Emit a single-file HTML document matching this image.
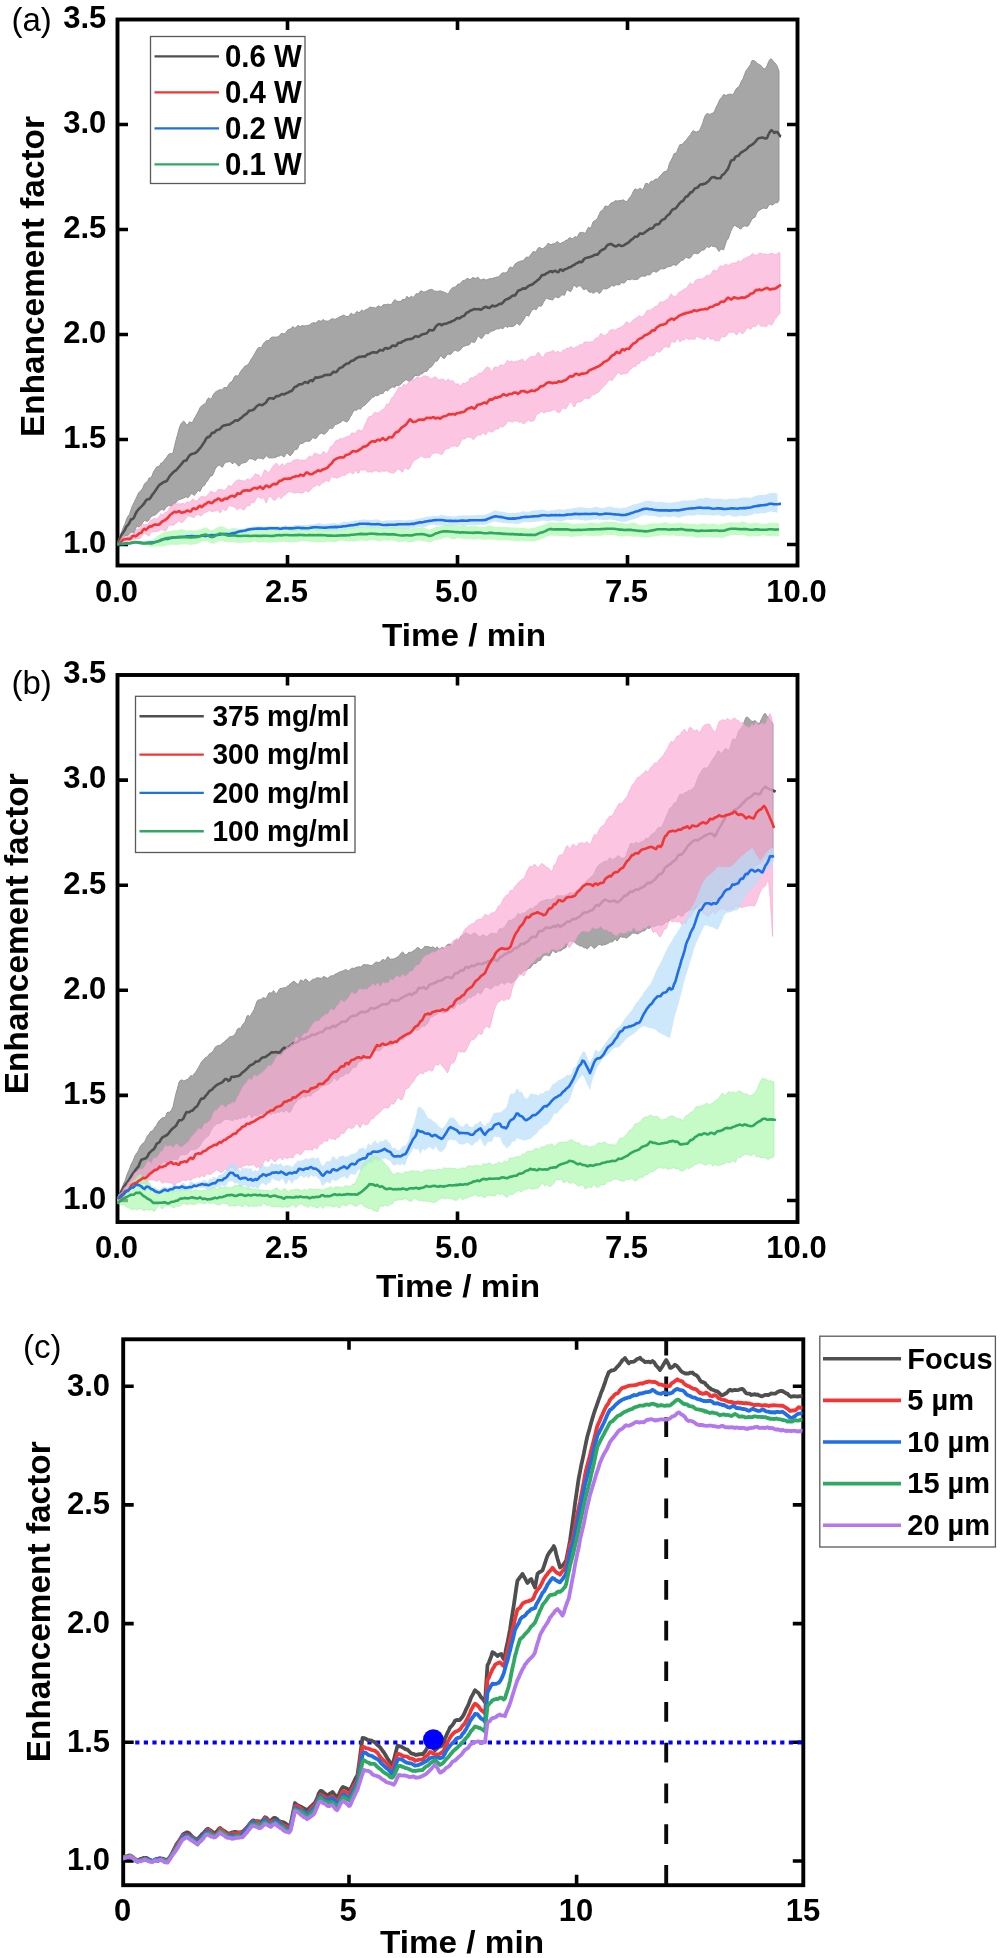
<!DOCTYPE html>
<html lang="en"><head><meta charset="utf-8"><title>Enhancement factor figure</title>
<style>
html,body{margin:0;padding:0;background:#fff}
body{width:1000px;height:1958px;overflow:hidden}
svg{display:block;filter:blur(0.4px)}
svg text{font-family:"Liberation Sans",Arial,Helvetica,sans-serif;fill:#000}
</style></head><body>
<svg width="1000" height="1958" viewBox="0 0 1000 1958">
<rect width="1000" height="1958" fill="#fff"/>
<g id="panelA">
<rect x="117.5" y="19.5" width="680.0" height="546.0" fill="none" stroke="#000" stroke-width="3.9"/>
<path d="M287.5,565.5V555.0M287.5,19.5V30.0M457.5,565.5V555.0M457.5,19.5V30.0M627.5,565.5V555.0M627.5,19.5V30.0M117.5,544.5H128.0M797.5,544.5H787.0M117.5,439.5H128.0M797.5,439.5H787.0M117.5,334.5H128.0M797.5,334.5H787.0M117.5,229.5H128.0M797.5,229.5H787.0M117.5,124.5H128.0M797.5,124.5H787.0" stroke="#000" stroke-width="3.6" fill="none"/>
<path d="M117.5,542.0 L119.0,538.1 L120.5,535.1 L122.0,530.9 L123.5,527.0 L125.0,524.0 L126.5,519.1 L128.0,516.2 L129.5,514.4 L131.0,509.6 L132.5,505.4 L134.0,502.7 L135.5,499.4 L137.0,496.4 L138.5,493.1 L140.0,491.3 L141.5,490.1 L143.0,487.5 L144.5,483.8 L146.0,482.5 L147.5,481.4 L149.0,478.0 L150.5,477.7 L152.0,476.1 L153.5,471.7 L155.0,469.6 L156.5,467.1 L158.0,466.5 L159.5,466.1 L161.0,463.1 L162.5,462.8 L164.0,460.6 L165.5,458.6 L167.0,456.8 L168.5,454.4 L170.0,453.6 L171.5,453.7 L173.0,453.1 L174.5,446.3 L176.0,440.1 L177.5,434.7 L179.0,429.0 L180.5,424.7 L182.0,422.5 L183.5,421.2 L185.0,422.3 L186.5,424.9 L188.0,424.4 L189.5,421.8 L191.0,422.5 L192.5,422.6 L194.0,418.9 L195.5,416.5 L197.0,413.9 L198.5,411.1 L200.0,407.7 L201.5,405.9 L203.0,404.9 L204.5,404.1 L206.0,402.6 L207.5,398.9 L209.0,397.7 L210.5,399.2 L212.0,397.6 L213.5,394.3 L215.0,392.4 L216.5,391.2 L218.0,390.8 L219.5,389.6 L221.0,389.9 L222.5,389.5 L224.0,387.4 L225.5,387.6 L227.0,387.6 L228.5,385.0 L230.0,382.6 L231.5,381.8 L233.0,379.9 L234.5,376.5 L236.0,375.6 L237.5,376.2 L239.0,374.5 L240.5,371.6 L242.0,369.6 L243.5,368.1 L245.0,366.0 L246.5,365.4 L248.0,364.8 L249.5,362.3 L251.0,359.5 L252.5,357.4 L254.0,354.9 L255.5,352.2 L257.0,349.6 L258.5,347.5 L260.0,347.7 L261.5,347.4 L263.0,344.4 L264.5,342.3 L266.0,340.9 L267.5,340.5 L269.0,340.5 L270.5,338.1 L272.0,337.1 L273.5,337.0 L275.0,337.2 L276.5,337.1 L278.0,336.7 L279.5,335.7 L281.0,333.5 L282.5,333.5 L284.0,333.9 L285.5,333.4 L287.0,330.7 L288.5,329.4 L290.0,329.3 L291.5,327.9 L293.0,326.6 L294.5,327.9 L296.0,327.8 L297.5,325.6 L299.0,326.0 L300.5,326.5 L302.0,325.6 L303.5,325.8 L305.0,326.0 L306.5,325.4 L308.0,325.4 L309.5,325.1 L311.0,323.6 L312.5,322.9 L314.0,322.7 L315.5,322.9 L317.0,322.2 L318.5,320.4 L320.0,321.1 L321.5,321.2 L323.0,319.4 L324.5,320.5 L326.0,321.2 L327.5,321.0 L329.0,320.9 L330.5,319.5 L332.0,318.7 L333.5,318.9 L335.0,319.4 L336.5,318.6 L338.0,318.0 L339.5,316.8 L341.0,316.4 L342.5,315.6 L344.0,314.9 L345.5,316.2 L347.0,316.6 L348.5,316.8 L350.0,314.3 L351.5,313.1 L353.0,314.7 L354.5,314.4 L356.0,312.3 L357.5,311.4 L359.0,313.1 L360.5,311.2 L362.0,309.7 L363.5,311.4 L365.0,310.1 L366.5,309.4 L368.0,308.7 L369.5,307.3 L371.0,307.1 L372.5,307.5 L374.0,307.7 L375.5,307.9 L377.0,306.9 L378.5,305.7 L380.0,306.8 L381.5,307.0 L383.0,304.9 L384.5,304.6 L386.0,304.8 L387.5,304.2 L389.0,304.3 L390.5,304.5 L392.0,303.9 L393.5,301.1 L395.0,299.5 L396.5,301.1 L398.0,301.5 L399.5,301.3 L401.0,301.3 L402.5,299.4 L404.0,299.6 L405.5,299.1 L407.0,296.2 L408.5,298.0 L410.0,297.6 L411.5,295.9 L413.0,297.4 L414.5,296.4 L416.0,293.8 L417.5,293.8 L419.0,293.3 L420.5,290.9 L422.0,291.1 L423.5,292.0 L425.0,291.9 L426.5,291.3 L428.0,290.3 L429.5,289.8 L431.0,289.4 L432.5,289.5 L434.0,291.0 L435.5,291.2 L437.0,291.3 L438.5,291.3 L440.0,290.7 L441.5,291.3 L443.0,291.8 L444.5,292.4 L446.0,292.9 L447.5,294.0 L449.0,292.5 L450.5,289.9 L452.0,288.2 L453.5,287.2 L455.0,287.4 L456.5,285.7 L458.0,284.0 L459.5,284.0 L461.0,282.8 L462.5,280.8 L464.0,280.5 L465.5,279.8 L467.0,278.3 L468.5,278.8 L470.0,279.6 L471.5,278.6 L473.0,277.4 L474.5,278.1 L476.0,278.6 L477.5,277.1 L479.0,278.3 L480.5,279.9 L482.0,279.7 L483.5,278.9 L485.0,279.5 L486.5,280.1 L488.0,279.2 L489.5,278.8 L491.0,278.3 L492.5,278.5 L494.0,277.8 L495.5,277.6 L497.0,277.0 L498.5,276.7 L500.0,275.6 L501.5,273.4 L503.0,272.8 L504.5,272.9 L506.0,272.7 L507.5,271.7 L509.0,268.3 L510.5,266.8 L512.0,268.1 L513.5,266.7 L515.0,264.1 L516.5,263.1 L518.0,262.1 L519.5,261.5 L521.0,261.0 L522.5,260.7 L524.0,260.2 L525.5,257.8 L527.0,257.0 L528.5,257.4 L530.0,255.6 L531.5,253.7 L533.0,251.6 L534.5,251.7 L536.0,252.2 L537.5,249.0 L539.0,247.3 L540.5,247.9 L542.0,248.9 L543.5,248.2 L545.0,247.1 L546.5,245.5 L548.0,243.3 L549.5,243.9 L551.0,244.8 L552.5,243.8 L554.0,244.0 L555.5,243.0 L557.0,241.4 L558.5,242.5 L560.0,243.9 L561.5,242.8 L563.0,242.3 L564.5,241.5 L566.0,240.1 L567.5,240.1 L569.0,238.0 L570.5,237.7 L572.0,239.0 L573.5,238.0 L575.0,236.6 L576.5,237.2 L578.0,235.6 L579.5,232.8 L581.0,232.6 L582.5,232.2 L584.0,233.0 L585.5,233.2 L587.0,229.7 L588.5,227.2 L590.0,228.2 L591.5,226.4 L593.0,221.9 L594.5,220.7 L596.0,220.0 L597.5,218.2 L599.0,214.8 L600.5,211.5 L602.0,210.5 L603.5,209.1 L605.0,206.1 L606.5,206.0 L608.0,206.9 L609.5,204.8 L611.0,203.1 L612.5,202.5 L614.0,201.9 L615.5,200.5 L617.0,201.1 L618.5,200.8 L620.0,200.6 L621.5,200.4 L623.0,199.8 L624.5,200.6 L626.0,201.8 L627.5,200.9 L629.0,198.2 L630.5,197.3 L632.0,194.2 L633.5,191.0 L635.0,188.9 L636.5,189.4 L638.0,189.9 L639.5,188.2 L641.0,188.5 L642.5,190.0 L644.0,187.4 L645.5,183.6 L647.0,183.2 L648.5,184.5 L650.0,182.3 L651.5,181.1 L653.0,181.5 L654.5,179.6 L656.0,179.1 L657.5,179.2 L659.0,177.2 L660.5,175.4 L662.0,174.1 L663.5,172.1 L665.0,171.5 L666.5,171.3 L668.0,168.8 L669.5,163.2 L671.0,160.6 L672.5,157.6 L674.0,153.7 L675.5,153.4 L677.0,151.4 L678.5,147.4 L680.0,144.5 L681.5,144.5 L683.0,143.8 L684.5,141.5 L686.0,140.4 L687.5,138.2 L689.0,136.3 L690.5,134.7 L692.0,131.7 L693.5,130.4 L695.0,131.8 L696.5,131.9 L698.0,131.4 L699.5,130.5 L701.0,127.2 L702.5,123.7 L704.0,118.7 L705.5,114.9 L707.0,113.6 L708.5,113.9 L710.0,114.4 L711.5,113.4 L713.0,113.2 L714.5,111.2 L716.0,107.5 L717.5,104.8 L719.0,101.3 L720.5,98.5 L722.0,97.3 L723.5,94.6 L725.0,95.1 L726.5,95.4 L728.0,94.4 L729.5,94.2 L731.0,94.1 L732.5,95.0 L734.0,93.1 L735.5,89.9 L737.0,87.9 L738.5,87.2 L740.0,84.5 L741.5,80.9 L743.0,79.0 L744.5,74.5 L746.0,70.7 L747.5,68.9 L749.0,66.8 L750.5,64.5 L752.0,60.5 L753.5,60.5 L755.0,61.2 L756.5,62.4 L758.0,64.0 L759.5,64.7 L761.0,65.6 L762.5,67.5 L764.0,69.0 L765.5,68.4 L767.0,65.9 L768.5,62.0 L770.0,59.2 L771.5,58.9 L773.0,60.9 L774.5,62.5 L776.0,64.1 L777.5,67.1 L779.0,71.3 L779.0,200.3 L777.5,202.8 L776.0,202.6 L774.5,203.3 L773.0,204.9 L771.5,204.9 L770.0,204.0 L768.5,205.7 L767.0,208.4 L765.5,208.6 L764.0,208.0 L762.5,208.5 L761.0,209.2 L759.5,210.2 L758.0,211.0 L756.5,213.6 L755.0,217.2 L753.5,217.9 L752.0,218.9 L750.5,221.9 L749.0,224.8 L747.5,226.4 L746.0,226.1 L744.5,225.9 L743.0,226.3 L741.5,228.6 L740.0,229.0 L738.5,227.3 L737.0,227.0 L735.5,225.7 L734.0,225.6 L732.5,227.8 L731.0,230.8 L729.5,235.1 L728.0,239.1 L726.5,240.8 L725.0,245.6 L723.5,250.0 L722.0,248.9 L720.5,249.4 L719.0,251.5 L717.5,249.3 L716.0,246.8 L714.5,246.7 L713.0,246.4 L711.5,245.7 L710.0,246.9 L708.5,247.5 L707.0,246.3 L705.5,248.3 L704.0,250.2 L702.5,249.9 L701.0,251.0 L699.5,252.6 L698.0,253.6 L696.5,253.7 L695.0,253.1 L693.5,253.6 L692.0,255.6 L690.5,257.8 L689.0,258.3 L687.5,257.9 L686.0,257.1 L684.5,258.8 L683.0,260.4 L681.5,260.3 L680.0,261.8 L678.5,263.3 L677.0,264.8 L675.5,265.4 L674.0,264.7 L672.5,264.9 L671.0,266.5 L669.5,266.5 L668.0,266.8 L666.5,267.6 L665.0,268.5 L663.5,269.0 L662.0,268.6 L660.5,269.0 L659.0,270.3 L657.5,271.5 L656.0,272.3 L654.5,271.4 L653.0,271.2 L651.5,273.1 L650.0,274.8 L648.5,274.9 L647.0,274.7 L645.5,276.1 L644.0,276.2 L642.5,275.9 L641.0,276.5 L639.5,277.5 L638.0,279.2 L636.5,279.5 L635.0,279.6 L633.5,279.6 L632.0,278.8 L630.5,279.7 L629.0,279.7 L627.5,279.5 L626.0,280.9 L624.5,282.9 L623.0,283.0 L621.5,282.5 L620.0,284.4 L618.5,285.0 L617.0,284.6 L615.5,285.0 L614.0,286.3 L612.5,285.6 L611.0,285.7 L609.5,287.6 L608.0,288.0 L606.5,289.0 L605.0,288.9 L603.5,288.6 L602.0,290.2 L600.5,292.6 L599.0,293.5 L597.5,291.6 L596.0,291.4 L594.5,292.6 L593.0,293.2 L591.5,292.1 L590.0,292.3 L588.5,291.7 L587.0,289.2 L585.5,288.8 L584.0,289.9 L582.5,288.6 L581.0,285.8 L579.5,285.8 L578.0,286.2 L576.5,287.6 L575.0,285.7 L573.5,285.0 L572.0,289.5 L570.5,291.7 L569.0,290.8 L567.5,290.0 L566.0,291.3 L564.5,295.2 L563.0,294.9 L561.5,294.8 L560.0,296.8 L558.5,297.7 L557.0,297.5 L555.5,296.7 L554.0,298.3 L552.5,300.2 L551.0,299.3 L549.5,299.5 L548.0,298.8 L546.5,298.0 L545.0,299.8 L543.5,302.1 L542.0,305.5 L540.5,306.4 L539.0,305.4 L537.5,307.7 L536.0,310.0 L534.5,308.9 L533.0,309.5 L531.5,310.8 L530.0,313.7 L528.5,316.3 L527.0,315.1 L525.5,316.1 L524.0,319.2 L522.5,321.3 L521.0,323.6 L519.5,325.3 L518.0,323.9 L516.5,323.0 L515.0,325.2 L513.5,326.2 L512.0,326.6 L510.5,326.6 L509.0,326.2 L507.5,327.7 L506.0,326.1 L504.5,326.6 L503.0,328.8 L501.5,328.2 L500.0,328.0 L498.5,329.1 L497.0,328.8 L495.5,329.4 L494.0,330.6 L492.5,330.9 L491.0,331.3 L489.5,332.8 L488.0,334.1 L486.5,333.4 L485.0,333.9 L483.5,336.3 L482.0,338.3 L480.5,338.2 L479.0,336.0 L477.5,336.4 L476.0,340.2 L474.5,342.5 L473.0,342.2 L471.5,341.6 L470.0,343.8 L468.5,345.3 L467.0,345.0 L465.5,345.9 L464.0,346.1 L462.5,346.9 L461.0,349.3 L459.5,350.5 L458.0,351.3 L456.5,350.8 L455.0,350.0 L453.5,351.0 L452.0,353.0 L450.5,354.6 L449.0,354.1 L447.5,354.2 L446.0,356.2 L444.5,358.5 L443.0,358.0 L441.5,356.3 L440.0,355.9 L438.5,359.2 L437.0,361.3 L435.5,360.9 L434.0,362.9 L432.5,365.5 L431.0,367.3 L429.5,367.3 L428.0,370.0 L426.5,371.7 L425.0,371.3 L423.5,372.7 L422.0,373.7 L420.5,374.3 L419.0,375.7 L417.5,375.8 L416.0,375.4 L414.5,375.8 L413.0,378.2 L411.5,380.1 L410.0,381.1 L408.5,381.3 L407.0,379.8 L405.5,380.1 L404.0,381.0 L402.5,382.6 L401.0,384.0 L399.5,385.1 L398.0,385.8 L396.5,385.2 L395.0,387.3 L393.5,387.1 L392.0,386.9 L390.5,388.2 L389.0,389.2 L387.5,391.1 L386.0,390.0 L384.5,391.0 L383.0,393.6 L381.5,393.6 L380.0,393.8 L378.5,395.2 L377.0,395.7 L375.5,395.5 L374.0,396.9 L372.5,397.2 L371.0,398.7 L369.5,400.5 L368.0,401.9 L366.5,403.5 L365.0,405.1 L363.5,405.9 L362.0,406.9 L360.5,409.3 L359.0,408.5 L357.5,409.4 L356.0,410.4 L354.5,409.9 L353.0,411.9 L351.5,415.0 L350.0,417.3 L348.5,420.4 L347.0,422.1 L345.5,421.4 L344.0,420.8 L342.5,420.2 L341.0,422.1 L339.5,422.9 L338.0,423.6 L336.5,424.4 L335.0,424.5 L333.5,427.1 L332.0,428.8 L330.5,428.1 L329.0,428.6 L327.5,431.3 L326.0,432.7 L324.5,434.2 L323.0,433.9 L321.5,433.1 L320.0,433.8 L318.5,434.9 L317.0,437.5 L315.5,438.7 L314.0,438.0 L312.5,437.6 L311.0,439.9 L309.5,441.3 L308.0,441.2 L306.5,441.2 L305.0,441.5 L303.5,442.9 L302.0,443.4 L300.5,443.7 L299.0,445.2 L297.5,448.9 L296.0,449.6 L294.5,449.6 L293.0,452.5 L291.5,454.6 L290.0,455.8 L288.5,454.4 L287.0,452.8 L285.5,454.7 L284.0,457.1 L282.5,455.9 L281.0,454.8 L279.5,456.0 L278.0,456.1 L276.5,456.9 L275.0,457.7 L273.5,457.6 L272.0,458.1 L270.5,457.7 L269.0,458.1 L267.5,456.8 L266.0,455.4 L264.5,458.0 L263.0,459.3 L261.5,458.3 L260.0,458.3 L258.5,458.0 L257.0,458.5 L255.5,460.6 L254.0,459.8 L252.5,458.9 L251.0,459.0 L249.5,458.3 L248.0,460.2 L246.5,462.1 L245.0,462.6 L243.5,462.9 L242.0,463.0 L240.5,464.5 L239.0,466.2 L237.5,465.1 L236.0,463.0 L234.5,461.9 L233.0,463.7 L231.5,463.1 L230.0,461.1 L228.5,462.0 L227.0,461.9 L225.5,462.6 L224.0,464.2 L222.5,467.2 L221.0,466.6 L219.5,464.9 L218.0,465.8 L216.5,466.9 L215.0,469.4 L213.5,473.5 L212.0,475.9 L210.5,475.9 L209.0,478.3 L207.5,480.9 L206.0,482.5 L204.5,485.6 L203.0,485.8 L201.5,488.2 L200.0,491.5 L198.5,490.6 L197.0,491.5 L195.5,494.1 L194.0,495.5 L192.5,493.9 L191.0,493.5 L189.5,496.1 L188.0,497.8 L186.5,497.0 L185.0,497.1 L183.5,498.1 L182.0,498.7 L180.5,499.2 L179.0,499.6 L177.5,500.5 L176.0,502.7 L174.5,503.6 L173.0,504.3 L171.5,506.2 L170.0,505.5 L168.5,505.8 L167.0,506.4 L165.5,507.9 L164.0,510.5 L162.5,509.3 L161.0,509.6 L159.5,511.0 L158.0,512.0 L156.5,514.1 L155.0,514.9 L153.5,515.6 L152.0,516.1 L150.5,517.2 L149.0,519.9 L147.5,521.5 L146.0,521.0 L144.5,520.4 L143.0,522.1 L141.5,524.5 L140.0,526.3 L138.5,527.2 L137.0,525.7 L135.5,528.8 L134.0,533.1 L132.5,532.2 L131.0,532.3 L129.5,534.0 L128.0,535.1 L126.5,535.9 L125.0,535.7 L123.5,538.4 L122.0,542.4 L120.5,543.5 L119.0,544.1 L117.5,545.0Z" fill="#a5a6a5" stroke="#8e8e8e" stroke-width="0.9" stroke-linejoin="round"/>
<path d="M117.5,543.0 L119.0,540.3 L120.5,536.9 L122.0,534.0 L123.5,532.0 L125.0,529.6 L126.5,526.4 L128.0,525.1 L129.5,522.8 L131.0,519.3 L132.5,519.2 L134.0,517.6 L135.5,513.7 L137.0,511.3 L138.5,509.3 L140.0,507.9 L141.5,506.4 L143.0,504.9 L144.5,502.9 L146.0,500.4 L147.5,499.3 L149.0,499.2 L150.5,497.8 L152.0,495.1 L153.5,493.2 L155.0,491.2 L156.5,489.0 L158.0,486.7 L159.5,484.7 L161.0,484.0 L162.5,482.8 L164.0,481.8 L165.5,481.6 L167.0,480.6 L168.5,478.1 L170.0,475.6 L171.5,474.1 L173.0,472.5 L174.5,471.2 L176.0,470.3 L177.5,468.7 L179.0,466.9 L180.5,465.2 L182.0,463.4 L183.5,461.2 L185.0,460.6 L186.5,460.4 L188.0,457.7 L189.5,455.4 L191.0,454.4 L192.5,453.7 L194.0,453.5 L195.5,452.9 L197.0,451.6 L198.5,450.0 L200.0,448.2 L201.5,446.2 L203.0,444.1 L204.5,441.8 L206.0,438.8 L207.5,437.0 L209.0,437.1 L210.5,435.3 L212.0,432.9 L213.5,432.7 L215.0,432.0 L216.5,430.1 L218.0,429.8 L219.5,429.4 L221.0,427.9 L222.5,426.1 L224.0,425.4 L225.5,425.3 L227.0,424.8 L228.5,424.7 L230.0,424.3 L231.5,423.1 L233.0,422.3 L234.5,420.9 L236.0,420.3 L237.5,420.8 L239.0,419.7 L240.5,418.3 L242.0,417.4 L243.5,415.7 L245.0,414.6 L246.5,414.1 L248.0,412.0 L249.5,410.5 L251.0,410.5 L252.5,410.2 L254.0,409.3 L255.5,407.7 L257.0,406.0 L258.5,405.0 L260.0,404.6 L261.5,405.2 L263.0,404.8 L264.5,403.5 L266.0,402.6 L267.5,400.0 L269.0,398.4 L270.5,398.2 L272.0,398.2 L273.5,398.9 L275.0,397.4 L276.5,396.0 L278.0,396.3 L279.5,395.6 L281.0,394.5 L282.5,394.0 L284.0,394.4 L285.5,393.7 L287.0,392.8 L288.5,392.4 L290.0,391.3 L291.5,391.1 L293.0,389.4 L294.5,387.1 L296.0,386.7 L297.5,385.7 L299.0,384.4 L300.5,384.3 L302.0,384.2 L303.5,383.0 L305.0,382.1 L306.5,382.5 L308.0,382.9 L309.5,380.9 L311.0,380.2 L312.5,381.2 L314.0,379.3 L315.5,377.4 L317.0,377.6 L318.5,377.6 L320.0,376.8 L321.5,377.0 L323.0,376.1 L324.5,375.1 L326.0,375.0 L327.5,374.8 L329.0,374.9 L330.5,374.7 L332.0,373.3 L333.5,371.6 L335.0,372.2 L336.5,371.9 L338.0,370.0 L339.5,368.2 L341.0,367.6 L342.5,367.0 L344.0,365.5 L345.5,364.3 L347.0,363.5 L348.5,363.5 L350.0,362.1 L351.5,360.8 L353.0,360.7 L354.5,359.7 L356.0,358.3 L357.5,357.7 L359.0,356.8 L360.5,356.9 L362.0,356.6 L363.5,356.2 L365.0,356.7 L366.5,355.1 L368.0,354.1 L369.5,354.0 L371.0,352.9 L372.5,352.4 L374.0,352.4 L375.5,352.5 L377.0,352.7 L378.5,351.2 L380.0,349.9 L381.5,350.3 L383.0,350.6 L384.5,348.5 L386.0,348.0 L387.5,348.7 L389.0,348.3 L390.5,347.6 L392.0,345.8 L393.5,345.5 L395.0,346.1 L396.5,345.5 L398.0,343.0 L399.5,342.8 L401.0,342.7 L402.5,341.3 L404.0,341.0 L405.5,339.9 L407.0,339.4 L408.5,339.3 L410.0,339.1 L411.5,338.9 L413.0,338.3 L414.5,336.7 L416.0,336.1 L417.5,336.7 L419.0,336.6 L420.5,335.4 L422.0,334.4 L423.5,334.1 L425.0,333.8 L426.5,333.5 L428.0,331.8 L429.5,329.9 L431.0,330.2 L432.5,330.4 L434.0,329.7 L435.5,326.9 L437.0,325.3 L438.5,324.2 L440.0,324.1 L441.5,325.3 L443.0,324.4 L444.5,323.7 L446.0,323.8 L447.5,323.1 L449.0,322.3 L450.5,322.2 L452.0,321.2 L453.5,320.6 L455.0,319.8 L456.5,318.3 L458.0,318.1 L459.5,318.5 L461.0,317.2 L462.5,316.3 L464.0,316.0 L465.5,314.0 L467.0,312.5 L468.5,312.1 L470.0,310.7 L471.5,310.3 L473.0,309.6 L474.5,308.9 L476.0,309.2 L477.5,309.3 L479.0,309.1 L480.5,309.8 L482.0,309.1 L483.5,307.7 L485.0,307.0 L486.5,306.8 L488.0,307.8 L489.5,307.9 L491.0,306.6 L492.5,305.5 L494.0,306.3 L495.5,306.1 L497.0,305.6 L498.5,304.4 L500.0,303.7 L501.5,303.9 L503.0,302.5 L504.5,300.6 L506.0,299.4 L507.5,299.0 L509.0,298.3 L510.5,297.3 L512.0,296.1 L513.5,295.4 L515.0,295.4 L516.5,293.3 L518.0,290.8 L519.5,290.2 L521.0,289.7 L522.5,288.6 L524.0,288.4 L525.5,288.6 L527.0,287.2 L528.5,285.9 L530.0,285.2 L531.5,284.8 L533.0,284.0 L534.5,282.6 L536.0,281.7 L537.5,280.1 L539.0,279.3 L540.5,277.3 L542.0,275.1 L543.5,275.0 L545.0,274.6 L546.5,273.3 L548.0,272.7 L549.5,271.5 L551.0,271.2 L552.5,272.2 L554.0,271.0 L555.5,270.9 L557.0,272.0 L558.5,272.2 L560.0,269.6 L561.5,269.7 L563.0,270.9 L564.5,269.3 L566.0,269.0 L567.5,268.4 L569.0,267.2 L570.5,267.2 L572.0,265.9 L573.5,265.3 L575.0,264.3 L576.5,263.2 L578.0,262.7 L579.5,261.6 L581.0,262.2 L582.5,261.5 L584.0,259.0 L585.5,258.1 L587.0,257.7 L588.5,257.2 L590.0,257.1 L591.5,256.5 L593.0,255.9 L594.5,254.9 L596.0,254.5 L597.5,254.8 L599.0,252.9 L600.5,250.9 L602.0,250.0 L603.5,249.3 L605.0,248.6 L606.5,246.1 L608.0,244.7 L609.5,244.3 L611.0,243.9 L612.5,244.8 L614.0,245.8 L615.5,246.4 L617.0,246.0 L618.5,244.8 L620.0,245.3 L621.5,246.1 L623.0,245.8 L624.5,244.9 L626.0,243.9 L627.5,243.1 L629.0,242.1 L630.5,240.3 L632.0,239.3 L633.5,238.2 L635.0,236.6 L636.5,236.8 L638.0,236.0 L639.5,233.6 L641.0,233.5 L642.5,234.0 L644.0,233.1 L645.5,231.9 L647.0,230.7 L648.5,229.8 L650.0,228.4 L651.5,228.7 L653.0,227.9 L654.5,225.6 L656.0,224.4 L657.5,224.5 L659.0,224.1 L660.5,221.7 L662.0,220.0 L663.5,219.4 L665.0,218.7 L666.5,216.4 L668.0,215.0 L669.5,214.1 L671.0,211.5 L672.5,209.7 L674.0,208.9 L675.5,208.5 L677.0,206.8 L678.5,204.7 L680.0,202.9 L681.5,201.5 L683.0,201.0 L684.5,198.6 L686.0,196.5 L687.5,196.4 L689.0,194.4 L690.5,192.4 L692.0,192.3 L693.5,190.2 L695.0,188.3 L696.5,188.0 L698.0,187.3 L699.5,185.2 L701.0,184.4 L702.5,184.5 L704.0,183.8 L705.5,183.6 L707.0,182.3 L708.5,181.2 L710.0,179.3 L711.5,177.5 L713.0,177.2 L714.5,177.0 L716.0,178.3 L717.5,178.3 L719.0,178.3 L720.5,178.3 L722.0,175.2 L723.5,174.4 L725.0,172.9 L726.5,170.6 L728.0,168.8 L729.5,164.9 L731.0,160.8 L732.5,160.1 L734.0,159.7 L735.5,156.7 L737.0,156.1 L738.5,155.7 L740.0,153.7 L741.5,152.2 L743.0,151.5 L744.5,150.5 L746.0,149.6 L747.5,148.1 L749.0,146.3 L750.5,145.6 L752.0,144.7 L753.5,143.7 L755.0,142.1 L756.5,140.2 L758.0,138.5 L759.5,138.1 L761.0,137.8 L762.5,137.5 L764.0,138.1 L765.5,138.6 L767.0,138.0 L768.5,134.5 L770.0,131.6 L771.5,130.1 L773.0,131.6 L774.5,132.9 L776.0,131.9 L777.5,132.3 L779.0,134.5 L780.5,136.4 L781.0,136.5" fill="none" stroke="#4f4f4f" stroke-width="2.6" stroke-linejoin="round" stroke-linecap="butt"/>
<path d="M117.5,544.0 L119.0,543.0 L120.5,539.5 L122.0,537.5 L123.5,535.7 L125.0,536.7 L126.5,537.5 L128.0,536.1 L129.5,535.2 L131.0,534.9 L132.5,535.0 L134.0,533.3 L135.5,530.9 L137.0,529.0 L138.5,529.2 L140.0,528.6 L141.5,525.4 L143.0,524.6 L144.5,524.8 L146.0,524.7 L147.5,524.6 L149.0,522.5 L150.5,520.3 L152.0,519.9 L153.5,518.8 L155.0,518.3 L156.5,519.0 L158.0,518.4 L159.5,515.9 L161.0,513.7 L162.5,514.9 L164.0,513.8 L165.5,512.0 L167.0,512.1 L168.5,509.9 L170.0,507.2 L171.5,506.4 L173.0,505.2 L174.5,503.5 L176.0,504.0 L177.5,503.7 L179.0,503.6 L180.5,504.1 L182.0,503.4 L183.5,503.6 L185.0,504.3 L186.5,502.2 L188.0,501.7 L189.5,502.3 L191.0,501.4 L192.5,499.1 L194.0,499.6 L195.5,501.2 L197.0,500.4 L198.5,499.4 L200.0,497.2 L201.5,496.4 L203.0,496.0 L204.5,497.1 L206.0,496.8 L207.5,494.9 L209.0,493.4 L210.5,491.2 L212.0,491.5 L213.5,492.6 L215.0,492.9 L216.5,492.0 L218.0,489.4 L219.5,489.5 L221.0,489.7 L222.5,489.6 L224.0,491.1 L225.5,489.6 L227.0,488.0 L228.5,485.4 L230.0,485.9 L231.5,486.3 L233.0,484.2 L234.5,482.4 L236.0,480.9 L237.5,480.3 L239.0,479.7 L240.5,480.3 L242.0,480.4 L243.5,481.1 L245.0,480.9 L246.5,479.5 L248.0,478.8 L249.5,479.9 L251.0,478.8 L252.5,477.5 L254.0,475.7 L255.5,473.4 L257.0,474.8 L258.5,474.8 L260.0,476.4 L261.5,478.1 L263.0,473.7 L264.5,470.0 L266.0,470.5 L267.5,472.1 L269.0,472.4 L270.5,470.5 L272.0,467.6 L273.5,465.8 L275.0,464.2 L276.5,463.1 L278.0,465.2 L279.5,466.7 L281.0,464.7 L282.5,463.7 L284.0,465.6 L285.5,465.2 L287.0,463.1 L288.5,462.9 L290.0,463.1 L291.5,462.2 L293.0,460.8 L294.5,459.9 L296.0,459.9 L297.5,459.3 L299.0,459.8 L300.5,460.6 L302.0,459.9 L303.5,460.3 L305.0,460.2 L306.5,459.2 L308.0,457.7 L309.5,455.8 L311.0,457.1 L312.5,456.5 L314.0,453.7 L315.5,453.3 L317.0,453.8 L318.5,454.6 L320.0,455.1 L321.5,454.3 L323.0,451.7 L324.5,451.9 L326.0,453.9 L327.5,453.4 L329.0,449.9 L330.5,446.6 L332.0,446.2 L333.5,444.8 L335.0,441.6 L336.5,440.3 L338.0,440.6 L339.5,438.7 L341.0,438.7 L342.5,438.7 L344.0,437.7 L345.5,437.7 L347.0,436.2 L348.5,436.6 L350.0,435.7 L351.5,433.0 L353.0,432.9 L354.5,433.5 L356.0,432.5 L357.5,430.2 L359.0,430.0 L360.5,430.6 L362.0,431.0 L363.5,428.5 L365.0,424.5 L366.5,421.8 L368.0,418.0 L369.5,416.1 L371.0,416.8 L372.5,415.1 L374.0,413.1 L375.5,412.2 L377.0,413.1 L378.5,412.9 L380.0,411.5 L381.5,410.5 L383.0,409.3 L384.5,408.8 L386.0,405.2 L387.5,403.8 L389.0,404.3 L390.5,400.4 L392.0,397.6 L393.5,396.7 L395.0,393.7 L396.5,391.6 L398.0,388.6 L399.5,386.8 L401.0,388.1 L402.5,386.0 L404.0,384.1 L405.5,385.5 L407.0,384.8 L408.5,382.3 L410.0,380.6 L411.5,380.3 L413.0,380.1 L414.5,379.6 L416.0,377.6 L417.5,377.1 L419.0,378.1 L420.5,377.7 L422.0,377.4 L423.5,375.8 L425.0,375.9 L426.5,376.2 L428.0,376.4 L429.5,377.7 L431.0,379.0 L432.5,378.6 L434.0,377.2 L435.5,376.8 L437.0,378.2 L438.5,380.0 L440.0,379.7 L441.5,379.1 L443.0,379.2 L444.5,379.9 L446.0,381.8 L447.5,379.6 L449.0,379.4 L450.5,381.9 L452.0,380.2 L453.5,381.3 L455.0,383.7 L456.5,384.2 L458.0,383.6 L459.5,385.5 L461.0,386.3 L462.5,383.3 L464.0,383.6 L465.5,383.5 L467.0,382.1 L468.5,381.6 L470.0,378.2 L471.5,377.8 L473.0,378.3 L474.5,376.2 L476.0,376.4 L477.5,374.7 L479.0,373.3 L480.5,373.6 L482.0,372.4 L483.5,371.3 L485.0,369.1 L486.5,367.2 L488.0,367.1 L489.5,368.0 L491.0,371.7 L492.5,371.2 L494.0,367.4 L495.5,366.7 L497.0,367.2 L498.5,367.4 L500.0,365.1 L501.5,364.9 L503.0,365.4 L504.5,364.8 L506.0,362.7 L507.5,360.2 L509.0,362.0 L510.5,361.3 L512.0,360.8 L513.5,362.2 L515.0,361.6 L516.5,361.2 L518.0,360.9 L519.5,360.6 L521.0,359.7 L522.5,358.9 L524.0,361.3 L525.5,361.9 L527.0,359.6 L528.5,358.5 L530.0,357.0 L531.5,356.5 L533.0,356.5 L534.5,356.7 L536.0,355.8 L537.5,352.7 L539.0,352.7 L540.5,355.0 L542.0,357.3 L543.5,357.3 L545.0,354.0 L546.5,352.7 L548.0,352.4 L549.5,352.1 L551.0,351.9 L552.5,350.3 L554.0,351.2 L555.5,352.4 L557.0,351.6 L558.5,351.4 L560.0,353.0 L561.5,352.4 L563.0,349.9 L564.5,350.2 L566.0,348.7 L567.5,348.1 L569.0,348.5 L570.5,346.7 L572.0,347.0 L573.5,348.7 L575.0,347.6 L576.5,346.6 L578.0,347.1 L579.5,344.7 L581.0,344.7 L582.5,344.8 L584.0,342.3 L585.5,341.9 L587.0,341.8 L588.5,342.4 L590.0,341.7 L591.5,341.8 L593.0,342.0 L594.5,339.5 L596.0,337.9 L597.5,338.1 L599.0,336.4 L600.5,333.7 L602.0,333.9 L603.5,335.5 L605.0,335.7 L606.5,334.4 L608.0,333.3 L609.5,330.7 L611.0,329.9 L612.5,329.5 L614.0,329.7 L615.5,330.4 L617.0,328.8 L618.5,328.3 L620.0,327.8 L621.5,326.8 L623.0,325.9 L624.5,324.4 L626.0,322.1 L627.5,322.0 L629.0,323.5 L630.5,323.2 L632.0,321.0 L633.5,319.8 L635.0,318.7 L636.5,317.7 L638.0,316.7 L639.5,315.6 L641.0,317.0 L642.5,316.6 L644.0,315.4 L645.5,313.2 L647.0,310.5 L648.5,310.2 L650.0,310.4 L651.5,309.2 L653.0,308.4 L654.5,307.0 L656.0,306.2 L657.5,306.4 L659.0,303.1 L660.5,301.8 L662.0,301.9 L663.5,301.7 L665.0,300.7 L666.5,299.5 L668.0,299.8 L669.5,296.5 L671.0,293.8 L672.5,295.6 L674.0,296.4 L675.5,296.4 L677.0,295.7 L678.5,292.7 L680.0,291.8 L681.5,291.3 L683.0,289.8 L684.5,289.0 L686.0,288.4 L687.5,286.7 L689.0,284.4 L690.5,282.7 L692.0,284.5 L693.5,284.5 L695.0,280.9 L696.5,279.9 L698.0,279.3 L699.5,279.0 L701.0,279.2 L702.5,278.9 L704.0,277.8 L705.5,276.3 L707.0,275.1 L708.5,275.8 L710.0,274.9 L711.5,273.3 L713.0,270.7 L714.5,270.0 L716.0,271.1 L717.5,270.8 L719.0,267.4 L720.5,265.4 L722.0,266.7 L723.5,265.9 L725.0,264.5 L726.5,264.4 L728.0,265.3 L729.5,264.9 L731.0,263.8 L732.5,263.3 L734.0,263.0 L735.5,262.9 L737.0,262.4 L738.5,260.4 L740.0,261.9 L741.5,261.3 L743.0,259.2 L744.5,258.7 L746.0,257.7 L747.5,257.1 L749.0,256.5 L750.5,255.8 L752.0,253.8 L753.5,254.0 L755.0,255.3 L756.5,255.4 L758.0,254.3 L759.5,253.1 L761.0,253.0 L762.5,254.2 L764.0,253.8 L765.5,254.1 L767.0,254.7 L768.5,254.2 L770.0,253.8 L771.5,253.1 L773.0,253.7 L774.5,254.4 L776.0,254.6 L777.5,253.4 L779.0,252.4 L780.0,253.3 L780.0,313.4 L779.0,314.4 L777.5,316.1 L776.0,318.3 L774.5,319.8 L773.0,323.1 L771.5,325.2 L770.0,324.3 L768.5,323.7 L767.0,326.0 L765.5,326.7 L764.0,326.1 L762.5,326.2 L761.0,326.4 L759.5,324.8 L758.0,323.3 L756.5,325.5 L755.0,326.9 L753.5,325.9 L752.0,327.7 L750.5,329.5 L749.0,328.3 L747.5,327.7 L746.0,329.5 L744.5,331.7 L743.0,333.6 L741.5,333.3 L740.0,331.3 L738.5,331.9 L737.0,334.7 L735.5,334.2 L734.0,331.9 L732.5,332.2 L731.0,332.4 L729.5,332.1 L728.0,333.2 L726.5,335.7 L725.0,337.1 L723.5,336.8 L722.0,336.6 L720.5,338.5 L719.0,341.1 L717.5,340.6 L716.0,340.8 L714.5,340.3 L713.0,338.4 L711.5,339.2 L710.0,339.0 L708.5,336.4 L707.0,336.2 L705.5,339.3 L704.0,339.5 L702.5,338.8 L701.0,338.1 L699.5,337.8 L698.0,336.6 L696.5,336.2 L695.0,339.2 L693.5,339.3 L692.0,339.2 L690.5,338.9 L689.0,339.5 L687.5,339.1 L686.0,337.6 L684.5,339.6 L683.0,340.2 L681.5,340.0 L680.0,342.1 L678.5,339.7 L677.0,337.9 L675.5,341.8 L674.0,342.7 L672.5,341.2 L671.0,342.2 L669.5,346.9 L668.0,347.7 L666.5,346.3 L665.0,346.9 L663.5,347.8 L662.0,350.1 L660.5,351.3 L659.0,352.5 L657.5,351.2 L656.0,351.6 L654.5,355.1 L653.0,355.8 L651.5,356.0 L650.0,355.5 L648.5,356.0 L647.0,358.6 L645.5,359.6 L644.0,361.1 L642.5,360.3 L641.0,360.8 L639.5,363.7 L638.0,363.2 L636.5,365.6 L635.0,366.8 L633.5,366.2 L632.0,368.1 L630.5,369.2 L629.0,371.0 L627.5,372.9 L626.0,373.6 L624.5,373.6 L623.0,374.0 L621.5,374.6 L620.0,374.0 L618.5,372.5 L617.0,373.2 L615.5,376.3 L614.0,377.6 L612.5,380.2 L611.0,380.5 L609.5,379.3 L608.0,381.6 L606.5,383.4 L605.0,384.8 L603.5,386.6 L602.0,388.2 L600.5,389.5 L599.0,391.7 L597.5,393.0 L596.0,392.9 L594.5,394.7 L593.0,394.6 L591.5,395.8 L590.0,398.1 L588.5,398.6 L587.0,398.8 L585.5,397.9 L584.0,398.7 L582.5,400.7 L581.0,401.5 L579.5,402.2 L578.0,402.0 L576.5,402.4 L575.0,406.4 L573.5,406.4 L572.0,402.8 L570.5,402.0 L569.0,403.3 L567.5,406.2 L566.0,408.4 L564.5,408.8 L563.0,407.8 L561.5,409.7 L560.0,412.2 L558.5,412.4 L557.0,412.0 L555.5,410.0 L554.0,409.4 L552.5,410.3 L551.0,411.2 L549.5,411.2 L548.0,411.5 L546.5,411.4 L545.0,412.6 L543.5,412.9 L542.0,411.2 L540.5,411.8 L539.0,413.7 L537.5,413.8 L536.0,415.7 L534.5,419.9 L533.0,420.9 L531.5,421.4 L530.0,421.2 L528.5,419.9 L527.0,421.2 L525.5,422.5 L524.0,423.7 L522.5,423.3 L521.0,421.4 L519.5,422.5 L518.0,421.5 L516.5,421.2 L515.0,420.7 L513.5,421.6 L512.0,422.6 L510.5,421.2 L509.0,421.2 L507.5,421.2 L506.0,423.9 L504.5,425.7 L503.0,427.1 L501.5,426.8 L500.0,426.2 L498.5,429.1 L497.0,428.8 L495.5,428.9 L494.0,430.8 L492.5,431.7 L491.0,432.2 L489.5,431.5 L488.0,430.7 L486.5,434.1 L485.0,434.7 L483.5,432.4 L482.0,433.8 L480.5,435.3 L479.0,434.8 L477.5,435.2 L476.0,436.8 L474.5,438.6 L473.0,439.8 L471.5,437.5 L470.0,437.2 L468.5,437.2 L467.0,436.8 L465.5,438.8 L464.0,439.2 L462.5,438.8 L461.0,440.9 L459.5,444.5 L458.0,446.5 L456.5,446.5 L455.0,445.7 L453.5,446.0 L452.0,446.2 L450.5,447.0 L449.0,448.4 L447.5,448.5 L446.0,449.1 L444.5,450.3 L443.0,453.2 L441.5,455.0 L440.0,453.6 L438.5,453.2 L437.0,453.1 L435.5,452.5 L434.0,453.6 L432.5,453.7 L431.0,455.2 L429.5,458.0 L428.0,457.2 L426.5,457.2 L425.0,458.0 L423.5,457.4 L422.0,456.1 L420.5,456.3 L419.0,457.7 L417.5,458.5 L416.0,459.6 L414.5,460.2 L413.0,461.8 L411.5,464.4 L410.0,467.7 L408.5,469.4 L407.0,468.9 L405.5,467.6 L404.0,469.2 L402.5,472.2 L401.0,471.1 L399.5,469.7 L398.0,469.0 L396.5,469.9 L395.0,472.2 L393.5,473.6 L392.0,472.5 L390.5,472.4 L389.0,472.2 L387.5,470.9 L386.0,470.7 L384.5,471.5 L383.0,471.1 L381.5,471.1 L380.0,472.3 L378.5,471.6 L377.0,471.0 L375.5,471.0 L374.0,470.8 L372.5,472.2 L371.0,472.0 L369.5,471.6 L368.0,472.5 L366.5,471.1 L365.0,469.4 L363.5,470.2 L362.0,470.1 L360.5,469.4 L359.0,473.1 L357.5,473.0 L356.0,469.9 L354.5,472.0 L353.0,474.1 L351.5,473.1 L350.0,471.8 L348.5,472.9 L347.0,473.6 L345.5,474.9 L344.0,475.6 L342.5,474.8 L341.0,476.4 L339.5,476.8 L338.0,477.7 L336.5,478.2 L335.0,477.2 L333.5,478.0 L332.0,476.1 L330.5,477.7 L329.0,481.8 L327.5,480.8 L326.0,480.3 L324.5,482.0 L323.0,483.0 L321.5,483.0 L320.0,485.6 L318.5,486.0 L317.0,484.1 L315.5,486.0 L314.0,486.6 L312.5,487.6 L311.0,489.6 L309.5,491.1 L308.0,492.3 L306.5,491.0 L305.0,490.6 L303.5,492.6 L302.0,493.2 L300.5,493.0 L299.0,492.5 L297.5,492.6 L296.0,492.5 L294.5,493.3 L293.0,492.8 L291.5,491.8 L290.0,492.1 L288.5,491.5 L287.0,493.2 L285.5,494.7 L284.0,495.3 L282.5,496.9 L281.0,498.7 L279.5,496.7 L278.0,496.1 L276.5,498.7 L275.0,500.2 L273.5,500.0 L272.0,498.6 L270.5,496.5 L269.0,496.0 L267.5,500.0 L266.0,503.1 L264.5,499.3 L263.0,497.5 L261.5,498.8 L260.0,497.8 L258.5,496.7 L257.0,497.1 L255.5,500.2 L254.0,502.9 L252.5,502.2 L251.0,503.3 L249.5,506.0 L248.0,505.4 L246.5,506.0 L245.0,509.1 L243.5,510.0 L242.0,509.2 L240.5,507.8 L239.0,508.3 L237.5,509.9 L236.0,508.7 L234.5,507.0 L233.0,506.4 L231.5,506.0 L230.0,505.6 L228.5,506.3 L227.0,509.3 L225.5,511.1 L224.0,509.7 L222.5,508.3 L221.0,512.3 L219.5,512.4 L218.0,509.8 L216.5,510.7 L215.0,510.9 L213.5,511.4 L212.0,511.6 L210.5,510.9 L209.0,510.6 L207.5,511.8 L206.0,512.1 L204.5,512.8 L203.0,513.8 L201.5,516.0 L200.0,515.2 L198.5,514.5 L197.0,514.5 L195.5,515.2 L194.0,517.7 L192.5,517.1 L191.0,516.5 L189.5,516.3 L188.0,515.7 L186.5,517.7 L185.0,519.6 L183.5,521.3 L182.0,522.8 L180.5,521.7 L179.0,520.9 L177.5,522.0 L176.0,523.1 L174.5,524.7 L173.0,525.4 L171.5,524.8 L170.0,525.2 L168.5,525.6 L167.0,528.9 L165.5,531.0 L164.0,530.5 L162.5,529.6 L161.0,529.6 L159.5,530.5 L158.0,531.3 L156.5,531.5 L155.0,531.5 L153.5,532.3 L152.0,531.6 L150.5,533.6 L149.0,536.1 L147.5,535.1 L146.0,534.2 L144.5,533.3 L143.0,534.1 L141.5,536.5 L140.0,538.7 L138.5,539.2 L137.0,539.1 L135.5,539.3 L134.0,539.4 L132.5,539.5 L131.0,541.1 L129.5,540.5 L128.0,540.5 L126.5,544.1 L125.0,543.9 L123.5,543.2 L122.0,543.2 L120.5,543.1 L119.0,544.6 L117.5,545.0Z" fill="rgba(251,172,214,0.70)" stroke="rgba(247,150,205,0.55)" stroke-width="0.9" stroke-linejoin="round"/>
<path d="M117.5,544.5 L119.0,544.1 L120.5,542.8 L122.0,540.6 L123.5,539.6 L125.0,539.3 L126.5,538.9 L128.0,538.8 L129.5,539.2 L131.0,538.2 L132.5,536.1 L134.0,535.7 L135.5,536.4 L137.0,535.5 L138.5,533.9 L140.0,533.1 L141.5,532.7 L143.0,529.8 L144.5,528.9 L146.0,529.8 L147.5,528.3 L149.0,527.0 L150.5,526.3 L152.0,526.4 L153.5,524.9 L155.0,524.5 L156.5,524.8 L158.0,524.6 L159.5,524.4 L161.0,522.6 L162.5,521.2 L164.0,520.7 L165.5,519.7 L167.0,518.6 L168.5,517.0 L170.0,515.0 L171.5,514.0 L173.0,512.8 L174.5,511.7 L176.0,512.3 L177.5,511.9 L179.0,511.0 L180.5,512.3 L182.0,512.7 L183.5,512.3 L185.0,511.9 L186.5,510.7 L188.0,510.6 L189.5,511.5 L191.0,511.3 L192.5,508.9 L194.0,508.3 L195.5,509.1 L197.0,508.7 L198.5,506.9 L200.0,505.8 L201.5,507.1 L203.0,506.0 L204.5,504.4 L206.0,503.9 L207.5,502.4 L209.0,502.0 L210.5,502.8 L212.0,503.2 L213.5,501.7 L215.0,500.3 L216.5,499.9 L218.0,498.5 L219.5,498.9 L221.0,500.5 L222.5,500.5 L224.0,499.0 L225.5,498.5 L227.0,498.9 L228.5,497.6 L230.0,496.5 L231.5,496.1 L233.0,495.8 L234.5,496.6 L236.0,495.5 L237.5,493.2 L239.0,493.7 L240.5,493.8 L242.0,491.7 L243.5,490.6 L245.0,490.6 L246.5,490.3 L248.0,490.4 L249.5,490.8 L251.0,489.9 L252.5,488.9 L254.0,488.0 L255.5,488.0 L257.0,488.6 L258.5,487.7 L260.0,486.5 L261.5,487.8 L263.0,488.8 L264.5,487.1 L266.0,485.6 L267.5,486.0 L269.0,487.1 L270.5,486.3 L272.0,484.8 L273.5,484.1 L275.0,483.9 L276.5,484.3 L278.0,482.6 L279.5,480.9 L281.0,480.8 L282.5,479.9 L284.0,478.7 L285.5,478.8 L287.0,478.9 L288.5,478.4 L290.0,478.8 L291.5,477.9 L293.0,477.1 L294.5,476.8 L296.0,476.1 L297.5,476.2 L299.0,475.9 L300.5,474.6 L302.0,475.2 L303.5,475.8 L305.0,474.0 L306.5,472.4 L308.0,472.7 L309.5,474.1 L311.0,474.2 L312.5,474.0 L314.0,472.8 L315.5,472.1 L317.0,471.0 L318.5,470.3 L320.0,471.2 L321.5,470.3 L323.0,469.3 L324.5,469.2 L326.0,468.4 L327.5,467.8 L329.0,465.8 L330.5,464.4 L332.0,463.0 L333.5,460.6 L335.0,459.5 L336.5,458.6 L338.0,457.9 L339.5,457.6 L341.0,457.3 L342.5,457.6 L344.0,457.3 L345.5,455.3 L347.0,454.7 L348.5,454.5 L350.0,453.6 L351.5,452.1 L353.0,451.1 L354.5,451.2 L356.0,451.6 L357.5,451.1 L359.0,450.0 L360.5,449.2 L362.0,447.9 L363.5,446.6 L365.0,446.6 L366.5,446.0 L368.0,444.9 L369.5,443.0 L371.0,441.9 L372.5,441.3 L374.0,441.4 L375.5,441.6 L377.0,440.1 L378.5,439.8 L380.0,440.5 L381.5,439.3 L383.0,438.1 L384.5,439.7 L386.0,440.0 L387.5,438.8 L389.0,437.1 L390.5,437.2 L392.0,437.4 L393.5,435.7 L395.0,433.2 L396.5,431.9 L398.0,432.0 L399.5,430.2 L401.0,428.2 L402.5,426.9 L404.0,426.1 L405.5,425.0 L407.0,423.3 L408.5,421.3 L410.0,419.3 L411.5,420.5 L413.0,422.1 L414.5,421.8 L416.0,421.5 L417.5,420.5 L419.0,419.5 L420.5,419.8 L422.0,419.5 L423.5,420.0 L425.0,419.2 L426.5,417.7 L428.0,418.1 L429.5,417.8 L431.0,418.2 L432.5,417.3 L434.0,417.2 L435.5,418.6 L437.0,417.9 L438.5,417.8 L440.0,418.7 L441.5,417.7 L443.0,416.5 L444.5,416.3 L446.0,415.9 L447.5,415.1 L449.0,414.1 L450.5,414.4 L452.0,414.2 L453.5,414.1 L455.0,414.6 L456.5,413.5 L458.0,413.0 L459.5,413.0 L461.0,412.2 L462.5,412.2 L464.0,411.7 L465.5,410.6 L467.0,408.9 L468.5,408.5 L470.0,408.1 L471.5,407.0 L473.0,408.1 L474.5,408.7 L476.0,407.0 L477.5,404.7 L479.0,404.5 L480.5,404.4 L482.0,403.8 L483.5,402.7 L485.0,402.5 L486.5,403.5 L488.0,401.5 L489.5,399.6 L491.0,399.4 L492.5,399.6 L494.0,398.3 L495.5,397.4 L497.0,397.8 L498.5,396.8 L500.0,396.9 L501.5,395.9 L503.0,394.3 L504.5,394.6 L506.0,395.4 L507.5,395.2 L509.0,394.0 L510.5,394.0 L512.0,393.9 L513.5,392.8 L515.0,392.5 L516.5,392.7 L518.0,394.0 L519.5,392.8 L521.0,391.1 L522.5,391.2 L524.0,390.9 L525.5,391.8 L527.0,392.4 L528.5,391.9 L530.0,391.3 L531.5,390.4 L533.0,390.8 L534.5,391.1 L536.0,390.0 L537.5,389.5 L539.0,388.1 L540.5,386.3 L542.0,386.4 L543.5,385.8 L545.0,384.7 L546.5,383.2 L548.0,382.5 L549.5,382.4 L551.0,382.6 L552.5,383.3 L554.0,382.6 L555.5,382.8 L557.0,382.6 L558.5,381.2 L560.0,381.7 L561.5,381.7 L563.0,381.0 L564.5,380.4 L566.0,379.9 L567.5,378.8 L569.0,376.9 L570.5,376.1 L572.0,376.7 L573.5,375.9 L575.0,374.0 L576.5,373.8 L578.0,374.4 L579.5,374.9 L581.0,373.8 L582.5,373.5 L584.0,373.6 L585.5,373.3 L587.0,372.9 L588.5,371.1 L590.0,369.9 L591.5,369.4 L593.0,368.8 L594.5,368.3 L596.0,367.3 L597.5,366.8 L599.0,366.1 L600.5,365.2 L602.0,364.0 L603.5,362.3 L605.0,361.6 L606.5,361.0 L608.0,360.0 L609.5,358.6 L611.0,356.6 L612.5,355.2 L614.0,354.8 L615.5,353.1 L617.0,351.8 L618.5,353.0 L620.0,353.0 L621.5,350.0 L623.0,349.3 L624.5,350.4 L626.0,348.8 L627.5,348.8 L629.0,348.9 L630.5,346.9 L632.0,344.9 L633.5,343.5 L635.0,342.9 L636.5,341.7 L638.0,339.8 L639.5,338.7 L641.0,338.3 L642.5,337.4 L644.0,335.9 L645.5,334.9 L647.0,334.6 L648.5,333.7 L650.0,332.9 L651.5,331.0 L653.0,330.3 L654.5,330.6 L656.0,328.3 L657.5,326.9 L659.0,326.1 L660.5,324.9 L662.0,325.0 L663.5,324.5 L665.0,324.1 L666.5,323.1 L668.0,320.7 L669.5,320.1 L671.0,318.7 L672.5,318.9 L674.0,319.8 L675.5,318.4 L677.0,317.6 L678.5,316.2 L680.0,315.4 L681.5,314.8 L683.0,313.9 L684.5,313.9 L686.0,312.8 L687.5,312.9 L689.0,312.6 L690.5,311.9 L692.0,311.8 L693.5,310.3 L695.0,310.6 L696.5,311.1 L698.0,310.4 L699.5,310.0 L701.0,309.5 L702.5,309.5 L704.0,309.2 L705.5,308.7 L707.0,309.3 L708.5,308.2 L710.0,307.0 L711.5,307.0 L713.0,306.4 L714.5,305.2 L716.0,304.6 L717.5,304.6 L719.0,303.8 L720.5,302.0 L722.0,301.6 L723.5,302.0 L725.0,300.8 L726.5,299.0 L728.0,297.6 L729.5,298.4 L731.0,299.6 L732.5,298.7 L734.0,297.3 L735.5,297.7 L737.0,298.3 L738.5,298.5 L740.0,298.1 L741.5,297.4 L743.0,297.6 L744.5,297.8 L746.0,297.0 L747.5,296.2 L749.0,295.5 L750.5,293.7 L752.0,293.4 L753.5,293.1 L755.0,290.8 L756.5,289.8 L758.0,290.2 L759.5,289.4 L761.0,290.3 L762.5,290.0 L764.0,289.0 L765.5,288.6 L767.0,287.9 L768.5,288.7 L770.0,289.6 L771.5,289.1 L773.0,288.9 L774.5,288.7 L776.0,288.2 L777.5,287.1 L779.0,286.1 L780.5,285.1 L781.0,284.8" fill="none" stroke="#f23636" stroke-width="2.6" stroke-linejoin="round" stroke-linecap="butt"/>
<path d="M117.5,543.7 L119.5,543.6 L121.5,544.0 L123.5,544.0 L125.5,543.4 L127.5,543.0 L129.5,542.7 L131.5,542.1 L133.5,541.4 L135.5,541.3 L137.5,541.4 L139.5,542.0 L141.5,542.4 L143.5,543.1 L145.5,543.0 L147.5,542.4 L149.5,541.8 L151.5,541.3 L153.5,541.3 L155.5,540.9 L157.5,540.6 L159.5,539.8 L161.5,538.7 L163.5,538.2 L165.5,537.2 L167.5,537.6 L169.5,537.0 L171.5,536.8 L173.5,536.4 L175.5,536.4 L177.5,536.4 L179.5,536.0 L181.5,536.0 L183.5,535.7 L185.5,535.3 L187.5,534.7 L189.5,534.5 L191.5,534.3 L193.5,533.7 L195.5,534.2 L197.5,534.2 L199.5,534.9 L201.5,534.3 L203.5,534.5 L205.5,534.3 L207.5,534.0 L209.5,533.7 L211.5,533.2 L213.5,533.5 L215.5,533.4 L217.5,533.6 L219.5,533.1 L221.5,532.6 L223.5,531.9 L225.5,532.2 L227.5,532.1 L229.5,532.5 L231.5,531.2 L233.5,531.1 L235.5,530.6 L237.5,530.2 L239.5,529.2 L241.5,528.7 L243.5,528.5 L245.5,528.3 L247.5,527.4 L249.5,527.3 L251.5,527.0 L253.5,526.9 L255.5,526.6 L257.5,526.6 L259.5,526.5 L261.5,526.3 L263.5,526.4 L265.5,526.7 L267.5,526.2 L269.5,526.0 L271.5,526.2 L273.5,526.2 L275.5,526.4 L277.5,526.1 L279.5,526.6 L281.5,526.3 L283.5,526.0 L285.5,525.6 L287.5,526.0 L289.5,525.9 L291.5,526.0 L293.5,525.2 L295.5,525.1 L297.5,525.1 L299.5,525.1 L301.5,525.6 L303.5,525.0 L305.5,525.2 L307.5,524.8 L309.5,524.5 L311.5,524.5 L313.5,524.2 L315.5,523.9 L317.5,523.3 L319.5,523.1 L321.5,523.8 L323.5,524.1 L325.5,524.0 L327.5,523.8 L329.5,523.6 L331.5,523.6 L333.5,523.1 L335.5,523.3 L337.5,523.8 L339.5,523.4 L341.5,522.5 L343.5,521.4 L345.5,521.8 L347.5,521.8 L349.5,521.9 L351.5,521.2 L353.5,520.9 L355.5,520.2 L357.5,520.4 L359.5,519.9 L361.5,519.7 L363.5,519.5 L365.5,519.6 L367.5,520.0 L369.5,519.9 L371.5,520.1 L373.5,519.9 L375.5,519.3 L377.5,519.4 L379.5,519.9 L381.5,520.9 L383.5,521.0 L385.5,520.3 L387.5,520.4 L389.5,520.3 L391.5,520.6 L393.5,520.3 L395.5,520.2 L397.5,520.0 L399.5,520.1 L401.5,520.1 L403.5,520.6 L405.5,520.3 L407.5,520.3 L409.5,520.1 L411.5,519.8 L413.5,520.1 L415.5,519.3 L417.5,518.7 L419.5,518.2 L421.5,518.1 L423.5,517.6 L425.5,516.9 L427.5,516.8 L429.5,516.7 L431.5,516.3 L433.5,515.7 L435.5,516.1 L437.5,515.9 L439.5,515.4 L441.5,514.9 L443.5,515.3 L445.5,515.8 L447.5,515.9 L449.5,516.1 L451.5,516.2 L453.5,516.5 L455.5,516.3 L457.5,516.0 L459.5,515.6 L461.5,515.4 L463.5,515.2 L465.5,515.5 L467.5,515.4 L469.5,515.4 L471.5,515.2 L473.5,515.2 L475.5,515.1 L477.5,514.9 L479.5,514.7 L481.5,515.2 L483.5,514.8 L485.5,514.8 L487.5,513.7 L489.5,513.1 L491.5,512.1 L493.5,510.9 L495.5,510.2 L497.5,510.9 L499.5,511.4 L501.5,511.8 L503.5,511.9 L505.5,512.3 L507.5,512.9 L509.5,513.0 L511.5,513.1 L513.5,512.7 L515.5,513.0 L517.5,512.4 L519.5,512.4 L521.5,511.6 L523.5,511.3 L525.5,511.7 L527.5,511.7 L529.5,511.8 L531.5,510.8 L533.5,510.6 L535.5,510.3 L537.5,510.2 L539.5,510.1 L541.5,509.5 L543.5,509.7 L545.5,510.2 L547.5,510.9 L549.5,510.7 L551.5,510.3 L553.5,510.3 L555.5,510.0 L557.5,509.6 L559.5,509.1 L561.5,509.8 L563.5,509.9 L565.5,509.4 L567.5,509.0 L569.5,508.8 L571.5,508.8 L573.5,508.2 L575.5,508.1 L577.5,507.6 L579.5,507.3 L581.5,507.3 L583.5,507.5 L585.5,508.0 L587.5,507.9 L589.5,508.3 L591.5,507.9 L593.5,507.3 L595.5,507.1 L597.5,506.9 L599.5,507.9 L601.5,508.1 L603.5,508.0 L605.5,507.4 L607.5,506.9 L609.5,506.7 L611.5,506.8 L613.5,507.4 L615.5,507.7 L617.5,508.1 L619.5,508.2 L621.5,508.5 L623.5,507.6 L625.5,507.7 L627.5,506.7 L629.5,506.3 L631.5,505.2 L633.5,504.4 L635.5,504.2 L637.5,503.7 L639.5,503.1 L641.5,502.6 L643.5,501.6 L645.5,501.1 L647.5,500.7 L649.5,501.0 L651.5,500.9 L653.5,501.5 L655.5,501.8 L657.5,502.1 L659.5,501.7 L661.5,501.7 L663.5,502.2 L665.5,502.5 L667.5,502.6 L669.5,502.9 L671.5,502.5 L673.5,502.4 L675.5,502.0 L677.5,501.8 L679.5,501.3 L681.5,500.7 L683.5,500.6 L685.5,500.6 L687.5,500.5 L689.5,500.3 L691.5,500.2 L693.5,500.3 L695.5,499.9 L697.5,498.9 L699.5,498.6 L701.5,498.5 L703.5,498.5 L705.5,497.6 L707.5,497.9 L709.5,498.1 L711.5,498.9 L713.5,498.8 L715.5,499.2 L717.5,498.5 L719.5,498.7 L721.5,498.7 L723.5,499.6 L725.5,499.6 L727.5,499.3 L729.5,498.7 L731.5,498.6 L733.5,498.9 L735.5,498.9 L737.5,498.9 L739.5,497.9 L741.5,497.9 L743.5,497.3 L745.5,497.6 L747.5,497.5 L749.5,498.0 L751.5,497.7 L753.5,496.7 L755.5,495.7 L757.5,495.4 L759.5,495.1 L761.5,495.1 L763.5,495.1 L765.5,495.0 L767.5,494.1 L769.5,493.2 L771.5,492.9 L773.5,492.9 L775.5,493.1 L777.5,493.6 L777.5,512.7 L775.5,512.3 L773.5,512.3 L771.5,511.5 L769.5,511.4 L767.5,512.3 L765.5,513.0 L763.5,512.9 L761.5,513.0 L759.5,513.5 L757.5,513.9 L755.5,513.6 L753.5,513.9 L751.5,514.9 L749.5,515.5 L747.5,515.5 L745.5,515.9 L743.5,515.9 L741.5,516.0 L739.5,515.6 L737.5,516.4 L735.5,516.6 L733.5,516.7 L731.5,515.8 L729.5,515.0 L727.5,515.0 L725.5,515.8 L723.5,516.5 L721.5,516.0 L719.5,515.3 L717.5,514.9 L715.5,515.3 L713.5,515.7 L711.5,515.5 L709.5,515.1 L707.5,515.0 L705.5,515.1 L703.5,515.1 L701.5,514.9 L699.5,514.7 L697.5,514.8 L695.5,515.1 L693.5,515.7 L691.5,515.5 L689.5,515.4 L687.5,515.2 L685.5,515.9 L683.5,516.1 L681.5,517.0 L679.5,517.4 L677.5,517.8 L675.5,516.8 L673.5,516.6 L671.5,516.8 L669.5,517.3 L667.5,516.7 L665.5,516.4 L663.5,516.5 L661.5,517.3 L659.5,517.2 L657.5,516.9 L655.5,516.2 L653.5,515.8 L651.5,515.8 L649.5,515.9 L647.5,515.6 L645.5,515.1 L643.5,515.2 L641.5,516.1 L639.5,517.0 L637.5,517.9 L635.5,518.5 L633.5,519.2 L631.5,519.8 L629.5,520.5 L627.5,521.1 L625.5,521.9 L623.5,521.8 L621.5,521.9 L619.5,521.2 L617.5,520.9 L615.5,520.3 L613.5,520.1 L611.5,519.8 L609.5,519.6 L607.5,520.1 L605.5,519.7 L603.5,520.2 L601.5,519.6 L599.5,520.0 L597.5,519.3 L595.5,519.7 L593.5,519.6 L591.5,519.9 L589.5,520.3 L587.5,520.4 L585.5,520.8 L583.5,520.3 L581.5,520.2 L579.5,519.8 L577.5,519.6 L575.5,519.4 L573.5,519.6 L571.5,519.9 L569.5,520.0 L567.5,519.6 L565.5,519.9 L563.5,520.8 L561.5,521.4 L559.5,521.4 L557.5,521.1 L555.5,520.7 L553.5,520.4 L551.5,520.5 L549.5,521.1 L547.5,521.6 L545.5,520.8 L543.5,520.8 L541.5,520.5 L539.5,521.4 L537.5,521.6 L535.5,521.7 L533.5,521.9 L531.5,522.0 L529.5,522.3 L527.5,522.3 L525.5,522.1 L523.5,522.3 L521.5,522.8 L519.5,523.7 L517.5,523.9 L515.5,524.0 L513.5,523.4 L511.5,523.6 L509.5,523.4 L507.5,523.5 L505.5,523.0 L503.5,523.2 L501.5,522.5 L499.5,522.7 L497.5,522.1 L495.5,521.8 L493.5,521.5 L491.5,522.5 L489.5,522.8 L487.5,523.9 L485.5,524.7 L483.5,525.0 L481.5,524.8 L479.5,524.8 L477.5,524.9 L475.5,525.0 L473.5,525.0 L471.5,525.1 L469.5,525.4 L467.5,525.3 L465.5,525.9 L463.5,525.9 L461.5,526.0 L459.5,525.3 L457.5,525.1 L455.5,525.3 L453.5,526.0 L451.5,526.2 L449.5,526.0 L447.5,526.0 L445.5,525.9 L443.5,525.6 L441.5,525.6 L439.5,525.6 L437.5,525.6 L435.5,525.1 L433.5,524.4 L431.5,524.7 L429.5,525.1 L427.5,526.0 L425.5,526.9 L423.5,527.5 L421.5,527.8 L419.5,527.2 L417.5,527.5 L415.5,527.6 L413.5,528.2 L411.5,528.2 L409.5,529.0 L407.5,529.1 L405.5,529.6 L403.5,529.3 L401.5,529.2 L399.5,528.9 L397.5,529.0 L395.5,528.8 L393.5,528.7 L391.5,528.7 L389.5,528.6 L387.5,528.8 L385.5,528.8 L383.5,529.3 L381.5,529.1 L379.5,528.6 L377.5,528.1 L375.5,528.3 L373.5,528.1 L371.5,528.4 L369.5,528.1 L367.5,528.4 L365.5,528.0 L363.5,527.9 L361.5,527.8 L359.5,527.8 L357.5,528.1 L355.5,528.5 L353.5,528.9 L351.5,529.3 L349.5,529.4 L347.5,529.2 L345.5,529.9 L343.5,530.0 L341.5,530.4 L339.5,530.4 L337.5,530.8 L335.5,530.4 L333.5,530.5 L331.5,530.8 L329.5,531.3 L327.5,531.6 L325.5,531.1 L323.5,531.1 L321.5,530.7 L319.5,530.9 L317.5,531.2 L315.5,530.4 L313.5,530.1 L311.5,530.2 L309.5,531.1 L307.5,531.6 L305.5,531.2 L303.5,530.6 L301.5,530.6 L299.5,530.8 L297.5,530.9 L295.5,531.0 L293.5,531.2 L291.5,531.1 L289.5,530.5 L287.5,529.8 L285.5,529.5 L283.5,530.0 L281.5,530.3 L279.5,530.9 L277.5,531.0 L275.5,531.0 L273.5,530.6 L271.5,530.5 L269.5,530.6 L267.5,530.6 L265.5,530.6 L263.5,530.4 L261.5,530.6 L259.5,530.8 L257.5,530.8 L255.5,530.6 L253.5,530.8 L251.5,531.1 L249.5,532.0 L247.5,532.2 L245.5,533.3 L243.5,533.2 L241.5,533.4 L239.5,533.5 L237.5,534.0 L235.5,534.8 L233.5,535.3 L231.5,535.8 L229.5,535.8 L227.5,535.7 L225.5,535.6 L223.5,535.7 L221.5,536.2 L219.5,536.0 L217.5,536.3 L215.5,536.1 L213.5,536.9 L211.5,537.0 L209.5,537.4 L207.5,537.8 L205.5,538.1 L203.5,538.1 L201.5,537.1 L199.5,537.5 L197.5,536.9 L195.5,537.1 L193.5,536.8 L191.5,537.1 L189.5,537.2 L187.5,537.0 L185.5,536.5 L183.5,537.3 L181.5,538.0 L179.5,538.9 L177.5,538.6 L175.5,538.5 L173.5,538.0 L171.5,538.8 L169.5,539.0 L167.5,540.2 L165.5,539.8 L163.5,539.9 L161.5,540.2 L159.5,541.0 L157.5,542.4 L155.5,543.0 L153.5,543.5 L151.5,543.8 L149.5,543.5 L147.5,543.4 L145.5,543.2 L143.5,543.4 L141.5,543.2 L139.5,543.1 L137.5,542.6 L135.5,542.7 L133.5,543.0 L131.5,543.9 L129.5,543.9 L127.5,544.3 L125.5,544.1 L123.5,545.0 L121.5,544.7 L119.5,543.8 L117.5,543.9Z" fill="rgba(184,222,249,0.70)"/>
<path d="M117.5,544.4 L119.5,543.1 L121.5,542.7 L123.5,542.5 L125.5,542.8 L127.5,542.7 L129.5,542.2 L131.5,540.7 L133.5,540.4 L135.5,539.8 L137.5,540.5 L139.5,541.1 L141.5,541.5 L143.5,541.6 L145.5,541.0 L147.5,540.5 L149.5,540.2 L151.5,540.1 L153.5,539.0 L155.5,537.7 L157.5,536.1 L159.5,534.7 L161.5,533.6 L163.5,532.3 L165.5,531.5 L167.5,531.3 L169.5,531.3 L171.5,530.7 L173.5,530.4 L175.5,530.2 L177.5,530.3 L179.5,529.5 L181.5,529.3 L183.5,529.5 L185.5,530.4 L187.5,530.4 L189.5,530.2 L191.5,530.4 L193.5,530.4 L195.5,530.4 L197.5,530.1 L199.5,529.6 L201.5,529.0 L203.5,528.1 L205.5,527.3 L207.5,528.3 L209.5,529.5 L211.5,530.6 L213.5,529.6 L215.5,528.4 L217.5,527.2 L219.5,526.5 L221.5,526.2 L223.5,526.8 L225.5,527.8 L227.5,529.0 L229.5,529.2 L231.5,528.5 L233.5,528.0 L235.5,528.2 L237.5,528.7 L239.5,529.1 L241.5,529.2 L243.5,529.4 L245.5,529.6 L247.5,529.0 L249.5,528.8 L251.5,529.0 L253.5,529.0 L255.5,529.4 L257.5,529.2 L259.5,529.8 L261.5,529.4 L263.5,529.0 L265.5,528.6 L267.5,529.0 L269.5,529.4 L271.5,529.4 L273.5,529.1 L275.5,528.3 L277.5,528.4 L279.5,528.2 L281.5,528.9 L283.5,528.7 L285.5,528.5 L287.5,527.9 L289.5,528.1 L291.5,528.2 L293.5,528.6 L295.5,528.6 L297.5,528.9 L299.5,528.8 L301.5,529.0 L303.5,529.5 L305.5,529.6 L307.5,529.3 L309.5,528.1 L311.5,528.4 L313.5,528.0 L315.5,528.8 L317.5,528.7 L319.5,529.1 L321.5,528.8 L323.5,528.5 L325.5,528.5 L327.5,528.8 L329.5,528.7 L331.5,529.1 L333.5,528.9 L335.5,529.7 L337.5,529.5 L339.5,529.8 L341.5,529.4 L343.5,529.3 L345.5,528.6 L347.5,527.8 L349.5,527.8 L351.5,527.1 L353.5,527.4 L355.5,526.5 L357.5,526.9 L359.5,527.0 L361.5,527.1 L363.5,527.4 L365.5,527.2 L367.5,527.4 L369.5,526.8 L371.5,526.8 L373.5,526.8 L375.5,527.1 L377.5,527.1 L379.5,527.6 L381.5,528.0 L383.5,528.1 L385.5,527.7 L387.5,527.7 L389.5,527.3 L391.5,527.0 L393.5,526.9 L395.5,527.4 L397.5,527.9 L399.5,528.0 L401.5,528.5 L403.5,528.5 L405.5,528.3 L407.5,528.7 L409.5,528.6 L411.5,529.0 L413.5,527.8 L415.5,528.0 L417.5,527.7 L419.5,528.1 L421.5,527.8 L423.5,527.7 L425.5,528.3 L427.5,528.9 L429.5,529.7 L431.5,528.8 L433.5,527.9 L435.5,526.9 L437.5,526.8 L439.5,526.5 L441.5,526.0 L443.5,525.3 L445.5,525.2 L447.5,524.9 L449.5,525.3 L451.5,525.5 L453.5,525.2 L455.5,525.4 L457.5,525.0 L459.5,526.1 L461.5,525.8 L463.5,526.0 L465.5,526.1 L467.5,526.3 L469.5,526.3 L471.5,525.7 L473.5,525.5 L475.5,525.5 L477.5,526.5 L479.5,526.7 L481.5,527.1 L483.5,526.9 L485.5,526.4 L487.5,525.8 L489.5,525.5 L491.5,525.9 L493.5,526.5 L495.5,526.7 L497.5,527.0 L499.5,526.9 L501.5,526.9 L503.5,526.8 L505.5,527.3 L507.5,527.0 L509.5,527.4 L511.5,527.4 L513.5,527.4 L515.5,527.4 L517.5,527.5 L519.5,528.0 L521.5,527.8 L523.5,527.8 L525.5,528.3 L527.5,528.7 L529.5,528.6 L531.5,528.0 L533.5,527.6 L535.5,527.8 L537.5,526.6 L539.5,526.0 L541.5,525.4 L543.5,525.1 L545.5,524.3 L547.5,522.9 L549.5,522.6 L551.5,522.2 L553.5,522.8 L555.5,522.5 L557.5,522.8 L559.5,522.3 L561.5,522.6 L563.5,522.2 L565.5,522.7 L567.5,522.4 L569.5,523.3 L571.5,523.7 L573.5,524.4 L575.5,523.8 L577.5,523.6 L579.5,523.4 L581.5,523.6 L583.5,523.6 L585.5,523.5 L587.5,523.2 L589.5,522.8 L591.5,522.5 L593.5,522.9 L595.5,523.0 L597.5,523.4 L599.5,523.0 L601.5,522.7 L603.5,522.0 L605.5,521.8 L607.5,521.8 L609.5,522.0 L611.5,521.9 L613.5,521.8 L615.5,522.0 L617.5,522.7 L619.5,523.1 L621.5,523.0 L623.5,523.3 L625.5,523.8 L627.5,523.8 L629.5,523.5 L631.5,522.8 L633.5,522.9 L635.5,523.0 L637.5,524.1 L639.5,525.1 L641.5,525.3 L643.5,525.0 L645.5,525.1 L647.5,524.3 L649.5,524.1 L651.5,523.2 L653.5,523.4 L655.5,523.2 L657.5,523.6 L659.5,523.6 L661.5,523.3 L663.5,522.4 L665.5,522.3 L667.5,522.7 L669.5,523.6 L671.5,523.7 L673.5,523.4 L675.5,523.6 L677.5,523.3 L679.5,523.0 L681.5,523.1 L683.5,523.4 L685.5,523.8 L687.5,523.3 L689.5,523.9 L691.5,523.7 L693.5,523.9 L695.5,524.0 L697.5,524.4 L699.5,524.3 L701.5,523.6 L703.5,523.6 L705.5,523.6 L707.5,524.3 L709.5,524.0 L711.5,523.9 L713.5,523.8 L715.5,524.0 L717.5,524.4 L719.5,524.7 L721.5,524.1 L723.5,523.8 L725.5,523.2 L727.5,522.9 L729.5,522.5 L731.5,522.2 L733.5,522.6 L735.5,522.4 L737.5,522.9 L739.5,522.6 L741.5,522.1 L743.5,521.5 L745.5,522.5 L747.5,523.1 L749.5,523.7 L751.5,523.2 L753.5,523.0 L755.5,522.9 L757.5,522.9 L759.5,523.6 L761.5,524.0 L763.5,524.1 L765.5,523.7 L767.5,523.4 L769.5,522.7 L771.5,522.9 L773.5,522.8 L775.5,523.3 L777.5,523.0 L779.0,523.2 L779.0,535.9 L777.5,536.4 L775.5,536.1 L773.5,535.8 L771.5,535.9 L769.5,535.9 L767.5,536.1 L765.5,535.5 L763.5,534.9 L761.5,535.5 L759.5,535.9 L757.5,536.5 L755.5,535.9 L753.5,536.2 L751.5,536.4 L749.5,536.5 L747.5,536.0 L745.5,535.5 L743.5,535.0 L741.5,535.1 L739.5,535.0 L737.5,535.0 L735.5,534.9 L733.5,534.9 L731.5,535.1 L729.5,535.6 L727.5,535.9 L725.5,536.7 L723.5,537.7 L721.5,538.1 L719.5,537.8 L717.5,537.2 L715.5,537.4 L713.5,537.7 L711.5,537.3 L709.5,537.2 L707.5,537.0 L705.5,537.2 L703.5,537.3 L701.5,537.3 L699.5,537.8 L697.5,537.7 L695.5,537.4 L693.5,536.8 L691.5,536.3 L689.5,536.5 L687.5,536.6 L685.5,536.8 L683.5,536.2 L681.5,535.8 L679.5,535.9 L677.5,536.0 L675.5,535.7 L673.5,535.2 L671.5,535.4 L669.5,535.8 L667.5,535.5 L665.5,535.6 L663.5,535.1 L661.5,535.5 L659.5,535.5 L657.5,536.2 L655.5,536.1 L653.5,536.7 L651.5,536.7 L649.5,537.4 L647.5,537.4 L645.5,537.4 L643.5,537.4 L641.5,537.0 L639.5,536.7 L637.5,536.8 L635.5,536.4 L633.5,537.0 L631.5,536.2 L629.5,536.2 L627.5,535.7 L625.5,536.0 L623.5,536.4 L621.5,536.3 L619.5,536.4 L617.5,535.9 L615.5,535.1 L613.5,534.7 L611.5,535.0 L609.5,535.1 L607.5,534.8 L605.5,534.6 L603.5,535.1 L601.5,535.8 L599.5,535.7 L597.5,535.7 L595.5,535.7 L593.5,536.1 L591.5,535.9 L589.5,535.8 L587.5,535.7 L585.5,535.4 L583.5,535.4 L581.5,535.7 L579.5,536.5 L577.5,536.2 L575.5,536.4 L573.5,536.5 L571.5,536.9 L569.5,536.7 L567.5,536.0 L565.5,535.9 L563.5,535.7 L561.5,535.9 L559.5,536.0 L557.5,535.8 L555.5,535.7 L553.5,535.7 L551.5,535.6 L549.5,535.7 L547.5,536.3 L545.5,537.0 L543.5,538.3 L541.5,538.6 L539.5,539.9 L537.5,540.2 L535.5,541.5 L533.5,541.2 L531.5,541.4 L529.5,541.3 L527.5,541.3 L525.5,541.3 L523.5,541.1 L521.5,540.8 L519.5,541.0 L517.5,541.1 L515.5,541.2 L513.5,540.7 L511.5,540.8 L509.5,540.8 L507.5,540.3 L505.5,540.2 L503.5,540.0 L501.5,540.4 L499.5,540.3 L497.5,540.3 L495.5,539.7 L493.5,539.5 L491.5,539.5 L489.5,539.6 L487.5,539.5 L485.5,539.7 L483.5,539.8 L481.5,539.4 L479.5,538.8 L477.5,539.1 L475.5,539.5 L473.5,539.6 L471.5,538.9 L469.5,539.1 L467.5,539.3 L465.5,539.2 L463.5,539.2 L461.5,538.3 L459.5,538.8 L457.5,537.7 L455.5,538.9 L453.5,538.9 L451.5,538.9 L449.5,537.9 L447.5,537.2 L445.5,537.7 L443.5,538.0 L441.5,539.1 L439.5,539.3 L437.5,540.0 L435.5,540.0 L433.5,540.8 L431.5,541.7 L429.5,542.7 L427.5,542.1 L425.5,541.6 L423.5,541.1 L421.5,541.0 L419.5,540.4 L417.5,540.4 L415.5,541.0 L413.5,542.0 L411.5,542.3 L409.5,542.2 L407.5,541.9 L405.5,541.1 L403.5,541.6 L401.5,541.8 L399.5,542.1 L397.5,541.8 L395.5,541.1 L393.5,540.6 L391.5,540.3 L389.5,540.7 L387.5,540.5 L385.5,540.3 L383.5,540.4 L381.5,541.1 L379.5,541.2 L377.5,540.9 L375.5,540.4 L373.5,540.0 L371.5,540.0 L369.5,540.1 L367.5,540.9 L365.5,540.9 L363.5,540.7 L361.5,540.3 L359.5,540.4 L357.5,541.3 L355.5,541.3 L353.5,541.7 L351.5,541.1 L349.5,541.7 L347.5,541.5 L345.5,541.6 L343.5,540.9 L341.5,540.5 L339.5,540.7 L337.5,541.6 L335.5,542.3 L333.5,542.3 L331.5,541.7 L329.5,541.8 L327.5,541.7 L325.5,542.0 L323.5,542.5 L321.5,542.3 L319.5,542.6 L317.5,541.9 L315.5,542.4 L313.5,541.7 L311.5,542.1 L309.5,541.6 L307.5,541.8 L305.5,541.0 L303.5,540.9 L301.5,541.0 L299.5,541.5 L297.5,541.9 L295.5,542.0 L293.5,542.3 L291.5,542.6 L289.5,542.6 L287.5,542.1 L285.5,542.0 L283.5,541.4 L281.5,541.9 L279.5,541.4 L277.5,542.4 L275.5,542.3 L273.5,542.5 L271.5,542.4 L269.5,542.7 L267.5,542.6 L265.5,542.5 L263.5,541.9 L261.5,542.3 L259.5,542.6 L257.5,542.4 L255.5,541.6 L253.5,541.5 L251.5,542.2 L249.5,542.8 L247.5,542.4 L245.5,542.4 L243.5,542.4 L241.5,542.8 L239.5,542.9 L237.5,542.7 L235.5,542.6 L233.5,542.5 L231.5,542.1 L229.5,542.3 L227.5,542.2 L225.5,542.1 L223.5,541.4 L221.5,541.1 L219.5,541.1 L217.5,542.1 L215.5,543.0 L213.5,543.7 L211.5,543.6 L209.5,542.5 L207.5,541.6 L205.5,540.7 L203.5,541.1 L201.5,541.8 L199.5,543.1 L197.5,543.7 L195.5,544.2 L193.5,544.5 L191.5,544.8 L189.5,544.8 L187.5,544.4 L185.5,544.3 L183.5,544.3 L181.5,544.4 L179.5,544.4 L177.5,545.0 L175.5,544.8 L173.5,545.0 L171.5,544.5 L169.5,545.2 L167.5,545.1 L165.5,545.9 L163.5,545.9 L161.5,546.7 L159.5,546.4 L157.5,546.2 L155.5,546.4 L153.5,546.4 L151.5,547.1 L149.5,546.5 L147.5,545.8 L145.5,545.5 L143.5,545.3 L141.5,544.9 L139.5,544.3 L137.5,543.6 L135.5,543.6 L133.5,543.9 L131.5,544.1 L129.5,544.4 L127.5,544.6 L125.5,544.7 L123.5,545.0 L121.5,544.6 L119.5,544.7 L117.5,545.4Z" fill="rgba(174,248,174,0.70)"/>
<path d="M117.5,544.5 L119.5,544.1 L121.5,544.3 L123.5,544.1 L125.5,543.5 L127.5,543.4 L129.5,543.3 L131.5,543.1 L133.5,542.5 L135.5,542.3 L137.5,542.2 L139.5,542.5 L141.5,542.8 L143.5,543.2 L145.5,543.1 L147.5,542.8 L149.5,542.6 L151.5,542.6 L153.5,542.2 L155.5,542.0 L157.5,541.4 L159.5,540.6 L161.5,539.6 L163.5,539.2 L165.5,538.7 L167.5,539.0 L169.5,538.3 L171.5,538.0 L173.5,537.3 L175.5,537.4 L177.5,537.3 L179.5,537.1 L181.5,537.0 L183.5,536.7 L185.5,536.6 L187.5,536.2 L189.5,536.2 L191.5,536.1 L193.5,536.2 L195.5,536.6 L197.5,536.4 L199.5,536.3 L201.5,535.8 L203.5,535.8 L205.5,535.9 L207.5,535.6 L209.5,535.5 L211.5,535.1 L213.5,535.2 L215.5,535.0 L217.5,535.0 L219.5,534.7 L221.5,534.3 L223.5,534.0 L225.5,534.0 L227.5,534.1 L229.5,534.2 L231.5,533.5 L233.5,533.1 L235.5,532.7 L237.5,532.0 L239.5,531.5 L241.5,531.1 L243.5,530.8 L245.5,530.4 L247.5,529.7 L249.5,529.4 L251.5,529.0 L253.5,528.9 L255.5,528.7 L257.5,528.6 L259.5,528.6 L261.5,528.5 L263.5,528.7 L265.5,528.6 L267.5,528.6 L269.5,528.2 L271.5,528.3 L273.5,528.2 L275.5,528.3 L277.5,528.3 L279.5,528.7 L281.5,528.6 L283.5,528.3 L285.5,528.1 L287.5,528.2 L289.5,528.4 L291.5,528.4 L293.5,528.3 L295.5,527.9 L297.5,527.8 L299.5,527.8 L301.5,528.1 L303.5,528.1 L305.5,528.2 L307.5,528.2 L309.5,528.0 L311.5,527.6 L313.5,527.3 L315.5,527.3 L317.5,527.3 L319.5,527.5 L321.5,527.5 L323.5,527.8 L325.5,527.6 L327.5,527.5 L329.5,527.3 L331.5,527.1 L333.5,527.1 L335.5,526.9 L337.5,527.1 L339.5,526.7 L341.5,526.6 L343.5,526.3 L345.5,526.3 L347.5,525.8 L349.5,525.4 L351.5,525.2 L353.5,525.1 L355.5,524.7 L357.5,524.4 L359.5,523.7 L361.5,523.8 L363.5,523.7 L365.5,523.8 L367.5,523.9 L369.5,523.9 L371.5,524.3 L373.5,524.2 L375.5,524.2 L377.5,524.0 L379.5,524.3 L381.5,524.7 L383.5,525.0 L385.5,525.0 L387.5,524.9 L389.5,524.8 L391.5,524.7 L393.5,524.7 L395.5,524.7 L397.5,524.4 L399.5,524.2 L401.5,524.2 L403.5,524.3 L405.5,524.3 L407.5,524.1 L409.5,524.2 L411.5,523.8 L413.5,523.9 L415.5,523.2 L417.5,522.9 L419.5,522.3 L421.5,522.4 L423.5,522.0 L425.5,521.5 L427.5,521.2 L429.5,520.9 L431.5,520.7 L433.5,520.2 L435.5,520.1 L437.5,520.0 L439.5,520.0 L441.5,520.0 L443.5,520.3 L445.5,520.6 L447.5,520.7 L449.5,520.9 L451.5,520.8 L453.5,521.0 L455.5,520.9 L457.5,521.0 L459.5,520.7 L461.5,520.6 L463.5,520.6 L465.5,520.7 L467.5,520.6 L469.5,520.4 L471.5,520.3 L473.5,520.3 L475.5,520.2 L477.5,520.2 L479.5,520.2 L481.5,520.2 L483.5,520.1 L485.5,520.0 L487.5,519.0 L489.5,518.3 L491.5,517.5 L493.5,516.8 L495.5,516.3 L497.5,516.5 L499.5,516.9 L501.5,517.1 L503.5,517.6 L505.5,518.0 L507.5,518.4 L509.5,518.6 L511.5,518.6 L513.5,518.4 L515.5,518.6 L517.5,518.1 L519.5,518.0 L521.5,517.2 L523.5,517.1 L525.5,516.7 L527.5,516.9 L529.5,516.7 L531.5,516.5 L533.5,516.4 L535.5,516.3 L537.5,516.2 L539.5,515.9 L541.5,515.3 L543.5,515.2 L545.5,515.3 L547.5,515.5 L549.5,515.5 L551.5,515.1 L553.5,515.2 L555.5,515.1 L557.5,515.2 L559.5,515.1 L561.5,515.3 L563.5,515.3 L565.5,514.9 L567.5,514.6 L569.5,514.5 L571.5,514.5 L573.5,514.1 L575.5,513.9 L577.5,514.0 L579.5,514.1 L581.5,514.0 L583.5,514.0 L585.5,513.9 L587.5,514.0 L589.5,514.0 L591.5,513.9 L593.5,513.7 L595.5,513.7 L597.5,513.9 L599.5,514.5 L601.5,514.2 L603.5,514.0 L605.5,513.5 L607.5,513.8 L609.5,513.8 L611.5,514.0 L613.5,514.2 L615.5,514.4 L617.5,514.5 L619.5,514.7 L621.5,515.1 L623.5,515.0 L625.5,515.0 L627.5,514.2 L629.5,513.9 L631.5,512.9 L633.5,512.4 L635.5,511.6 L637.5,511.2 L639.5,510.5 L641.5,509.8 L643.5,509.1 L645.5,508.8 L647.5,508.8 L649.5,509.2 L651.5,509.2 L653.5,509.8 L655.5,510.0 L657.5,510.3 L659.5,510.4 L661.5,510.4 L663.5,510.4 L665.5,510.2 L667.5,510.4 L669.5,510.6 L671.5,510.4 L673.5,510.2 L675.5,510.3 L677.5,510.4 L679.5,510.3 L681.5,509.8 L683.5,509.4 L685.5,509.0 L687.5,508.8 L689.5,508.5 L691.5,508.4 L693.5,508.2 L695.5,508.1 L697.5,507.7 L699.5,507.5 L701.5,507.7 L703.5,508.0 L705.5,508.0 L707.5,507.9 L709.5,508.0 L711.5,508.5 L713.5,508.7 L715.5,508.5 L717.5,508.2 L719.5,508.4 L721.5,508.6 L723.5,508.9 L725.5,509.0 L727.5,508.8 L729.5,508.6 L731.5,508.2 L733.5,508.4 L735.5,508.5 L737.5,508.7 L739.5,508.3 L741.5,508.2 L743.5,508.0 L745.5,508.1 L747.5,507.8 L749.5,507.6 L751.5,507.2 L753.5,506.6 L755.5,506.2 L757.5,505.9 L759.5,505.6 L761.5,505.3 L763.5,505.2 L765.5,504.9 L767.5,504.4 L769.5,503.8 L771.5,503.8 L773.5,504.1 L775.5,504.3 L777.5,504.3 L779.5,503.9 L781.0,503.9" fill="none" stroke="#1f6fe6" stroke-width="2.6" stroke-linejoin="round"/>
<path d="M117.5,544.5 L119.5,543.7 L121.5,543.5 L123.5,543.9 L125.5,543.7 L127.5,543.5 L129.5,543.0 L131.5,542.7 L133.5,542.3 L135.5,542.2 L137.5,542.4 L139.5,542.9 L141.5,543.1 L143.5,543.1 L145.5,543.1 L147.5,543.1 L149.5,543.4 L151.5,543.5 L153.5,542.8 L155.5,542.0 L157.5,541.5 L159.5,540.9 L161.5,540.3 L163.5,539.3 L165.5,538.4 L167.5,538.1 L169.5,537.8 L171.5,537.5 L173.5,537.3 L175.5,537.2 L177.5,537.1 L179.5,537.0 L181.5,537.0 L183.5,537.2 L185.5,537.3 L187.5,537.3 L189.5,537.4 L191.5,537.4 L193.5,537.3 L195.5,537.1 L197.5,537.0 L199.5,536.3 L201.5,535.6 L203.5,534.9 L205.5,534.5 L207.5,535.3 L209.5,536.3 L211.5,537.1 L213.5,536.8 L215.5,535.6 L217.5,534.6 L219.5,533.6 L221.5,533.7 L223.5,534.2 L225.5,534.8 L227.5,535.4 L229.5,535.6 L231.5,535.5 L233.5,535.4 L235.5,535.4 L237.5,535.9 L239.5,536.0 L241.5,536.0 L243.5,535.8 L245.5,535.7 L247.5,535.7 L249.5,535.9 L251.5,536.0 L253.5,535.8 L255.5,535.8 L257.5,535.9 L259.5,536.0 L261.5,535.9 L263.5,535.8 L265.5,535.8 L267.5,535.8 L269.5,536.0 L271.5,536.0 L273.5,535.9 L275.5,535.4 L277.5,535.2 L279.5,535.1 L281.5,535.4 L283.5,535.0 L285.5,535.0 L287.5,535.0 L289.5,535.2 L291.5,535.3 L293.5,535.2 L295.5,535.1 L297.5,535.1 L299.5,534.9 L301.5,535.0 L303.5,535.1 L305.5,535.2 L307.5,535.3 L309.5,534.9 L311.5,535.2 L313.5,535.1 L315.5,535.2 L317.5,535.0 L319.5,535.1 L321.5,535.1 L323.5,535.2 L325.5,535.3 L327.5,535.6 L329.5,535.6 L331.5,535.6 L333.5,535.7 L335.5,535.8 L337.5,535.6 L339.5,535.5 L341.5,535.3 L343.5,535.4 L345.5,535.4 L347.5,535.3 L349.5,535.1 L351.5,534.8 L353.5,534.7 L355.5,534.5 L357.5,534.3 L359.5,534.1 L361.5,533.9 L363.5,534.1 L365.5,534.1 L367.5,534.1 L369.5,533.7 L371.5,533.6 L373.5,533.7 L375.5,533.9 L377.5,534.1 L379.5,534.3 L381.5,534.3 L383.5,534.1 L385.5,534.1 L387.5,534.4 L389.5,534.4 L391.5,534.4 L393.5,534.3 L395.5,534.6 L397.5,535.0 L399.5,535.3 L401.5,535.5 L403.5,535.4 L405.5,535.2 L407.5,535.3 L409.5,535.5 L411.5,535.4 L413.5,534.9 L415.5,534.5 L417.5,534.3 L419.5,534.3 L421.5,534.1 L423.5,534.2 L425.5,534.7 L427.5,535.3 L429.5,536.0 L431.5,535.4 L433.5,534.7 L435.5,533.5 L437.5,533.0 L439.5,532.3 L441.5,531.8 L443.5,531.3 L445.5,531.4 L447.5,531.3 L449.5,531.5 L451.5,531.8 L453.5,531.8 L455.5,532.2 L457.5,532.0 L459.5,532.6 L461.5,532.3 L463.5,532.4 L465.5,532.5 L467.5,532.6 L469.5,532.8 L471.5,532.7 L473.5,532.9 L475.5,532.6 L477.5,532.6 L479.5,532.6 L481.5,532.8 L483.5,533.2 L485.5,533.3 L487.5,533.2 L489.5,532.9 L491.5,532.8 L493.5,533.1 L495.5,533.3 L497.5,533.4 L499.5,533.4 L501.5,533.6 L503.5,533.9 L505.5,533.9 L507.5,534.0 L509.5,534.1 L511.5,534.1 L513.5,534.1 L515.5,534.4 L517.5,534.4 L519.5,534.6 L521.5,534.4 L523.5,534.7 L525.5,534.7 L527.5,534.9 L529.5,534.8 L531.5,534.9 L533.5,535.0 L535.5,534.9 L537.5,534.0 L539.5,533.1 L541.5,532.4 L543.5,531.9 L545.5,531.1 L547.5,529.9 L549.5,529.1 L551.5,529.0 L553.5,529.5 L555.5,529.4 L557.5,529.4 L559.5,529.2 L561.5,529.4 L563.5,529.3 L565.5,529.4 L567.5,529.4 L569.5,529.7 L571.5,530.1 L573.5,530.0 L575.5,530.0 L577.5,529.9 L579.5,529.8 L581.5,530.0 L583.5,529.8 L585.5,529.8 L587.5,529.5 L589.5,529.4 L591.5,529.4 L593.5,529.4 L595.5,529.3 L597.5,529.3 L599.5,529.2 L601.5,529.1 L603.5,529.0 L605.5,528.9 L607.5,528.8 L609.5,528.8 L611.5,528.8 L613.5,528.7 L615.5,529.0 L617.5,529.3 L619.5,529.6 L621.5,529.5 L623.5,529.9 L625.5,530.0 L627.5,529.9 L629.5,529.9 L631.5,529.9 L633.5,530.3 L635.5,530.4 L637.5,530.8 L639.5,530.9 L641.5,531.0 L643.5,531.1 L645.5,531.4 L647.5,531.2 L649.5,530.9 L651.5,530.4 L653.5,530.3 L655.5,529.7 L657.5,529.3 L659.5,529.2 L661.5,529.2 L663.5,529.2 L665.5,529.3 L667.5,529.5 L669.5,529.7 L671.5,529.4 L673.5,529.3 L675.5,529.5 L677.5,529.4 L679.5,529.3 L681.5,529.1 L683.5,529.5 L685.5,529.9 L687.5,530.1 L689.5,530.1 L691.5,530.1 L693.5,530.3 L695.5,530.8 L697.5,530.9 L699.5,531.0 L701.5,530.5 L703.5,530.8 L705.5,530.7 L707.5,530.8 L709.5,530.6 L711.5,530.6 L713.5,530.5 L715.5,530.5 L717.5,530.5 L719.5,530.9 L721.5,530.8 L723.5,530.7 L725.5,530.2 L727.5,529.5 L729.5,529.0 L731.5,528.7 L733.5,528.8 L735.5,528.8 L737.5,529.0 L739.5,529.1 L741.5,529.2 L743.5,529.1 L745.5,529.1 L747.5,529.3 L749.5,529.7 L751.5,529.8 L753.5,529.7 L755.5,529.4 L757.5,529.4 L759.5,529.6 L761.5,529.7 L763.5,529.8 L765.5,529.7 L767.5,529.6 L769.5,529.2 L771.5,529.3 L773.5,529.5 L775.5,529.6 L777.5,529.5 L779.0,529.3" fill="none" stroke="#2fa862" stroke-width="2.6" stroke-linejoin="round"/>
<text transform="translate(106.3,552.8) scale(1.000,1)" font-size="31.0" font-weight="bold" text-anchor="end">1.0</text>
<text transform="translate(106.3,447.8) scale(1.000,1)" font-size="31.0" font-weight="bold" text-anchor="end">1.5</text>
<text transform="translate(106.3,342.8) scale(1.000,1)" font-size="31.0" font-weight="bold" text-anchor="end">2.0</text>
<text transform="translate(106.3,237.8) scale(1.000,1)" font-size="31.0" font-weight="bold" text-anchor="end">2.5</text>
<text transform="translate(106.3,132.8) scale(1.000,1)" font-size="31.0" font-weight="bold" text-anchor="end">3.0</text>
<text transform="translate(106.3,27.8) scale(1.000,1)" font-size="31.0" font-weight="bold" text-anchor="end">3.5</text>
<text transform="translate(116.5,601.6) scale(1.000,1)" font-size="31.0" font-weight="bold" text-anchor="middle">0.0</text>
<text transform="translate(286.5,601.6) scale(1.000,1)" font-size="31.0" font-weight="bold" text-anchor="middle">2.5</text>
<text transform="translate(456.5,601.6) scale(1.000,1)" font-size="31.0" font-weight="bold" text-anchor="middle">5.0</text>
<text transform="translate(626.5,601.6) scale(1.000,1)" font-size="31.0" font-weight="bold" text-anchor="middle">7.5</text>
<text transform="translate(796.5,601.6) scale(1.000,1)" font-size="31.0" font-weight="bold" text-anchor="middle">10.0</text>
<text transform="translate(464.0,646.3) scale(1.055,1)" font-size="31.6" font-weight="bold" text-anchor="middle">Time / min</text>
<text transform="translate(44.0,276.5) rotate(-90) scale(1,1.02)" font-size="33.4" font-weight="bold" text-anchor="middle">Enhancement factor</text>
<text transform="translate(11.5,30.5) scale(1.000,1)" font-size="33.0" font-weight="normal" text-anchor="start">(a)</text>
<rect x="150.5" y="36.5" width="154.5" height="147" fill="#fff" stroke="#5a5a5a" stroke-width="1.3"/>
<path d="M154.5,56.4H219" stroke="#4f4f4f" stroke-width="2.4"/>
<text transform="translate(225.0,66.6) scale(0.950,1)" font-size="31.0" font-weight="bold" text-anchor="start">0.6 W</text>
<path d="M154.5,92.4H219" stroke="#f23636" stroke-width="2.4"/>
<text transform="translate(225.0,102.6) scale(0.950,1)" font-size="31.0" font-weight="bold" text-anchor="start">0.4 W</text>
<path d="M154.5,128.4H219" stroke="#1f6fe6" stroke-width="2.4"/>
<text transform="translate(225.0,138.6) scale(0.950,1)" font-size="31.0" font-weight="bold" text-anchor="start">0.2 W</text>
<path d="M154.5,164.4H219" stroke="#2fa862" stroke-width="2.4"/>
<text transform="translate(225.0,174.6) scale(0.950,1)" font-size="31.0" font-weight="bold" text-anchor="start">0.1 W</text>
</g>
<g id="panelB">
<rect x="117.5" y="675.0" width="680.0" height="547.0" fill="none" stroke="#000" stroke-width="3.9"/>
<path d="M287.5,1222.0V1211.5M287.5,675.0V685.5M457.5,1222.0V1211.5M457.5,675.0V685.5M627.5,1222.0V1211.5M627.5,675.0V685.5M117.5,1200.5H128.0M797.5,1200.5H787.0M117.5,1095.4H128.0M797.5,1095.4H787.0M117.5,990.3H128.0M797.5,990.3H787.0M117.5,885.2H128.0M797.5,885.2H787.0M117.5,780.1H128.0M797.5,780.1H787.0" stroke="#000" stroke-width="3.6" fill="none"/>
<path d="M117.5,1198.0 L119.0,1194.5 L120.5,1191.0 L122.0,1187.4 L123.5,1184.1 L125.0,1180.7 L126.5,1176.0 L128.0,1172.2 L129.5,1168.9 L131.0,1164.5 L132.5,1162.0 L134.0,1158.3 L135.5,1154.8 L137.0,1153.0 L138.5,1150.4 L140.0,1146.8 L141.5,1144.7 L143.0,1143.3 L144.5,1142.2 L146.0,1138.9 L147.5,1135.7 L149.0,1134.3 L150.5,1131.5 L152.0,1131.3 L153.5,1129.6 L155.0,1127.1 L156.5,1125.5 L158.0,1122.3 L159.5,1120.3 L161.0,1119.1 L162.5,1117.6 L164.0,1117.8 L165.5,1116.8 L167.0,1112.6 L168.5,1112.1 L170.0,1112.2 L171.5,1110.0 L173.0,1106.7 L174.5,1099.8 L176.0,1093.3 L177.5,1088.3 L179.0,1082.2 L180.5,1080.2 L182.0,1080.0 L183.5,1080.7 L185.0,1080.7 L186.5,1079.5 L188.0,1079.4 L189.5,1076.9 L191.0,1075.5 L192.5,1076.2 L194.0,1074.0 L195.5,1072.4 L197.0,1069.9 L198.5,1067.4 L200.0,1064.7 L201.5,1061.8 L203.0,1060.5 L204.5,1058.5 L206.0,1057.4 L207.5,1056.7 L209.0,1054.3 L210.5,1053.3 L212.0,1052.4 L213.5,1050.4 L215.0,1047.4 L216.5,1046.2 L218.0,1045.7 L219.5,1045.3 L221.0,1045.1 L222.5,1043.0 L224.0,1042.4 L225.5,1040.6 L227.0,1039.5 L228.5,1038.1 L230.0,1036.4 L231.5,1036.5 L233.0,1036.1 L234.5,1035.0 L236.0,1032.4 L237.5,1029.0 L239.0,1028.1 L240.5,1028.5 L242.0,1025.7 L243.5,1023.5 L245.0,1022.1 L246.5,1017.0 L248.0,1015.1 L249.5,1016.5 L251.0,1014.9 L252.5,1012.2 L254.0,1009.8 L255.5,1005.6 L257.0,1001.3 L258.5,999.7 L260.0,1000.0 L261.5,999.0 L263.0,997.7 L264.5,998.0 L266.0,998.7 L267.5,995.8 L269.0,992.8 L270.5,993.0 L272.0,992.9 L273.5,990.6 L275.0,992.4 L276.5,994.1 L278.0,991.5 L279.5,988.9 L281.0,988.3 L282.5,988.2 L284.0,987.7 L285.5,987.8 L287.0,986.4 L288.5,985.5 L290.0,984.0 L291.5,983.1 L293.0,981.4 L294.5,981.5 L296.0,982.9 L297.5,984.0 L299.0,983.9 L300.5,979.9 L302.0,980.6 L303.5,981.6 L305.0,979.2 L306.5,979.5 L308.0,981.0 L309.5,982.3 L311.0,980.8 L312.5,979.2 L314.0,979.4 L315.5,978.5 L317.0,977.7 L318.5,977.9 L320.0,978.0 L321.5,978.6 L323.0,977.0 L324.5,976.3 L326.0,977.8 L327.5,978.2 L329.0,977.4 L330.5,975.8 L332.0,976.0 L333.5,975.5 L335.0,974.3 L336.5,973.6 L338.0,973.0 L339.5,972.1 L341.0,971.5 L342.5,971.1 L344.0,970.4 L345.5,969.4 L347.0,970.2 L348.5,971.0 L350.0,969.7 L351.5,968.2 L353.0,968.2 L354.5,968.4 L356.0,967.3 L357.5,967.1 L359.0,966.7 L360.5,967.0 L362.0,966.1 L363.5,964.5 L365.0,964.8 L366.5,964.8 L368.0,964.8 L369.5,965.3 L371.0,965.6 L372.5,965.2 L374.0,963.6 L375.5,962.4 L377.0,961.9 L378.5,962.6 L380.0,962.3 L381.5,960.4 L383.0,959.4 L384.5,960.2 L386.0,959.9 L387.5,956.8 L389.0,957.6 L390.5,959.4 L392.0,959.0 L393.5,959.0 L395.0,958.4 L396.5,957.5 L398.0,956.7 L399.5,955.3 L401.0,953.2 L402.5,951.9 L404.0,953.3 L405.5,955.0 L407.0,954.3 L408.5,952.5 L410.0,952.3 L411.5,952.2 L413.0,951.1 L414.5,950.2 L416.0,948.6 L417.5,947.5 L419.0,948.0 L420.5,949.4 L422.0,949.8 L423.5,947.7 L425.0,946.3 L426.5,946.5 L428.0,946.5 L429.5,947.1 L431.0,947.8 L432.5,946.8 L434.0,947.7 L435.5,948.6 L437.0,946.7 L438.5,948.8 L440.0,949.0 L441.5,947.4 L443.0,947.7 L444.5,948.9 L446.0,946.3 L447.5,944.5 L449.0,944.2 L450.5,944.0 L452.0,945.7 L453.5,944.0 L455.0,940.7 L456.5,939.8 L458.0,940.9 L459.5,939.1 L461.0,936.0 L462.5,935.8 L464.0,933.9 L465.5,932.4 L467.0,933.6 L468.5,934.0 L470.0,935.1 L471.5,935.1 L473.0,933.5 L474.5,932.7 L476.0,933.6 L477.5,935.2 L479.0,936.3 L480.5,936.5 L482.0,934.9 L483.5,935.0 L485.0,935.8 L486.5,936.5 L488.0,936.1 L489.5,934.2 L491.0,933.3 L492.5,933.5 L494.0,933.1 L495.5,933.8 L497.0,934.0 L498.5,930.3 L500.0,928.4 L501.5,928.9 L503.0,928.4 L504.5,926.9 L506.0,925.3 L507.5,922.5 L509.0,920.0 L510.5,920.6 L512.0,920.1 L513.5,918.4 L515.0,918.4 L516.5,916.1 L518.0,913.3 L519.5,914.3 L521.0,914.4 L522.5,912.9 L524.0,913.3 L525.5,912.5 L527.0,910.7 L528.5,910.3 L530.0,908.1 L531.5,908.4 L533.0,909.2 L534.5,906.6 L536.0,906.3 L537.5,905.1 L539.0,902.8 L540.5,901.8 L542.0,901.2 L543.5,900.8 L545.0,900.3 L546.5,899.6 L548.0,899.3 L549.5,899.8 L551.0,899.5 L552.5,899.1 L554.0,898.5 L555.5,897.3 L557.0,895.3 L558.5,895.9 L560.0,896.0 L561.5,895.6 L563.0,896.3 L564.5,895.5 L566.0,894.9 L567.5,894.7 L569.0,893.3 L570.5,892.5 L572.0,893.4 L573.5,893.1 L575.0,892.5 L576.5,891.0 L578.0,889.4 L579.5,890.4 L581.0,890.1 L582.5,887.0 L584.0,885.6 L585.5,882.9 L587.0,880.2 L588.5,879.4 L590.0,877.6 L591.5,876.6 L593.0,875.2 L594.5,872.6 L596.0,869.4 L597.5,866.5 L599.0,864.9 L600.5,863.8 L602.0,863.2 L603.5,861.8 L605.0,860.9 L606.5,861.6 L608.0,860.2 L609.5,857.8 L611.0,858.5 L612.5,859.9 L614.0,858.9 L615.5,858.3 L617.0,856.4 L618.5,855.8 L620.0,857.0 L621.5,858.1 L623.0,858.2 L624.5,857.7 L626.0,855.9 L627.5,851.0 L629.0,847.4 L630.5,843.7 L632.0,843.1 L633.5,844.4 L635.0,843.1 L636.5,841.9 L638.0,843.4 L639.5,843.0 L641.0,842.0 L642.5,841.6 L644.0,841.1 L645.5,838.7 L647.0,838.3 L648.5,838.8 L650.0,836.0 L651.5,834.3 L653.0,833.4 L654.5,832.9 L656.0,830.9 L657.5,828.3 L659.0,827.0 L660.5,827.4 L662.0,826.5 L663.5,823.2 L665.0,819.5 L666.5,815.8 L668.0,812.8 L669.5,808.7 L671.0,807.6 L672.5,806.4 L674.0,803.0 L675.5,803.0 L677.0,801.2 L678.5,796.6 L680.0,794.3 L681.5,794.6 L683.0,794.6 L684.5,792.7 L686.0,792.5 L687.5,791.4 L689.0,790.2 L690.5,790.5 L692.0,789.2 L693.5,787.6 L695.0,786.2 L696.5,781.4 L698.0,778.1 L699.5,774.2 L701.0,772.1 L702.5,769.5 L704.0,767.9 L705.5,768.1 L707.0,768.1 L708.5,766.6 L710.0,764.2 L711.5,761.3 L713.0,759.0 L714.5,756.9 L716.0,754.8 L717.5,751.3 L719.0,751.0 L720.5,753.4 L722.0,753.0 L723.5,750.8 L725.0,748.8 L726.5,748.7 L728.0,750.0 L729.5,749.7 L731.0,744.6 L732.5,739.4 L734.0,738.6 L735.5,740.3 L737.0,736.4 L738.5,731.2 L740.0,729.6 L741.5,727.4 L743.0,725.2 L744.5,720.9 L746.0,717.4 L747.5,717.1 L749.0,718.6 L750.5,720.3 L752.0,721.5 L753.5,721.3 L755.0,720.5 L756.5,721.9 L758.0,723.3 L759.5,723.5 L761.0,720.0 L762.5,717.2 L764.0,714.0 L765.5,713.6 L767.0,716.6 L768.5,717.0 L770.0,719.7 L771.5,721.6 L773.0,724.0 L773.0,725.0 L773.0,857.8 L773.0,856.3 L771.5,855.8 L770.0,858.5 L768.5,860.8 L767.0,860.0 L765.5,857.4 L764.0,858.1 L762.5,861.3 L761.0,863.4 L759.5,863.6 L758.0,864.2 L756.5,865.6 L755.0,865.7 L753.5,867.3 L752.0,869.3 L750.5,869.4 L749.0,871.5 L747.5,876.2 L746.0,879.0 L744.5,880.1 L743.0,880.1 L741.5,880.8 L740.0,882.4 L738.5,883.0 L737.0,882.4 L735.5,883.1 L734.0,883.3 L732.5,882.2 L731.0,883.0 L729.5,883.0 L728.0,883.4 L726.5,885.8 L725.0,888.3 L723.5,892.0 L722.0,896.7 L720.5,900.7 L719.0,902.6 L717.5,904.1 L716.0,904.6 L714.5,905.7 L713.0,905.6 L711.5,905.5 L710.0,903.8 L708.5,901.8 L707.0,901.4 L705.5,901.5 L704.0,902.6 L702.5,902.3 L701.0,903.5 L699.5,905.1 L698.0,905.5 L696.5,907.3 L695.0,909.1 L693.5,910.3 L692.0,910.2 L690.5,909.7 L689.0,910.2 L687.5,911.0 L686.0,912.0 L684.5,913.6 L683.0,915.9 L681.5,916.2 L680.0,915.9 L678.5,914.4 L677.0,914.9 L675.5,917.4 L674.0,918.1 L672.5,918.7 L671.0,918.7 L669.5,920.5 L668.0,922.0 L666.5,921.5 L665.0,923.1 L663.5,924.4 L662.0,924.8 L660.5,925.8 L659.0,924.5 L657.5,925.0 L656.0,925.9 L654.5,926.3 L653.0,926.7 L651.5,926.4 L650.0,928.1 L648.5,928.5 L647.0,927.7 L645.5,930.1 L644.0,931.0 L642.5,931.0 L641.0,932.0 L639.5,932.7 L638.0,934.2 L636.5,933.4 L635.0,933.2 L633.5,933.0 L632.0,933.2 L630.5,935.2 L629.0,936.0 L627.5,937.5 L626.0,938.2 L624.5,937.2 L623.0,937.2 L621.5,937.0 L620.0,936.7 L618.5,939.5 L617.0,941.1 L615.5,939.3 L614.0,939.9 L612.5,942.1 L611.0,941.8 L609.5,942.3 L608.0,943.6 L606.5,944.0 L605.0,944.8 L603.5,944.7 L602.0,945.4 L600.5,944.7 L599.0,944.3 L597.5,945.8 L596.0,947.0 L594.5,948.4 L593.0,947.6 L591.5,945.7 L590.0,945.5 L588.5,948.0 L587.0,949.1 L585.5,947.7 L584.0,947.7 L582.5,946.6 L581.0,945.8 L579.5,945.9 L578.0,944.5 L576.5,944.0 L575.0,942.6 L573.5,941.3 L572.0,941.7 L570.5,941.1 L569.0,941.0 L567.5,943.9 L566.0,947.5 L564.5,948.4 L563.0,948.8 L561.5,950.5 L560.0,951.0 L558.5,950.8 L557.0,952.3 L555.5,952.6 L554.0,951.6 L552.5,950.2 L551.0,953.4 L549.5,956.1 L548.0,955.4 L546.5,955.1 L545.0,954.9 L543.5,955.8 L542.0,957.6 L540.5,960.3 L539.0,960.5 L537.5,961.5 L536.0,963.5 L534.5,963.4 L533.0,964.0 L531.5,966.5 L530.0,968.2 L528.5,968.4 L527.0,969.6 L525.5,970.7 L524.0,970.5 L522.5,972.1 L521.0,974.2 L519.5,973.3 L518.0,973.8 L516.5,978.0 L515.0,980.2 L513.5,981.6 L512.0,983.2 L510.5,983.0 L509.0,982.4 L507.5,981.6 L506.0,983.0 L504.5,984.5 L503.0,983.2 L501.5,982.6 L500.0,984.0 L498.5,985.1 L497.0,985.7 L495.5,985.2 L494.0,986.1 L492.5,987.9 L491.0,988.9 L489.5,988.7 L488.0,987.4 L486.5,987.1 L485.0,987.4 L483.5,989.1 L482.0,992.3 L480.5,994.1 L479.0,992.9 L477.5,991.6 L476.0,994.5 L474.5,995.8 L473.0,995.3 L471.5,997.5 L470.0,998.2 L468.5,997.3 L467.0,999.4 L465.5,1001.2 L464.0,1001.9 L462.5,1002.7 L461.0,1003.8 L459.5,1004.4 L458.0,1003.4 L456.5,1004.3 L455.0,1007.8 L453.5,1009.0 L452.0,1007.8 L450.5,1007.7 L449.0,1009.0 L447.5,1011.2 L446.0,1012.4 L444.5,1012.9 L443.0,1013.1 L441.5,1012.2 L440.0,1011.3 L438.5,1012.7 L437.0,1014.5 L435.5,1014.8 L434.0,1015.6 L432.5,1017.2 L431.0,1016.9 L429.5,1019.2 L428.0,1022.9 L426.5,1024.5 L425.0,1026.1 L423.5,1026.3 L422.0,1026.3 L420.5,1027.5 L419.0,1029.6 L417.5,1030.4 L416.0,1030.1 L414.5,1028.5 L413.0,1029.3 L411.5,1032.2 L410.0,1033.9 L408.5,1036.1 L407.0,1035.4 L405.5,1035.4 L404.0,1038.7 L402.5,1039.8 L401.0,1039.0 L399.5,1039.0 L398.0,1040.3 L396.5,1041.5 L395.0,1041.7 L393.5,1042.6 L392.0,1044.9 L390.5,1045.8 L389.0,1044.1 L387.5,1043.6 L386.0,1044.9 L384.5,1045.9 L383.0,1047.3 L381.5,1049.0 L380.0,1050.5 L378.5,1050.9 L377.0,1050.3 L375.5,1050.6 L374.0,1050.9 L372.5,1051.9 L371.0,1051.7 L369.5,1052.7 L368.0,1055.4 L366.5,1056.0 L365.0,1056.4 L363.5,1059.3 L362.0,1061.1 L360.5,1061.2 L359.0,1062.0 L357.5,1063.8 L356.0,1067.0 L354.5,1067.6 L353.0,1067.6 L351.5,1069.4 L350.0,1071.8 L348.5,1073.8 L347.0,1073.1 L345.5,1073.5 L344.0,1075.7 L342.5,1076.1 L341.0,1076.4 L339.5,1077.9 L338.0,1079.7 L336.5,1080.5 L335.0,1077.8 L333.5,1078.1 L332.0,1081.6 L330.5,1082.6 L329.0,1083.8 L327.5,1084.6 L326.0,1084.9 L324.5,1085.8 L323.0,1085.6 L321.5,1085.8 L320.0,1088.0 L318.5,1089.9 L317.0,1090.7 L315.5,1091.4 L314.0,1092.4 L312.5,1093.5 L311.0,1095.7 L309.5,1096.0 L308.0,1095.3 L306.5,1096.6 L305.0,1097.4 L303.5,1096.1 L302.0,1097.1 L300.5,1099.1 L299.0,1098.5 L297.5,1100.0 L296.0,1102.4 L294.5,1103.9 L293.0,1106.4 L291.5,1109.9 L290.0,1112.2 L288.5,1112.2 L287.0,1110.3 L285.5,1110.6 L284.0,1112.3 L282.5,1111.4 L281.0,1110.6 L279.5,1112.4 L278.0,1111.9 L276.5,1112.4 L275.0,1113.7 L273.5,1112.4 L272.0,1114.1 L270.5,1114.4 L269.0,1113.4 L267.5,1112.3 L266.0,1111.3 L264.5,1112.4 L263.0,1113.5 L261.5,1113.5 L260.0,1113.6 L258.5,1115.5 L257.0,1116.1 L255.5,1115.4 L254.0,1115.1 L252.5,1117.6 L251.0,1117.0 L249.5,1114.0 L248.0,1115.0 L246.5,1117.2 L245.0,1118.0 L243.5,1117.0 L242.0,1118.0 L240.5,1118.7 L239.0,1118.3 L237.5,1119.4 L236.0,1119.2 L234.5,1118.8 L233.0,1120.6 L231.5,1120.4 L230.0,1119.8 L228.5,1119.3 L227.0,1119.5 L225.5,1119.3 L224.0,1119.8 L222.5,1121.6 L221.0,1122.3 L219.5,1123.7 L218.0,1123.3 L216.5,1124.0 L215.0,1125.4 L213.5,1126.6 L212.0,1129.0 L210.5,1131.6 L209.0,1135.3 L207.5,1136.5 L206.0,1137.4 L204.5,1139.1 L203.0,1140.7 L201.5,1143.0 L200.0,1145.7 L198.5,1147.6 L197.0,1148.5 L195.5,1149.3 L194.0,1150.0 L192.5,1149.6 L191.0,1149.8 L189.5,1150.9 L188.0,1153.4 L186.5,1154.4 L185.0,1154.7 L183.5,1154.7 L182.0,1154.7 L180.5,1155.1 L179.0,1157.0 L177.5,1160.2 L176.0,1159.0 L174.5,1159.5 L173.0,1160.1 L171.5,1159.7 L170.0,1160.6 L168.5,1161.6 L167.0,1162.8 L165.5,1162.0 L164.0,1161.2 L162.5,1163.1 L161.0,1164.2 L159.5,1166.6 L158.0,1169.0 L156.5,1170.1 L155.0,1170.8 L153.5,1171.9 L152.0,1173.9 L150.5,1173.5 L149.0,1173.2 L147.5,1174.4 L146.0,1177.1 L144.5,1178.5 L143.0,1179.4 L141.5,1180.4 L140.0,1181.5 L138.5,1183.3 L137.0,1184.2 L135.5,1183.8 L134.0,1185.4 L132.5,1188.1 L131.0,1188.7 L129.5,1190.8 L128.0,1192.6 L126.5,1192.4 L125.0,1191.5 L123.5,1193.7 L122.0,1197.7 L120.5,1199.2 L119.0,1199.8 L117.5,1201.0Z" fill="#a5a6a5" stroke="#8e8e8e" stroke-width="0.9" stroke-linejoin="round"/>
<path d="M117.5,1199.0 L119.0,1196.5 L120.5,1193.1 L122.0,1190.4 L123.5,1187.5 L125.0,1185.2 L126.5,1183.2 L128.0,1181.3 L129.5,1179.2 L131.0,1176.4 L132.5,1174.1 L134.0,1172.2 L135.5,1170.0 L137.0,1168.0 L138.5,1166.5 L140.0,1162.5 L141.5,1159.6 L143.0,1159.3 L144.5,1158.6 L146.0,1158.2 L147.5,1156.3 L149.0,1153.3 L150.5,1151.9 L152.0,1150.4 L153.5,1149.5 L155.0,1147.5 L156.5,1143.9 L158.0,1143.0 L159.5,1142.2 L161.0,1139.2 L162.5,1137.3 L164.0,1136.6 L165.5,1135.7 L167.0,1135.0 L168.5,1133.4 L170.0,1131.4 L171.5,1129.6 L173.0,1128.3 L174.5,1127.1 L176.0,1125.8 L177.5,1122.9 L179.0,1120.4 L180.5,1120.2 L182.0,1119.9 L183.5,1118.4 L185.0,1114.8 L186.5,1112.0 L188.0,1112.3 L189.5,1112.2 L191.0,1110.7 L192.5,1110.6 L194.0,1108.8 L195.5,1107.1 L197.0,1106.5 L198.5,1103.7 L200.0,1100.6 L201.5,1098.5 L203.0,1098.7 L204.5,1097.5 L206.0,1095.3 L207.5,1093.8 L209.0,1091.4 L210.5,1090.4 L212.0,1089.6 L213.5,1087.9 L215.0,1086.5 L216.5,1085.1 L218.0,1084.3 L219.5,1083.6 L221.0,1082.9 L222.5,1082.1 L224.0,1080.3 L225.5,1078.9 L227.0,1079.2 L228.5,1081.0 L230.0,1079.9 L231.5,1076.8 L233.0,1076.7 L234.5,1076.9 L236.0,1076.2 L237.5,1076.2 L239.0,1075.7 L240.5,1074.6 L242.0,1072.7 L243.5,1071.9 L245.0,1070.5 L246.5,1069.1 L248.0,1067.6 L249.5,1065.8 L251.0,1064.9 L252.5,1064.4 L254.0,1063.5 L255.5,1061.6 L257.0,1061.6 L258.5,1061.3 L260.0,1059.9 L261.5,1058.2 L263.0,1057.3 L264.5,1057.2 L266.0,1056.8 L267.5,1055.4 L269.0,1054.5 L270.5,1053.1 L272.0,1052.2 L273.5,1052.4 L275.0,1052.3 L276.5,1052.1 L278.0,1052.6 L279.5,1052.5 L281.0,1051.0 L282.5,1049.2 L284.0,1047.7 L285.5,1048.5 L287.0,1047.9 L288.5,1047.0 L290.0,1046.0 L291.5,1044.8 L293.0,1043.7 L294.5,1042.7 L296.0,1042.5 L297.5,1042.2 L299.0,1040.8 L300.5,1039.0 L302.0,1039.1 L303.5,1039.3 L305.0,1038.8 L306.5,1037.4 L308.0,1036.8 L309.5,1036.8 L311.0,1035.2 L312.5,1034.4 L314.0,1034.9 L315.5,1034.7 L317.0,1033.6 L318.5,1033.0 L320.0,1032.1 L321.5,1032.1 L323.0,1031.7 L324.5,1029.7 L326.0,1028.3 L327.5,1028.1 L329.0,1028.1 L330.5,1028.2 L332.0,1026.4 L333.5,1025.7 L335.0,1027.0 L336.5,1025.5 L338.0,1024.7 L339.5,1023.8 L341.0,1022.2 L342.5,1021.5 L344.0,1021.6 L345.5,1021.7 L347.0,1020.6 L348.5,1018.6 L350.0,1017.2 L351.5,1016.4 L353.0,1015.6 L354.5,1015.7 L356.0,1015.6 L357.5,1014.4 L359.0,1013.1 L360.5,1012.6 L362.0,1011.4 L363.5,1011.9 L365.0,1012.2 L366.5,1011.5 L368.0,1011.3 L369.5,1009.3 L371.0,1007.9 L372.5,1008.5 L374.0,1008.8 L375.5,1008.3 L377.0,1007.3 L378.5,1006.9 L380.0,1005.8 L381.5,1004.7 L383.0,1004.1 L384.5,1004.2 L386.0,1004.5 L387.5,1003.8 L389.0,1002.9 L390.5,1000.6 L392.0,999.7 L393.5,1000.7 L395.0,1000.6 L396.5,1000.5 L398.0,1000.5 L399.5,999.2 L401.0,998.4 L402.5,997.2 L404.0,996.6 L405.5,995.9 L407.0,995.2 L408.5,994.4 L410.0,993.7 L411.5,995.1 L413.0,994.0 L414.5,992.7 L416.0,992.7 L417.5,990.0 L419.0,987.5 L420.5,988.3 L422.0,988.0 L423.5,987.0 L425.0,988.4 L426.5,988.9 L428.0,987.0 L429.5,984.8 L431.0,984.0 L432.5,983.9 L434.0,982.9 L435.5,983.0 L437.0,981.4 L438.5,980.8 L440.0,981.0 L441.5,980.2 L443.0,979.8 L444.5,978.1 L446.0,977.2 L447.5,977.1 L449.0,977.1 L450.5,978.0 L452.0,978.1 L453.5,975.8 L455.0,973.6 L456.5,973.1 L458.0,973.3 L459.5,971.3 L461.0,970.1 L462.5,970.9 L464.0,969.7 L465.5,967.2 L467.0,967.0 L468.5,967.9 L470.0,966.7 L471.5,965.6 L473.0,966.1 L474.5,966.0 L476.0,964.6 L477.5,963.8 L479.0,963.9 L480.5,963.7 L482.0,964.2 L483.5,963.3 L485.0,962.5 L486.5,962.7 L488.0,961.0 L489.5,961.2 L491.0,962.2 L492.5,960.7 L494.0,959.3 L495.5,959.7 L497.0,960.8 L498.5,959.4 L500.0,957.4 L501.5,956.8 L503.0,955.7 L504.5,954.1 L506.0,954.1 L507.5,952.8 L509.0,952.0 L510.5,951.9 L512.0,951.1 L513.5,949.0 L515.0,948.1 L516.5,948.2 L518.0,946.9 L519.5,945.6 L521.0,943.7 L522.5,943.9 L524.0,943.9 L525.5,942.6 L527.0,941.8 L528.5,941.0 L530.0,938.8 L531.5,937.3 L533.0,936.8 L534.5,937.0 L536.0,936.8 L537.5,934.0 L539.0,931.2 L540.5,931.0 L542.0,931.0 L543.5,930.2 L545.0,928.0 L546.5,927.3 L548.0,928.0 L549.5,927.7 L551.0,927.6 L552.5,926.6 L554.0,925.8 L555.5,926.8 L557.0,925.3 L558.5,925.0 L560.0,927.2 L561.5,925.8 L563.0,925.0 L564.5,924.5 L566.0,922.5 L567.5,921.5 L569.0,921.8 L570.5,921.1 L572.0,919.5 L573.5,919.1 L575.0,919.1 L576.5,918.6 L578.0,917.4 L579.5,916.8 L581.0,915.4 L582.5,913.7 L584.0,912.7 L585.5,912.3 L587.0,912.5 L588.5,911.9 L590.0,910.6 L591.5,910.5 L593.0,909.7 L594.5,907.3 L596.0,905.2 L597.5,905.0 L599.0,905.8 L600.5,903.7 L602.0,902.1 L603.5,900.5 L605.0,899.8 L606.5,900.0 L608.0,901.0 L609.5,901.4 L611.0,901.4 L612.5,901.1 L614.0,900.3 L615.5,901.3 L617.0,902.3 L618.5,902.0 L620.0,900.4 L621.5,899.2 L623.0,897.5 L624.5,895.6 L626.0,895.6 L627.5,894.6 L629.0,892.6 L630.5,891.5 L632.0,892.0 L633.5,891.4 L635.0,889.9 L636.5,889.3 L638.0,889.8 L639.5,889.1 L641.0,887.6 L642.5,887.5 L644.0,886.4 L645.5,885.1 L647.0,883.3 L648.5,882.5 L650.0,883.4 L651.5,882.3 L653.0,881.0 L654.5,879.9 L656.0,878.1 L657.5,876.3 L659.0,874.5 L660.5,873.9 L662.0,873.4 L663.5,871.0 L665.0,867.8 L666.5,866.7 L668.0,865.7 L669.5,864.3 L671.0,863.9 L672.5,861.9 L674.0,860.7 L675.5,860.0 L677.0,857.5 L678.5,854.9 L680.0,854.4 L681.5,855.0 L683.0,853.0 L684.5,850.9 L686.0,849.1 L687.5,846.3 L689.0,844.7 L690.5,843.6 L692.0,841.9 L693.5,840.9 L695.0,840.1 L696.5,840.1 L698.0,840.4 L699.5,839.3 L701.0,838.2 L702.5,837.4 L704.0,836.0 L705.5,835.6 L707.0,834.7 L708.5,833.9 L710.0,833.6 L711.5,833.7 L713.0,834.3 L714.5,836.5 L716.0,834.7 L717.5,831.2 L719.0,828.7 L720.5,826.1 L722.0,823.3 L723.5,821.1 L725.0,818.0 L726.5,815.7 L728.0,815.3 L729.5,814.3 L731.0,812.8 L732.5,812.0 L734.0,810.4 L735.5,809.3 L737.0,809.1 L738.5,807.4 L740.0,806.4 L741.5,804.6 L743.0,802.6 L744.5,801.7 L746.0,799.9 L747.5,798.5 L749.0,797.9 L750.5,797.1 L752.0,795.9 L753.5,794.1 L755.0,793.3 L756.5,793.9 L758.0,794.0 L759.5,794.4 L761.0,792.4 L762.5,789.3 L764.0,787.8 L765.5,786.6 L767.0,787.9 L768.5,788.4 L770.0,789.6 L771.5,789.7 L773.0,790.4 L774.5,791.3 L775.0,789.8" fill="none" stroke="#4f4f4f" stroke-width="2.6" stroke-linejoin="round" stroke-linecap="butt"/>
<path d="M117.5,1197.5 L119.0,1194.5 L120.5,1193.2 L122.0,1192.3 L123.5,1188.6 L125.0,1186.9 L126.5,1186.1 L128.0,1182.7 L129.5,1181.2 L131.0,1178.9 L132.5,1177.4 L134.0,1174.1 L135.5,1172.1 L137.0,1171.8 L138.5,1170.2 L140.0,1169.2 L141.5,1169.1 L143.0,1168.8 L144.5,1166.8 L146.0,1164.3 L147.5,1160.9 L149.0,1161.2 L150.5,1163.2 L152.0,1162.0 L153.5,1157.8 L155.0,1158.1 L156.5,1157.9 L158.0,1155.6 L159.5,1154.1 L161.0,1151.3 L162.5,1151.2 L164.0,1148.0 L165.5,1145.4 L167.0,1146.4 L168.5,1146.5 L170.0,1145.0 L171.5,1146.3 L173.0,1147.5 L174.5,1146.0 L176.0,1144.1 L177.5,1143.9 L179.0,1146.3 L180.5,1147.0 L182.0,1146.8 L183.5,1145.6 L185.0,1144.5 L186.5,1143.0 L188.0,1142.1 L189.5,1139.9 L191.0,1137.2 L192.5,1136.0 L194.0,1134.2 L195.5,1132.2 L197.0,1130.8 L198.5,1128.4 L200.0,1128.9 L201.5,1129.6 L203.0,1126.3 L204.5,1123.7 L206.0,1123.3 L207.5,1122.7 L209.0,1121.3 L210.5,1120.3 L212.0,1117.2 L213.5,1112.3 L215.0,1110.4 L216.5,1110.4 L218.0,1108.6 L219.5,1107.1 L221.0,1105.1 L222.5,1104.8 L224.0,1106.3 L225.5,1107.5 L227.0,1105.8 L228.5,1104.2 L230.0,1104.2 L231.5,1103.0 L233.0,1101.9 L234.5,1103.2 L236.0,1100.3 L237.5,1097.0 L239.0,1094.8 L240.5,1091.3 L242.0,1088.3 L243.5,1086.0 L245.0,1084.0 L246.5,1082.9 L248.0,1079.7 L249.5,1078.5 L251.0,1080.6 L252.5,1078.7 L254.0,1075.2 L255.5,1075.2 L257.0,1076.8 L258.5,1075.0 L260.0,1073.8 L261.5,1073.3 L263.0,1071.4 L264.5,1070.6 L266.0,1069.0 L267.5,1066.5 L269.0,1065.3 L270.5,1066.0 L272.0,1064.9 L273.5,1062.6 L275.0,1059.5 L276.5,1056.8 L278.0,1054.9 L279.5,1054.9 L281.0,1055.7 L282.5,1053.7 L284.0,1052.0 L285.5,1049.6 L287.0,1047.0 L288.5,1047.1 L290.0,1045.6 L291.5,1043.9 L293.0,1044.5 L294.5,1040.8 L296.0,1036.8 L297.5,1038.1 L299.0,1038.8 L300.5,1037.5 L302.0,1037.0 L303.5,1033.9 L305.0,1033.1 L306.5,1033.6 L308.0,1031.4 L309.5,1029.1 L311.0,1026.6 L312.5,1024.5 L314.0,1022.4 L315.5,1021.3 L317.0,1021.0 L318.5,1021.0 L320.0,1020.0 L321.5,1017.0 L323.0,1016.8 L324.5,1015.2 L326.0,1013.4 L327.5,1014.8 L329.0,1012.3 L330.5,1009.0 L332.0,1009.2 L333.5,1010.5 L335.0,1009.1 L336.5,1006.1 L338.0,1005.3 L339.5,1002.7 L341.0,999.7 L342.5,1001.0 L344.0,1002.1 L345.5,1000.8 L347.0,999.0 L348.5,997.8 L350.0,994.9 L351.5,992.4 L353.0,992.8 L354.5,993.9 L356.0,993.6 L357.5,991.7 L359.0,989.4 L360.5,988.7 L362.0,989.8 L363.5,989.8 L365.0,988.8 L366.5,989.9 L368.0,988.4 L369.5,986.8 L371.0,986.2 L372.5,983.5 L374.0,985.1 L375.5,985.6 L377.0,983.6 L378.5,983.6 L380.0,986.5 L381.5,985.4 L383.0,982.1 L384.5,983.5 L386.0,982.7 L387.5,983.3 L389.0,982.0 L390.5,978.7 L392.0,980.4 L393.5,979.8 L395.0,977.7 L396.5,975.9 L398.0,975.7 L399.5,977.4 L401.0,976.6 L402.5,974.2 L404.0,975.2 L405.5,976.5 L407.0,975.1 L408.5,973.4 L410.0,971.3 L411.5,971.2 L413.0,970.7 L414.5,967.6 L416.0,965.9 L417.5,965.1 L419.0,964.7 L420.5,962.8 L422.0,960.0 L423.5,957.4 L425.0,956.0 L426.5,955.4 L428.0,954.8 L429.5,954.3 L431.0,952.8 L432.5,952.0 L434.0,952.5 L435.5,951.8 L437.0,950.4 L438.5,949.5 L440.0,948.7 L441.5,948.6 L443.0,948.9 L444.5,947.6 L446.0,946.1 L447.5,946.1 L449.0,945.8 L450.5,945.6 L452.0,942.2 L453.5,940.5 L455.0,940.1 L456.5,938.6 L458.0,938.8 L459.5,938.8 L461.0,936.1 L462.5,934.0 L464.0,930.8 L465.5,928.6 L467.0,927.7 L468.5,925.8 L470.0,925.7 L471.5,923.8 L473.0,923.8 L474.5,923.0 L476.0,920.7 L477.5,919.9 L479.0,919.3 L480.5,919.6 L482.0,918.8 L483.5,916.4 L485.0,914.2 L486.5,914.9 L488.0,916.0 L489.5,915.1 L491.0,913.2 L492.5,912.9 L494.0,912.4 L495.5,911.6 L497.0,908.9 L498.5,905.7 L500.0,905.9 L501.5,903.0 L503.0,899.5 L504.5,897.5 L506.0,895.5 L507.5,895.0 L509.0,893.8 L510.5,890.1 L512.0,890.7 L513.5,889.3 L515.0,886.2 L516.5,885.2 L518.0,883.0 L519.5,881.8 L521.0,880.3 L522.5,879.1 L524.0,878.5 L525.5,875.5 L527.0,870.9 L528.5,868.5 L530.0,866.2 L531.5,866.9 L533.0,866.2 L534.5,864.1 L536.0,866.1 L537.5,867.4 L539.0,867.2 L540.5,864.8 L542.0,863.4 L543.5,864.6 L545.0,865.8 L546.5,867.3 L548.0,867.7 L549.5,869.0 L551.0,872.1 L552.5,870.4 L554.0,865.1 L555.5,864.0 L557.0,860.7 L558.5,856.3 L560.0,854.8 L561.5,855.5 L563.0,854.0 L564.5,851.1 L566.0,847.1 L567.5,845.6 L569.0,847.9 L570.5,848.9 L572.0,845.5 L573.5,844.0 L575.0,846.1 L576.5,847.0 L578.0,844.5 L579.5,842.8 L581.0,843.4 L582.5,842.3 L584.0,843.9 L585.5,843.0 L587.0,841.5 L588.5,844.1 L590.0,843.9 L591.5,841.8 L593.0,837.2 L594.5,834.6 L596.0,835.3 L597.5,833.7 L599.0,830.1 L600.5,827.7 L602.0,826.1 L603.5,825.6 L605.0,823.7 L606.5,820.1 L608.0,818.4 L609.5,816.3 L611.0,816.1 L612.5,815.7 L614.0,812.8 L615.5,809.5 L617.0,807.2 L618.5,804.1 L620.0,803.2 L621.5,803.9 L623.0,802.1 L624.5,799.4 L626.0,797.9 L627.5,796.1 L629.0,791.6 L630.5,788.9 L632.0,785.5 L633.5,783.7 L635.0,782.0 L636.5,779.0 L638.0,777.3 L639.5,776.8 L641.0,775.6 L642.5,773.9 L644.0,773.2 L645.5,770.7 L647.0,771.6 L648.5,772.1 L650.0,768.4 L651.5,766.6 L653.0,765.7 L654.5,762.9 L656.0,762.9 L657.5,762.7 L659.0,760.0 L660.5,758.2 L662.0,756.7 L663.5,755.1 L665.0,752.6 L666.5,749.9 L668.0,747.7 L669.5,743.9 L671.0,741.4 L672.5,742.1 L674.0,741.8 L675.5,739.1 L677.0,735.9 L678.5,736.0 L680.0,735.2 L681.5,732.3 L683.0,730.9 L684.5,729.1 L686.0,731.7 L687.5,733.0 L689.0,728.2 L690.5,727.3 L692.0,728.5 L693.5,730.2 L695.0,731.2 L696.5,729.6 L698.0,730.9 L699.5,733.3 L701.0,730.7 L702.5,727.3 L704.0,725.4 L705.5,724.7 L707.0,724.2 L708.5,724.0 L710.0,724.6 L711.5,727.7 L713.0,729.9 L714.5,731.3 L716.0,731.4 L717.5,726.0 L719.0,721.6 L720.5,721.0 L722.0,720.0 L723.5,719.6 L725.0,720.9 L726.5,719.2 L728.0,718.5 L729.5,720.4 L731.0,720.2 L732.5,719.2 L734.0,718.1 L735.5,718.7 L737.0,720.2 L738.5,720.5 L740.0,722.4 L741.5,723.3 L743.0,722.2 L744.5,724.7 L746.0,726.5 L747.5,726.6 L749.0,727.9 L750.5,726.6 L752.0,724.0 L753.5,725.9 L755.0,724.6 L756.5,722.0 L758.0,725.2 L759.5,724.7 L761.0,723.5 L762.5,723.0 L764.0,724.3 L765.5,724.0 L767.0,719.9 L768.5,716.1 L770.0,713.6 L771.5,717.3 L772.5,722.7 L772.5,936.5 L771.5,919.5 L770.0,896.2 L768.5,880.1 L767.0,881.8 L765.5,885.6 L764.0,887.1 L762.5,887.8 L761.0,890.2 L759.5,893.7 L758.0,897.8 L756.5,901.8 L755.0,905.2 L753.5,906.1 L752.0,905.5 L750.5,905.3 L749.0,905.7 L747.5,906.1 L746.0,906.2 L744.5,906.5 L743.0,907.0 L741.5,907.8 L740.0,906.7 L738.5,907.4 L737.0,906.7 L735.5,905.7 L734.0,908.7 L732.5,909.4 L731.0,909.5 L729.5,910.0 L728.0,910.0 L726.5,910.6 L725.0,909.4 L723.5,909.0 L722.0,909.1 L720.5,909.0 L719.0,910.2 L717.5,911.6 L716.0,913.4 L714.5,913.2 L713.0,911.5 L711.5,912.8 L710.0,914.8 L708.5,916.2 L707.0,915.9 L705.5,914.6 L704.0,914.6 L702.5,912.8 L701.0,911.5 L699.5,910.2 L698.0,908.3 L696.5,905.3 L695.0,906.4 L693.5,910.9 L692.0,914.8 L690.5,917.3 L689.0,917.0 L687.5,919.6 L686.0,923.6 L684.5,923.0 L683.0,923.2 L681.5,924.8 L680.0,921.4 L678.5,921.7 L677.0,922.2 L675.5,920.9 L674.0,921.5 L672.5,921.9 L671.0,921.1 L669.5,919.5 L668.0,923.4 L666.5,928.4 L665.0,928.9 L663.5,930.3 L662.0,934.2 L660.5,936.9 L659.0,935.9 L657.5,933.7 L656.0,931.4 L654.5,931.4 L653.0,932.4 L651.5,929.4 L650.0,925.4 L648.5,925.0 L647.0,927.2 L645.5,928.7 L644.0,927.8 L642.5,929.1 L641.0,930.8 L639.5,931.0 L638.0,931.1 L636.5,931.0 L635.0,929.0 L633.5,926.9 L632.0,930.0 L630.5,932.0 L629.0,930.4 L627.5,931.9 L626.0,932.9 L624.5,933.0 L623.0,933.3 L621.5,932.7 L620.0,932.6 L618.5,933.9 L617.0,935.6 L615.5,935.3 L614.0,934.8 L612.5,933.0 L611.0,931.3 L609.5,932.2 L608.0,931.1 L606.5,929.4 L605.0,930.1 L603.5,929.3 L602.0,927.4 L600.5,926.3 L599.0,927.7 L597.5,928.5 L596.0,928.5 L594.5,928.5 L593.0,927.2 L591.5,928.6 L590.0,931.0 L588.5,931.6 L587.0,931.8 L585.5,931.3 L584.0,930.9 L582.5,931.0 L581.0,932.1 L579.5,933.7 L578.0,934.8 L576.5,938.0 L575.0,940.7 L573.5,942.5 L572.0,943.7 L570.5,946.3 L569.0,947.7 L567.5,943.9 L566.0,942.8 L564.5,945.1 L563.0,947.0 L561.5,948.5 L560.0,949.0 L558.5,949.4 L557.0,951.1 L555.5,949.7 L554.0,949.3 L552.5,949.3 L551.0,949.2 L549.5,952.7 L548.0,953.3 L546.5,952.2 L545.0,953.1 L543.5,953.3 L542.0,954.2 L540.5,956.8 L539.0,957.3 L537.5,957.2 L536.0,958.8 L534.5,960.7 L533.0,963.1 L531.5,963.5 L530.0,964.8 L528.5,967.6 L527.0,969.1 L525.5,972.3 L524.0,976.0 L522.5,975.0 L521.0,974.0 L519.5,975.8 L518.0,977.5 L516.5,979.1 L515.0,981.5 L513.5,985.6 L512.0,989.4 L510.5,996.2 L509.0,999.4 L507.5,999.1 L506.0,999.1 L504.5,1000.5 L503.0,1000.4 L501.5,999.1 L500.0,1001.2 L498.5,1002.1 L497.0,1003.4 L495.5,1006.8 L494.0,1010.4 L492.5,1017.2 L491.0,1023.3 L489.5,1028.2 L488.0,1026.7 L486.5,1026.1 L485.0,1027.8 L483.5,1029.6 L482.0,1034.1 L480.5,1034.3 L479.0,1033.3 L477.5,1034.9 L476.0,1037.6 L474.5,1039.1 L473.0,1039.7 L471.5,1040.0 L470.0,1042.0 L468.5,1045.6 L467.0,1048.2 L465.5,1051.2 L464.0,1052.4 L462.5,1051.5 L461.0,1052.2 L459.5,1051.2 L458.0,1051.3 L456.5,1056.2 L455.0,1060.5 L453.5,1063.1 L452.0,1063.3 L450.5,1064.4 L449.0,1069.6 L447.5,1073.0 L446.0,1070.5 L444.5,1068.7 L443.0,1067.1 L441.5,1064.9 L440.0,1063.1 L438.5,1064.9 L437.0,1064.9 L435.5,1064.0 L434.0,1067.5 L432.5,1071.0 L431.0,1071.1 L429.5,1069.8 L428.0,1070.5 L426.5,1071.4 L425.0,1071.5 L423.5,1073.4 L422.0,1073.8 L420.5,1072.6 L419.0,1074.4 L417.5,1075.4 L416.0,1076.8 L414.5,1080.1 L413.0,1081.9 L411.5,1083.4 L410.0,1085.5 L408.5,1088.0 L407.0,1088.5 L405.5,1088.7 L404.0,1095.1 L402.5,1099.2 L401.0,1100.2 L399.5,1098.4 L398.0,1097.0 L396.5,1099.7 L395.0,1102.2 L393.5,1104.4 L392.0,1103.5 L390.5,1104.4 L389.0,1107.5 L387.5,1108.2 L386.0,1107.6 L384.5,1107.8 L383.0,1108.9 L381.5,1110.4 L380.0,1112.1 L378.5,1113.7 L377.0,1114.5 L375.5,1115.3 L374.0,1117.9 L372.5,1118.8 L371.0,1118.9 L369.5,1121.8 L368.0,1124.1 L366.5,1124.4 L365.0,1124.9 L363.5,1123.4 L362.0,1123.8 L360.5,1127.5 L359.0,1126.9 L357.5,1123.8 L356.0,1123.8 L354.5,1126.6 L353.0,1128.1 L351.5,1128.5 L350.0,1128.1 L348.5,1127.7 L347.0,1128.8 L345.5,1131.1 L344.0,1133.4 L342.5,1133.3 L341.0,1133.2 L339.5,1136.4 L338.0,1137.8 L336.5,1137.7 L335.0,1140.0 L333.5,1138.6 L332.0,1139.2 L330.5,1138.4 L329.0,1137.6 L327.5,1141.2 L326.0,1141.1 L324.5,1140.8 L323.0,1142.5 L321.5,1144.0 L320.0,1144.3 L318.5,1146.2 L317.0,1149.3 L315.5,1147.8 L314.0,1147.5 L312.5,1150.3 L311.0,1149.8 L309.5,1149.6 L308.0,1150.0 L306.5,1149.4 L305.0,1149.6 L303.5,1151.5 L302.0,1153.3 L300.5,1154.8 L299.0,1154.0 L297.5,1153.1 L296.0,1153.3 L294.5,1155.3 L293.0,1157.9 L291.5,1157.5 L290.0,1157.2 L288.5,1157.7 L287.0,1158.7 L285.5,1157.7 L284.0,1157.0 L282.5,1160.0 L281.0,1157.4 L279.5,1157.6 L278.0,1159.0 L276.5,1160.1 L275.0,1162.1 L273.5,1160.7 L272.0,1158.9 L270.5,1157.8 L269.0,1161.3 L267.5,1161.7 L266.0,1159.6 L264.5,1160.8 L263.0,1163.2 L261.5,1167.5 L260.0,1168.8 L258.5,1166.2 L257.0,1167.7 L255.5,1166.7 L254.0,1164.3 L252.5,1165.1 L251.0,1165.1 L249.5,1165.6 L248.0,1165.2 L246.5,1164.7 L245.0,1165.6 L243.5,1165.7 L242.0,1166.8 L240.5,1168.2 L239.0,1166.9 L237.5,1167.5 L236.0,1171.0 L234.5,1169.5 L233.0,1167.7 L231.5,1167.0 L230.0,1167.2 L228.5,1171.0 L227.0,1170.0 L225.5,1168.9 L224.0,1169.9 L222.5,1171.9 L221.0,1172.5 L219.5,1171.4 L218.0,1171.0 L216.5,1169.5 L215.0,1171.1 L213.5,1172.1 L212.0,1173.3 L210.5,1174.3 L209.0,1174.4 L207.5,1173.8 L206.0,1173.8 L204.5,1176.9 L203.0,1176.2 L201.5,1175.1 L200.0,1177.4 L198.5,1177.1 L197.0,1176.6 L195.5,1177.8 L194.0,1178.0 L192.5,1178.5 L191.0,1180.4 L189.5,1180.1 L188.0,1179.0 L186.5,1180.4 L185.0,1180.8 L183.5,1180.0 L182.0,1180.6 L180.5,1181.7 L179.0,1182.5 L177.5,1182.1 L176.0,1183.8 L174.5,1186.0 L173.0,1184.8 L171.5,1183.0 L170.0,1182.6 L168.5,1182.7 L167.0,1182.3 L165.5,1182.0 L164.0,1182.6 L162.5,1183.2 L161.0,1181.9 L159.5,1179.7 L158.0,1180.5 L156.5,1181.4 L155.0,1180.3 L153.5,1180.3 L152.0,1179.8 L150.5,1179.9 L149.0,1179.4 L147.5,1181.8 L146.0,1184.3 L144.5,1183.7 L143.0,1183.3 L141.5,1183.2 L140.0,1183.4 L138.5,1182.4 L137.0,1183.5 L135.5,1186.0 L134.0,1186.1 L132.5,1186.2 L131.0,1188.3 L129.5,1191.6 L128.0,1192.1 L126.5,1191.3 L125.0,1193.8 L123.5,1194.0 L122.0,1194.2 L120.5,1196.3 L119.0,1198.6 L117.5,1200.0Z" fill="rgba(251,172,214,0.70)" stroke="rgba(247,150,205,0.55)" stroke-width="0.9" stroke-linejoin="round"/>
<path d="M117.5,1196.8 L119.0,1198.7 L120.5,1195.7 L122.0,1193.6 L123.5,1194.0 L125.0,1192.4 L126.5,1189.8 L128.0,1187.6 L129.5,1185.6 L131.0,1184.9 L132.5,1185.0 L134.0,1183.5 L135.5,1181.4 L137.0,1180.4 L138.5,1181.0 L140.0,1182.4 L141.5,1183.8 L143.0,1188.4 L144.5,1188.6 L146.0,1185.1 L147.5,1183.5 L149.0,1183.0 L150.5,1184.7 L152.0,1186.7 L153.5,1187.7 L155.0,1187.0 L156.5,1188.2 L158.0,1189.5 L159.5,1189.8 L161.0,1189.5 L162.5,1187.2 L164.0,1186.0 L165.5,1187.1 L167.0,1187.8 L168.5,1188.0 L170.0,1186.6 L171.5,1186.7 L173.0,1186.0 L174.5,1182.9 L176.0,1184.1 L177.5,1186.1 L179.0,1185.7 L180.5,1184.7 L182.0,1183.3 L183.5,1182.6 L185.0,1184.1 L186.5,1186.2 L188.0,1185.9 L189.5,1182.6 L191.0,1181.2 L192.5,1181.9 L194.0,1182.9 L195.5,1183.2 L197.0,1182.8 L198.5,1181.6 L200.0,1182.0 L201.5,1182.2 L203.0,1180.3 L204.5,1179.7 L206.0,1181.3 L207.5,1182.3 L209.0,1179.5 L210.5,1178.3 L212.0,1178.9 L213.5,1176.5 L215.0,1177.2 L216.5,1178.6 L218.0,1176.1 L219.5,1174.4 L221.0,1174.4 L222.5,1174.2 L224.0,1171.7 L225.5,1171.1 L227.0,1167.6 L228.5,1164.0 L230.0,1163.8 L231.5,1163.9 L233.0,1163.1 L234.5,1165.3 L236.0,1165.4 L237.5,1163.9 L239.0,1168.7 L240.5,1170.9 L242.0,1167.6 L243.5,1168.3 L245.0,1168.4 L246.5,1167.8 L248.0,1169.1 L249.5,1168.5 L251.0,1167.7 L252.5,1171.0 L254.0,1171.4 L255.5,1169.5 L257.0,1171.2 L258.5,1170.5 L260.0,1167.5 L261.5,1165.3 L263.0,1163.5 L264.5,1166.1 L266.0,1167.0 L267.5,1166.6 L269.0,1166.8 L270.5,1163.9 L272.0,1162.5 L273.5,1164.3 L275.0,1164.4 L276.5,1163.2 L278.0,1165.0 L279.5,1164.1 L281.0,1163.3 L282.5,1165.6 L284.0,1166.5 L285.5,1165.2 L287.0,1165.0 L288.5,1165.5 L290.0,1165.6 L291.5,1167.1 L293.0,1166.2 L294.5,1164.1 L296.0,1163.1 L297.5,1160.6 L299.0,1160.7 L300.5,1160.8 L302.0,1160.2 L303.5,1159.9 L305.0,1158.6 L306.5,1158.4 L308.0,1159.2 L309.5,1158.5 L311.0,1158.0 L312.5,1157.6 L314.0,1157.8 L315.5,1159.2 L317.0,1157.7 L318.5,1157.6 L320.0,1161.4 L321.5,1164.5 L323.0,1165.9 L324.5,1164.3 L326.0,1161.9 L327.5,1161.0 L329.0,1161.4 L330.5,1160.7 L332.0,1157.2 L333.5,1156.2 L335.0,1157.6 L336.5,1159.4 L338.0,1158.4 L339.5,1156.2 L341.0,1156.3 L342.5,1155.6 L344.0,1155.8 L345.5,1156.9 L347.0,1156.5 L348.5,1155.7 L350.0,1155.0 L351.5,1154.1 L353.0,1154.0 L354.5,1153.4 L356.0,1152.8 L357.5,1151.2 L359.0,1148.7 L360.5,1148.8 L362.0,1148.1 L363.5,1147.4 L365.0,1150.1 L366.5,1148.3 L368.0,1143.3 L369.5,1144.5 L371.0,1145.4 L372.5,1143.3 L374.0,1141.3 L375.5,1140.4 L377.0,1143.3 L378.5,1143.2 L380.0,1141.0 L381.5,1141.3 L383.0,1141.2 L384.5,1140.1 L386.0,1138.9 L387.5,1140.8 L389.0,1142.4 L390.5,1143.4 L392.0,1147.8 L393.5,1148.0 L395.0,1147.4 L396.5,1149.5 L398.0,1150.4 L399.5,1150.3 L401.0,1148.3 L402.5,1146.6 L404.0,1145.5 L405.5,1145.5 L407.0,1143.7 L408.5,1140.3 L410.0,1134.6 L411.5,1130.0 L413.0,1126.3 L414.5,1121.8 L416.0,1116.0 L417.5,1108.6 L419.0,1106.4 L420.5,1107.0 L422.0,1109.0 L423.5,1109.8 L425.0,1112.3 L426.5,1115.3 L428.0,1117.9 L429.5,1118.8 L431.0,1118.9 L432.5,1120.6 L434.0,1121.8 L435.5,1122.5 L437.0,1124.2 L438.5,1126.1 L440.0,1127.2 L441.5,1128.3 L443.0,1128.0 L444.5,1126.1 L446.0,1124.1 L447.5,1121.3 L449.0,1118.8 L450.5,1117.2 L452.0,1117.9 L453.5,1117.6 L455.0,1119.3 L456.5,1120.8 L458.0,1123.5 L459.5,1125.7 L461.0,1125.6 L462.5,1126.9 L464.0,1125.8 L465.5,1123.8 L467.0,1123.5 L468.5,1125.3 L470.0,1126.7 L471.5,1127.0 L473.0,1126.9 L474.5,1124.5 L476.0,1123.7 L477.5,1123.4 L479.0,1121.8 L480.5,1120.7 L482.0,1123.2 L483.5,1125.0 L485.0,1126.4 L486.5,1123.6 L488.0,1123.1 L489.5,1122.2 L491.0,1118.6 L492.5,1116.1 L494.0,1112.8 L495.5,1112.9 L497.0,1112.5 L498.5,1112.2 L500.0,1112.6 L501.5,1111.6 L503.0,1110.6 L504.5,1108.9 L506.0,1107.9 L507.5,1103.7 L509.0,1097.9 L510.5,1094.0 L512.0,1093.5 L513.5,1094.3 L515.0,1092.2 L516.5,1088.8 L518.0,1089.1 L519.5,1092.1 L521.0,1091.5 L522.5,1093.0 L524.0,1096.4 L525.5,1097.7 L527.0,1098.9 L528.5,1096.9 L530.0,1094.3 L531.5,1093.7 L533.0,1093.8 L534.5,1094.5 L536.0,1094.0 L537.5,1095.3 L539.0,1095.2 L540.5,1093.3 L542.0,1093.6 L543.5,1093.1 L545.0,1091.2 L546.5,1090.6 L548.0,1090.9 L549.5,1090.1 L551.0,1087.1 L552.5,1084.4 L554.0,1083.5 L555.5,1082.7 L557.0,1081.8 L558.5,1080.0 L560.0,1079.7 L561.5,1079.1 L563.0,1078.1 L564.5,1077.6 L566.0,1075.6 L567.5,1075.1 L569.0,1075.2 L570.5,1074.6 L572.0,1072.6 L573.5,1068.1 L575.0,1067.3 L576.5,1066.0 L578.0,1060.5 L579.5,1057.2 L581.0,1055.1 L582.5,1051.9 L584.0,1051.2 L585.5,1052.8 L587.0,1056.8 L588.5,1060.6 L590.0,1062.8 L591.5,1059.2 L593.0,1056.5 L594.5,1051.9 L596.0,1049.4 L597.5,1051.1 L599.0,1051.9 L602.0,1047.7 L604.0,1045.3 L606.0,1042.0 L608.0,1039.3 L610.0,1036.8 L612.0,1034.0 L614.0,1031.9 L616.0,1029.1 L618.0,1027.8 L620.0,1025.9 L622.0,1023.2 L624.0,1020.0 L626.0,1017.0 L628.0,1014.9 L630.0,1012.4 L632.0,1009.9 L634.0,1006.5 L636.0,1003.2 L638.0,1001.2 L640.0,997.9 L642.0,995.8 L644.0,991.9 L646.0,989.8 L648.0,986.5 L650.0,984.8 L652.0,980.8 L654.0,976.3 L656.0,971.5 L658.0,967.3 L660.0,963.9 L662.0,959.9 L664.0,955.5 L666.0,950.7 L668.0,947.2 L670.0,943.7 L672.0,940.4 L674.0,936.7 L676.0,934.4 L678.0,930.7 L680.0,927.7 L682.0,924.3 L684.0,921.8 L686.0,917.3 L688.0,913.2 L690.0,909.7 L692.0,907.3 L694.0,903.7 L696.0,899.3 L698.0,894.2 L700.0,889.1 L702.0,883.8 L704.0,880.5 L706.0,878.1 L708.0,876.1 L710.0,874.2 L712.0,873.1 L714.0,870.9 L716.0,868.5 L718.0,866.5 L720.0,866.4 L722.0,867.2 L724.0,867.1 L726.0,866.9 L728.0,866.9 L730.0,867.1 L732.0,865.8 L734.0,863.7 L736.0,862.1 L738.0,859.7 L740.0,857.8 L742.0,855.8 L744.0,854.6 L746.0,852.7 L748.0,850.9 L750.0,849.4 L752.0,847.8 L754.0,850.4 L756.0,854.2 L758.0,857.1 L760.0,861.0 L762.0,858.5 L764.0,856.2 L766.0,853.1 L768.0,850.4 L770.0,849.0 L772.0,847.7 L774.0,848.8 L774.0,862.2 L772.0,863.8 L770.0,866.6 L768.0,869.0 L766.0,870.4 L764.0,871.8 L762.0,874.7 L760.0,878.2 L758.0,881.2 L756.0,884.3 L754.0,886.6 L752.0,889.3 L750.0,890.2 L748.0,893.4 L746.0,896.2 L744.0,899.9 L742.0,903.1 L740.0,906.9 L738.0,909.7 L736.0,910.7 L734.0,910.6 L732.0,911.8 L730.0,912.2 L728.0,912.4 L726.0,913.1 L724.0,915.4 L722.0,920.7 L720.0,924.9 L718.0,929.4 L716.0,929.2 L714.0,928.0 L712.0,926.9 L710.0,926.9 L708.0,925.6 L706.0,925.2 L704.0,926.1 L702.0,930.5 L700.0,934.6 L698.0,939.1 L696.0,943.6 L694.0,948.7 L692.0,955.9 L690.0,962.5 L688.0,968.9 L686.0,975.1 L684.0,982.2 L682.0,990.5 L680.0,998.1 L678.0,1005.4 L676.0,1012.0 L674.0,1019.4 L672.0,1029.0 L670.0,1037.7 L668.0,1037.5 L666.0,1035.9 L664.0,1034.9 L662.0,1034.2 L660.0,1033.1 L658.0,1032.1 L656.0,1030.2 L654.0,1028.8 L652.0,1028.5 L650.0,1028.0 L648.0,1027.7 L646.0,1026.7 L644.0,1025.9 L642.0,1027.0 L640.0,1027.9 L638.0,1029.8 L636.0,1031.7 L634.0,1033.5 L632.0,1035.0 L630.0,1035.9 L628.0,1037.5 L626.0,1039.1 L624.0,1041.4 L622.0,1043.6 L620.0,1046.3 L618.0,1047.4 L616.0,1047.5 L614.0,1048.2 L612.0,1049.8 L610.0,1052.5 L608.0,1054.4 L606.0,1055.9 L604.0,1057.3 L602.0,1059.0 L599.0,1065.1 L597.5,1066.7 L596.0,1070.2 L594.5,1074.4 L593.0,1078.0 L591.5,1083.3 L590.0,1090.6 L588.5,1086.6 L587.0,1084.1 L585.5,1080.4 L584.0,1077.0 L582.5,1074.8 L581.0,1076.5 L579.5,1078.2 L578.0,1080.1 L576.5,1082.4 L575.0,1084.4 L573.5,1088.7 L572.0,1093.1 L570.5,1096.9 L569.0,1100.5 L567.5,1103.1 L566.0,1103.7 L564.5,1104.6 L563.0,1106.8 L561.5,1108.2 L560.0,1109.8 L558.5,1111.8 L557.0,1113.9 L555.5,1113.1 L554.0,1114.3 L552.5,1117.3 L551.0,1119.8 L549.5,1121.6 L548.0,1123.4 L546.5,1125.1 L545.0,1125.0 L543.5,1126.3 L542.0,1128.6 L540.5,1128.8 L539.0,1129.9 L537.5,1132.5 L536.0,1134.3 L534.5,1135.2 L533.0,1136.4 L531.5,1137.9 L530.0,1138.9 L528.5,1139.3 L527.0,1139.9 L525.5,1140.2 L524.0,1140.4 L522.5,1140.2 L521.0,1139.4 L519.5,1139.5 L518.0,1138.3 L516.5,1138.6 L515.0,1141.8 L513.5,1141.6 L512.0,1142.0 L510.5,1145.5 L509.0,1146.0 L507.5,1148.2 L506.0,1147.4 L504.5,1145.3 L503.0,1144.6 L501.5,1141.3 L500.0,1137.2 L498.5,1136.8 L497.0,1137.2 L495.5,1136.5 L494.0,1136.8 L492.5,1140.5 L491.0,1141.9 L489.5,1141.4 L488.0,1142.0 L486.5,1144.0 L485.0,1146.7 L483.5,1145.0 L482.0,1141.8 L480.5,1138.3 L479.0,1139.5 L477.5,1141.9 L476.0,1142.1 L474.5,1143.4 L473.0,1145.3 L471.5,1145.4 L470.0,1144.7 L468.5,1143.1 L467.0,1142.7 L465.5,1143.7 L464.0,1144.0 L462.5,1144.7 L461.0,1144.4 L459.5,1144.0 L458.0,1143.1 L456.5,1140.9 L455.0,1139.9 L453.5,1140.3 L452.0,1140.0 L450.5,1139.4 L449.0,1140.3 L447.5,1141.7 L446.0,1146.4 L444.5,1149.3 L443.0,1150.6 L441.5,1152.2 L440.0,1151.8 L438.5,1151.0 L437.0,1148.2 L435.5,1146.3 L434.0,1148.7 L432.5,1150.0 L431.0,1147.9 L429.5,1146.7 L428.0,1147.7 L426.5,1148.9 L425.0,1150.7 L423.5,1148.9 L422.0,1150.1 L420.5,1154.6 L419.0,1150.7 L417.5,1148.0 L416.0,1150.4 L414.5,1148.1 L413.0,1149.0 L411.5,1152.0 L410.0,1153.9 L408.5,1156.1 L407.0,1159.2 L405.5,1164.3 L404.0,1165.4 L402.5,1163.5 L401.0,1164.7 L399.5,1165.2 L398.0,1164.1 L396.5,1164.4 L395.0,1165.2 L393.5,1165.2 L392.0,1163.9 L390.5,1161.1 L389.0,1160.3 L387.5,1159.7 L386.0,1158.5 L384.5,1158.5 L383.0,1159.1 L381.5,1158.7 L380.0,1159.5 L378.5,1161.3 L377.0,1160.2 L375.5,1159.4 L374.0,1161.1 L372.5,1162.6 L371.0,1163.6 L369.5,1162.5 L368.0,1162.8 L366.5,1166.3 L365.0,1166.6 L363.5,1167.6 L362.0,1169.9 L360.5,1169.6 L359.0,1169.7 L357.5,1170.9 L356.0,1174.0 L354.5,1174.9 L353.0,1174.3 L351.5,1174.1 L350.0,1174.4 L348.5,1177.4 L347.0,1179.3 L345.5,1177.3 L344.0,1176.3 L342.5,1177.4 L341.0,1177.4 L339.5,1178.5 L338.0,1180.1 L336.5,1180.4 L335.0,1181.2 L333.5,1179.6 L332.0,1179.9 L330.5,1183.7 L329.0,1182.7 L327.5,1181.8 L326.0,1182.4 L324.5,1184.0 L323.0,1186.3 L321.5,1184.6 L320.0,1180.1 L318.5,1178.7 L317.0,1177.2 L315.5,1175.2 L314.0,1177.3 L312.5,1175.9 L311.0,1175.0 L309.5,1177.3 L308.0,1178.3 L306.5,1176.1 L305.0,1177.0 L303.5,1178.3 L302.0,1176.0 L300.5,1175.9 L299.0,1177.2 L297.5,1179.0 L296.0,1180.0 L294.5,1179.6 L293.0,1182.6 L291.5,1184.0 L290.0,1180.3 L288.5,1180.1 L287.0,1183.5 L285.5,1184.5 L284.0,1181.5 L282.5,1178.3 L281.0,1179.6 L279.5,1181.5 L278.0,1181.3 L276.5,1180.1 L275.0,1180.6 L273.5,1179.0 L272.0,1178.3 L270.5,1182.6 L269.0,1182.9 L267.5,1183.7 L266.0,1185.7 L264.5,1184.3 L263.0,1183.2 L261.5,1183.6 L260.0,1185.6 L258.5,1188.8 L257.0,1188.9 L255.5,1186.8 L254.0,1187.5 L252.5,1188.5 L251.0,1186.3 L249.5,1187.2 L248.0,1189.0 L246.5,1186.6 L245.0,1185.6 L243.5,1185.6 L242.0,1186.1 L240.5,1187.1 L239.0,1185.4 L237.5,1182.8 L236.0,1183.4 L234.5,1183.8 L233.0,1181.3 L231.5,1181.2 L230.0,1181.5 L228.5,1181.6 L227.0,1184.2 L225.5,1186.3 L224.0,1186.2 L222.5,1185.6 L221.0,1185.2 L219.5,1187.1 L218.0,1186.6 L216.5,1187.6 L215.0,1188.0 L213.5,1187.2 L212.0,1188.7 L210.5,1189.3 L209.0,1189.7 L207.5,1190.1 L206.0,1189.6 L204.5,1188.0 L203.0,1187.7 L201.5,1188.1 L200.0,1187.9 L198.5,1187.1 L197.0,1187.8 L195.5,1188.9 L194.0,1187.3 L192.5,1189.4 L191.0,1191.4 L189.5,1189.7 L188.0,1190.6 L186.5,1191.0 L185.0,1190.4 L183.5,1190.5 L182.0,1190.6 L180.5,1190.8 L179.0,1191.2 L177.5,1190.7 L176.0,1189.9 L174.5,1191.1 L173.0,1193.7 L171.5,1191.4 L170.0,1191.6 L168.5,1194.4 L167.0,1192.6 L165.5,1192.4 L164.0,1193.8 L162.5,1193.5 L161.0,1192.3 L159.5,1194.5 L158.0,1196.7 L156.5,1195.7 L155.0,1194.2 L153.5,1192.1 L152.0,1191.4 L150.5,1192.3 L149.0,1190.3 L147.5,1189.3 L146.0,1191.0 L144.5,1192.2 L143.0,1190.4 L141.5,1189.2 L140.0,1189.6 L138.5,1187.2 L137.0,1186.5 L135.5,1188.0 L134.0,1188.3 L132.5,1187.9 L131.0,1189.5 L129.5,1191.8 L128.0,1194.0 L126.5,1193.4 L125.0,1194.3 L123.5,1197.4 L122.0,1198.2 L120.5,1198.5 L119.0,1198.2 L117.5,1198.2Z" fill="rgba(184,222,249,0.70)"/>
<path d="M117.5,1200.0 L119.0,1197.7 L120.5,1194.3 L122.0,1193.9 L123.5,1192.7 L125.0,1191.7 L126.5,1190.7 L128.0,1187.8 L129.5,1185.7 L131.0,1183.8 L132.5,1181.2 L134.0,1180.0 L135.5,1178.7 L137.0,1176.2 L138.5,1175.3 L140.0,1174.0 L141.5,1174.8 L143.0,1177.3 L144.5,1178.9 L146.0,1180.7 L147.5,1181.6 L149.0,1182.3 L150.5,1185.8 L152.0,1188.8 L153.5,1189.5 L155.0,1189.3 L156.5,1190.0 L158.0,1191.2 L159.5,1190.5 L161.0,1190.4 L162.5,1191.0 L164.0,1189.5 L165.5,1188.3 L167.0,1189.1 L168.5,1190.8 L170.0,1190.1 L171.5,1188.0 L173.0,1189.3 L174.5,1191.5 L176.0,1190.7 L177.5,1190.6 L179.0,1192.1 L180.5,1190.8 L182.0,1189.2 L183.5,1189.5 L185.0,1190.5 L186.5,1190.2 L188.0,1189.2 L189.5,1190.7 L191.0,1191.6 L192.5,1191.4 L194.0,1190.1 L195.5,1189.7 L197.0,1189.9 L198.5,1190.3 L200.0,1191.0 L201.5,1190.9 L203.0,1190.4 L204.5,1190.0 L206.0,1190.4 L207.5,1190.2 L209.0,1190.1 L210.5,1189.5 L212.0,1188.2 L213.5,1187.4 L215.0,1187.8 L216.5,1189.2 L218.0,1189.3 L219.5,1187.1 L221.0,1186.8 L222.5,1187.9 L224.0,1187.2 L225.5,1187.0 L227.0,1187.2 L228.5,1187.7 L230.0,1187.8 L231.5,1187.9 L233.0,1187.1 L234.5,1185.2 L236.0,1185.8 L237.5,1185.6 L239.0,1185.6 L240.5,1186.0 L242.0,1185.4 L243.5,1187.2 L245.0,1187.5 L246.5,1187.7 L248.0,1188.8 L249.5,1188.3 L251.0,1188.7 L252.5,1189.5 L254.0,1189.4 L255.5,1188.8 L257.0,1189.6 L258.5,1190.1 L260.0,1189.8 L261.5,1190.3 L263.0,1190.3 L264.5,1190.2 L266.0,1190.5 L267.5,1190.5 L269.0,1190.4 L270.5,1191.1 L272.0,1190.7 L273.5,1189.5 L275.0,1189.0 L276.5,1187.7 L278.0,1189.0 L279.5,1190.8 L281.0,1191.4 L282.5,1190.1 L284.0,1188.6 L285.5,1189.2 L287.0,1191.0 L288.5,1192.0 L290.0,1190.6 L291.5,1189.9 L293.0,1190.3 L294.5,1189.5 L296.0,1189.5 L297.5,1189.6 L299.0,1189.4 L300.5,1190.6 L302.0,1190.7 L303.5,1189.8 L305.0,1189.4 L306.5,1190.4 L308.0,1190.2 L309.5,1188.8 L311.0,1188.9 L312.5,1189.3 L314.0,1189.2 L315.5,1189.5 L317.0,1189.2 L318.5,1188.9 L320.0,1189.6 L321.5,1190.1 L323.0,1190.0 L324.5,1189.6 L326.0,1188.5 L327.5,1188.6 L329.0,1187.7 L330.5,1186.7 L332.0,1188.1 L333.5,1188.4 L335.0,1187.2 L336.5,1186.7 L338.0,1187.3 L339.5,1187.1 L341.0,1187.5 L342.5,1188.3 L344.0,1186.2 L345.5,1185.7 L347.0,1186.0 L348.5,1186.3 L350.0,1186.7 L351.5,1185.4 L353.0,1184.0 L354.5,1184.1 L356.0,1181.5 L357.5,1178.5 L359.0,1174.8 L360.5,1170.9 L362.0,1167.2 L363.5,1164.5 L365.0,1162.6 L366.5,1160.6 L368.0,1161.1 L369.5,1160.3 L371.0,1157.3 L372.5,1155.5 L374.0,1156.7 L375.5,1157.6 L377.0,1157.0 L378.5,1158.4 L380.0,1159.2 L381.5,1159.4 L383.0,1161.7 L384.5,1163.0 L386.0,1164.8 L387.5,1166.5 L389.0,1168.4 L390.5,1170.7 L392.0,1173.0 L393.5,1175.0 L395.0,1174.3 L396.5,1173.1 L398.0,1172.9 L399.5,1173.2 L401.0,1173.7 L402.5,1174.3 L404.0,1172.8 L405.5,1171.3 L407.0,1172.2 L408.5,1171.9 L410.0,1171.5 L411.5,1171.0 L413.0,1170.7 L414.5,1171.4 L416.0,1171.2 L417.5,1171.0 L419.0,1171.4 L420.5,1172.2 L422.0,1172.2 L423.5,1171.3 L425.0,1170.5 L426.5,1170.1 L428.0,1169.7 L429.5,1169.8 L431.0,1170.1 L432.5,1169.9 L434.0,1170.0 L435.5,1170.6 L437.0,1169.8 L438.5,1169.0 L440.0,1169.6 L441.5,1169.8 L443.0,1168.7 L444.5,1167.6 L446.0,1168.5 L447.5,1168.4 L449.0,1168.1 L450.5,1168.0 L452.0,1168.7 L453.5,1168.5 L455.0,1168.4 L456.5,1169.5 L458.0,1169.0 L459.5,1169.2 L461.0,1168.5 L462.5,1167.4 L464.0,1168.5 L465.5,1168.3 L467.0,1166.6 L468.5,1165.9 L470.0,1165.6 L471.5,1166.7 L473.0,1166.1 L474.5,1165.7 L476.0,1165.8 L477.5,1165.3 L479.0,1165.8 L480.5,1166.4 L482.0,1165.4 L483.5,1163.5 L485.0,1164.1 L486.5,1164.3 L488.0,1163.4 L489.5,1163.2 L491.0,1163.9 L492.5,1165.6 L494.0,1164.2 L495.5,1163.9 L497.0,1164.1 L498.5,1162.2 L500.0,1162.5 L501.5,1163.7 L503.0,1162.5 L504.5,1160.7 L506.0,1161.8 L507.5,1162.3 L509.0,1158.9 L510.5,1157.8 L512.0,1158.5 L513.5,1157.7 L515.0,1157.7 L516.5,1157.1 L518.0,1156.2 L519.5,1157.3 L521.0,1155.9 L522.5,1154.0 L524.0,1154.9 L525.5,1153.2 L527.0,1151.5 L528.5,1151.1 L530.0,1151.8 L531.5,1151.2 L533.0,1150.4 L534.5,1149.7 L536.0,1148.1 L537.5,1148.7 L539.0,1149.7 L540.5,1148.0 L542.0,1146.4 L543.5,1147.0 L545.0,1146.6 L546.5,1145.2 L548.0,1144.7 L549.5,1145.3 L551.0,1143.8 L552.5,1144.4 L554.0,1146.7 L555.5,1146.0 L557.0,1144.3 L558.5,1142.6 L560.0,1142.7 L561.5,1142.0 L563.0,1142.6 L564.5,1142.5 L566.0,1141.5 L567.5,1142.0 L569.0,1140.5 L570.5,1139.7 L572.0,1140.0 L573.5,1140.8 L575.0,1142.3 L576.5,1142.8 L578.0,1142.7 L579.5,1143.3 L581.0,1144.9 L582.5,1146.0 L584.0,1146.1 L585.5,1145.7 L587.0,1145.6 L588.5,1146.9 L590.0,1147.5 L591.5,1146.0 L593.0,1146.4 L594.5,1146.2 L596.0,1144.7 L597.5,1143.4 L599.0,1142.7 L600.5,1143.2 L602.0,1143.5 L603.5,1142.2 L605.0,1142.0 L606.5,1143.5 L608.0,1144.3 L609.5,1144.8 L611.0,1144.7 L612.5,1144.3 L614.0,1145.3 L615.5,1145.0 L617.0,1143.5 L618.5,1140.8 L620.0,1138.1 L621.5,1138.4 L623.0,1138.1 L624.5,1136.5 L626.0,1135.0 L627.5,1133.6 L629.0,1130.8 L630.5,1129.7 L632.0,1129.5 L633.5,1126.5 L635.0,1123.9 L636.5,1123.9 L638.0,1123.3 L639.5,1122.3 L641.0,1121.5 L642.5,1119.0 L644.0,1117.6 L645.5,1117.3 L647.0,1116.8 L648.5,1116.5 L650.0,1115.0 L651.5,1115.5 L653.0,1116.5 L654.5,1116.9 L656.0,1116.3 L657.5,1116.8 L659.0,1118.1 L660.5,1119.2 L662.0,1120.3 L663.5,1119.5 L665.0,1119.5 L666.5,1118.8 L668.0,1117.4 L669.5,1116.4 L671.0,1116.2 L672.5,1116.2 L674.0,1116.3 L675.5,1118.1 L677.0,1118.8 L678.5,1118.4 L680.0,1118.8 L681.5,1119.8 L683.0,1120.7 L684.5,1118.0 L686.0,1115.8 L687.5,1115.4 L689.0,1113.9 L690.5,1112.7 L692.0,1111.8 L693.5,1111.3 L695.0,1108.5 L696.5,1106.4 L698.0,1107.0 L699.5,1106.3 L701.0,1106.0 L702.5,1105.8 L704.0,1104.9 L705.5,1104.1 L707.0,1103.0 L708.5,1105.1 L710.0,1104.9 L711.5,1103.5 L713.0,1103.0 L714.5,1101.6 L716.0,1100.2 L717.5,1099.3 L719.0,1098.6 L720.5,1095.5 L722.0,1093.2 L723.5,1094.2 L725.0,1095.6 L726.5,1094.3 L728.0,1092.2 L729.5,1091.5 L731.0,1093.1 L732.5,1092.2 L734.0,1091.5 L735.5,1093.5 L737.0,1092.2 L738.5,1090.8 L740.0,1091.4 L741.5,1092.0 L743.0,1093.3 L744.5,1094.3 L746.0,1093.7 L747.5,1094.3 L749.0,1095.9 L750.5,1095.8 L752.0,1094.9 L753.5,1094.0 L755.0,1093.0 L756.5,1090.6 L758.0,1087.3 L759.5,1083.3 L761.0,1080.6 L762.5,1078.3 L764.0,1078.8 L765.5,1079.1 L767.0,1080.0 L768.5,1081.3 L770.0,1080.4 L771.5,1081.0 L773.0,1081.8 L774.0,1081.8 L774.0,1155.9 L773.0,1157.4 L771.5,1157.4 L770.0,1157.9 L768.5,1159.4 L767.0,1158.7 L765.5,1157.9 L764.0,1157.7 L762.5,1157.7 L761.0,1158.1 L759.5,1156.4 L758.0,1156.6 L756.5,1156.9 L755.0,1153.9 L753.5,1153.3 L752.0,1155.5 L750.5,1155.3 L749.0,1154.8 L747.5,1154.6 L746.0,1154.1 L744.5,1154.3 L743.0,1155.2 L741.5,1156.7 L740.0,1157.6 L738.5,1157.0 L737.0,1158.5 L735.5,1162.4 L734.0,1161.6 L732.5,1160.5 L731.0,1161.9 L729.5,1163.1 L728.0,1162.3 L726.5,1162.0 L725.0,1163.7 L723.5,1164.0 L722.0,1164.8 L720.5,1164.6 L719.0,1165.6 L717.5,1166.0 L716.0,1164.2 L714.5,1164.6 L713.0,1166.2 L711.5,1164.5 L710.0,1163.1 L708.5,1163.7 L707.0,1164.6 L705.5,1165.4 L704.0,1164.5 L702.5,1163.4 L701.0,1162.9 L699.5,1163.0 L698.0,1163.3 L696.5,1164.5 L695.0,1164.6 L693.5,1165.5 L692.0,1167.0 L690.5,1167.2 L689.0,1168.8 L687.5,1168.3 L686.0,1167.8 L684.5,1170.0 L683.0,1170.9 L681.5,1171.0 L680.0,1170.8 L678.5,1168.0 L677.0,1168.7 L675.5,1169.0 L674.0,1166.9 L672.5,1168.2 L671.0,1168.6 L669.5,1168.4 L668.0,1169.8 L666.5,1168.1 L665.0,1167.8 L663.5,1168.6 L662.0,1167.9 L660.5,1167.3 L659.0,1167.0 L657.5,1168.3 L656.0,1169.2 L654.5,1170.6 L653.0,1171.7 L651.5,1171.8 L650.0,1172.3 L648.5,1173.5 L647.0,1174.8 L645.5,1174.9 L644.0,1176.1 L642.5,1177.4 L641.0,1177.3 L639.5,1177.7 L638.0,1178.6 L636.5,1180.7 L635.0,1181.1 L633.5,1179.9 L632.0,1178.3 L630.5,1178.4 L629.0,1179.7 L627.5,1179.1 L626.0,1179.2 L624.5,1180.9 L623.0,1181.2 L621.5,1180.9 L620.0,1180.6 L618.5,1179.9 L617.0,1179.0 L615.5,1179.1 L614.0,1179.1 L612.5,1179.5 L611.0,1181.2 L609.5,1181.5 L608.0,1181.0 L606.5,1182.3 L605.0,1184.4 L603.5,1184.9 L602.0,1184.9 L600.5,1185.3 L599.0,1186.5 L597.5,1188.0 L596.0,1186.7 L594.5,1184.0 L593.0,1185.7 L591.5,1187.6 L590.0,1187.1 L588.5,1186.8 L587.0,1187.9 L585.5,1189.3 L584.0,1186.4 L582.5,1184.6 L581.0,1185.2 L579.5,1185.9 L578.0,1185.7 L576.5,1184.4 L575.0,1183.4 L573.5,1182.7 L572.0,1182.5 L570.5,1183.3 L569.0,1183.0 L567.5,1180.7 L566.0,1181.1 L564.5,1182.9 L563.0,1182.1 L561.5,1178.9 L560.0,1179.4 L558.5,1180.1 L557.0,1179.2 L555.5,1180.8 L554.0,1183.1 L552.5,1184.6 L551.0,1186.0 L549.5,1186.9 L548.0,1184.9 L546.5,1184.3 L545.0,1186.0 L543.5,1184.1 L542.0,1183.7 L540.5,1185.2 L539.0,1186.9 L537.5,1188.2 L536.0,1188.4 L534.5,1188.4 L533.0,1189.1 L531.5,1189.2 L530.0,1187.9 L528.5,1188.3 L527.0,1189.1 L525.5,1189.6 L524.0,1189.5 L522.5,1191.1 L521.0,1191.9 L519.5,1190.9 L518.0,1190.5 L516.5,1191.7 L515.0,1192.6 L513.5,1193.6 L512.0,1194.7 L510.5,1194.1 L509.0,1194.4 L507.5,1196.9 L506.0,1197.1 L504.5,1195.2 L503.0,1194.3 L501.5,1193.9 L500.0,1194.9 L498.5,1193.4 L497.0,1193.3 L495.5,1196.1 L494.0,1195.4 L492.5,1195.6 L491.0,1196.0 L489.5,1195.2 L488.0,1195.1 L486.5,1195.7 L485.0,1197.5 L483.5,1197.2 L482.0,1195.7 L480.5,1196.1 L479.0,1196.4 L477.5,1196.1 L476.0,1194.9 L474.5,1194.6 L473.0,1195.7 L471.5,1196.1 L470.0,1196.8 L468.5,1197.0 L467.0,1198.1 L465.5,1198.1 L464.0,1198.7 L462.5,1199.9 L461.0,1197.3 L459.5,1196.8 L458.0,1199.5 L456.5,1200.3 L455.0,1200.3 L453.5,1199.7 L452.0,1198.8 L450.5,1198.4 L449.0,1198.2 L447.5,1198.0 L446.0,1198.6 L444.5,1198.7 L443.0,1198.0 L441.5,1197.9 L440.0,1198.4 L438.5,1200.2 L437.0,1201.1 L435.5,1201.9 L434.0,1202.3 L432.5,1202.5 L431.0,1201.7 L429.5,1201.0 L428.0,1201.6 L426.5,1201.3 L425.0,1200.5 L423.5,1201.1 L422.0,1201.1 L420.5,1200.3 L419.0,1200.6 L417.5,1199.7 L416.0,1199.0 L414.5,1198.0 L413.0,1199.2 L411.5,1201.4 L410.0,1201.1 L408.5,1200.4 L407.0,1199.3 L405.5,1198.6 L404.0,1198.9 L402.5,1199.6 L401.0,1199.9 L399.5,1199.8 L398.0,1199.9 L396.5,1200.5 L395.0,1200.0 L393.5,1202.1 L392.0,1204.1 L390.5,1204.1 L389.0,1205.5 L387.5,1206.0 L386.0,1205.2 L384.5,1205.3 L383.0,1206.3 L381.5,1206.3 L380.0,1205.6 L378.5,1210.0 L377.0,1212.0 L375.5,1210.5 L374.0,1211.1 L372.5,1209.2 L371.0,1208.2 L369.5,1208.8 L368.0,1208.3 L366.5,1207.4 L365.0,1206.8 L363.5,1205.6 L362.0,1203.9 L360.5,1203.5 L359.0,1204.1 L357.5,1205.6 L356.0,1206.4 L354.5,1205.6 L353.0,1204.9 L351.5,1204.0 L350.0,1203.5 L348.5,1204.3 L347.0,1205.8 L345.5,1206.0 L344.0,1204.7 L342.5,1204.4 L341.0,1206.2 L339.5,1208.0 L338.0,1207.1 L336.5,1205.4 L335.0,1206.4 L333.5,1206.9 L332.0,1206.3 L330.5,1205.8 L329.0,1205.9 L327.5,1206.2 L326.0,1205.1 L324.5,1206.8 L323.0,1208.5 L321.5,1206.2 L320.0,1205.8 L318.5,1207.4 L317.0,1207.8 L315.5,1207.3 L314.0,1206.8 L312.5,1206.5 L311.0,1205.0 L309.5,1206.0 L308.0,1207.6 L306.5,1206.1 L305.0,1206.1 L303.5,1205.6 L302.0,1203.6 L300.5,1203.9 L299.0,1204.2 L297.5,1205.8 L296.0,1207.6 L294.5,1206.3 L293.0,1204.7 L291.5,1205.3 L290.0,1206.7 L288.5,1207.1 L287.0,1207.3 L285.5,1206.7 L284.0,1206.6 L282.5,1207.6 L281.0,1206.9 L279.5,1206.5 L278.0,1206.4 L276.5,1206.4 L275.0,1206.6 L273.5,1206.3 L272.0,1206.6 L270.5,1206.1 L269.0,1204.9 L267.5,1205.3 L266.0,1205.2 L264.5,1203.3 L263.0,1203.0 L261.5,1205.7 L260.0,1206.3 L258.5,1205.2 L257.0,1206.3 L255.5,1206.3 L254.0,1206.0 L252.5,1206.5 L251.0,1205.7 L249.5,1206.5 L248.0,1206.5 L246.5,1204.8 L245.0,1204.3 L243.5,1205.8 L242.0,1207.0 L240.5,1205.6 L239.0,1205.1 L237.5,1205.2 L236.0,1205.9 L234.5,1206.2 L233.0,1205.6 L231.5,1205.6 L230.0,1206.5 L228.5,1205.4 L227.0,1203.5 L225.5,1203.6 L224.0,1203.3 L222.5,1203.0 L221.0,1204.1 L219.5,1204.9 L218.0,1204.4 L216.5,1204.3 L215.0,1203.4 L213.5,1202.8 L212.0,1202.9 L210.5,1203.6 L209.0,1203.2 L207.5,1202.1 L206.0,1203.1 L204.5,1204.0 L203.0,1203.3 L201.5,1203.0 L200.0,1203.0 L198.5,1202.4 L197.0,1203.4 L195.5,1204.2 L194.0,1204.3 L192.5,1204.6 L191.0,1204.1 L189.5,1203.5 L188.0,1204.8 L186.5,1204.3 L185.0,1203.7 L183.5,1204.0 L182.0,1203.6 L180.5,1205.5 L179.0,1206.6 L177.5,1205.8 L176.0,1206.3 L174.5,1207.5 L173.0,1207.7 L171.5,1206.3 L170.0,1206.0 L168.5,1205.8 L167.0,1205.6 L165.5,1205.9 L164.0,1206.4 L162.5,1208.9 L161.0,1207.8 L159.5,1205.1 L158.0,1206.5 L156.5,1208.1 L155.0,1210.8 L153.5,1211.3 L152.0,1209.0 L150.5,1209.9 L149.0,1210.2 L147.5,1209.5 L146.0,1209.8 L144.5,1210.4 L143.0,1210.4 L141.5,1209.1 L140.0,1208.4 L138.5,1209.2 L137.0,1209.8 L135.5,1208.8 L134.0,1209.1 L132.5,1209.8 L131.0,1208.9 L129.5,1208.3 L128.0,1207.4 L126.5,1207.0 L125.0,1205.8 L123.5,1204.6 L122.0,1204.7 L120.5,1204.3 L119.0,1203.8 L117.5,1204.0Z" fill="rgba(174,248,174,0.70)" stroke="rgba(140,235,150,0.5)" stroke-width="0.9" stroke-linejoin="round"/>
<path d="M117.5,1199.0 L119.0,1197.3 L120.5,1197.4 L122.0,1196.5 L123.5,1193.5 L125.0,1191.1 L126.5,1191.3 L128.0,1191.0 L129.5,1188.6 L131.0,1185.8 L132.5,1184.4 L134.0,1183.5 L135.5,1183.0 L137.0,1182.5 L138.5,1180.9 L140.0,1180.3 L141.5,1179.1 L143.0,1177.7 L144.5,1178.4 L146.0,1177.8 L147.5,1176.4 L149.0,1174.6 L150.5,1173.4 L152.0,1172.3 L153.5,1171.0 L155.0,1169.8 L156.5,1169.9 L158.0,1168.8 L159.5,1166.7 L161.0,1167.3 L162.5,1167.0 L164.0,1166.2 L165.5,1166.0 L167.0,1164.2 L168.5,1163.5 L170.0,1162.5 L171.5,1162.0 L173.0,1163.8 L174.5,1164.0 L176.0,1163.1 L177.5,1164.5 L179.0,1164.8 L180.5,1162.2 L182.0,1162.4 L183.5,1161.7 L185.0,1161.3 L186.5,1162.1 L188.0,1160.5 L189.5,1158.7 L191.0,1157.7 L192.5,1159.0 L194.0,1157.5 L195.5,1154.2 L197.0,1153.8 L198.5,1153.2 L200.0,1153.7 L201.5,1153.3 L203.0,1151.4 L204.5,1150.9 L206.0,1150.4 L207.5,1149.0 L209.0,1147.8 L210.5,1147.1 L212.0,1146.4 L213.5,1145.4 L215.0,1144.7 L216.5,1145.0 L218.0,1143.5 L219.5,1142.1 L221.0,1142.6 L222.5,1141.5 L224.0,1140.0 L225.5,1139.8 L227.0,1138.5 L228.5,1137.2 L230.0,1136.8 L231.5,1135.5 L233.0,1134.2 L234.5,1133.6 L236.0,1133.4 L237.5,1131.2 L239.0,1129.9 L240.5,1129.1 L242.0,1126.9 L243.5,1126.4 L245.0,1126.1 L246.5,1123.8 L248.0,1123.8 L249.5,1123.8 L251.0,1122.4 L252.5,1122.2 L254.0,1121.4 L255.5,1120.4 L257.0,1119.4 L258.5,1118.6 L260.0,1117.4 L261.5,1117.2 L263.0,1116.6 L264.5,1115.2 L266.0,1113.9 L267.5,1112.4 L269.0,1111.9 L270.5,1110.5 L272.0,1110.4 L273.5,1110.2 L275.0,1108.2 L276.5,1107.2 L278.0,1106.6 L279.5,1106.3 L281.0,1105.8 L282.5,1104.1 L284.0,1102.1 L285.5,1101.6 L287.0,1101.4 L288.5,1100.2 L290.0,1100.3 L291.5,1099.4 L293.0,1097.2 L294.5,1097.7 L296.0,1097.2 L297.5,1095.7 L299.0,1094.6 L300.5,1093.1 L302.0,1092.3 L303.5,1091.2 L305.0,1091.3 L306.5,1091.7 L308.0,1091.6 L309.5,1090.5 L311.0,1088.3 L312.5,1088.4 L314.0,1087.8 L315.5,1087.2 L317.0,1086.6 L318.5,1084.2 L320.0,1083.7 L321.5,1084.1 L323.0,1083.7 L324.5,1082.3 L326.0,1080.7 L327.5,1079.8 L329.0,1077.7 L330.5,1075.4 L332.0,1074.1 L333.5,1072.4 L335.0,1071.6 L336.5,1071.8 L338.0,1070.4 L339.5,1068.3 L341.0,1066.6 L342.5,1066.2 L344.0,1066.4 L345.5,1063.4 L347.0,1062.9 L348.5,1064.3 L350.0,1061.9 L351.5,1060.1 L353.0,1059.8 L354.5,1059.2 L356.0,1058.1 L357.5,1057.4 L359.0,1057.2 L360.5,1058.1 L362.0,1057.8 L363.5,1056.1 L365.0,1057.0 L366.5,1057.6 L368.0,1057.3 L369.5,1057.6 L371.0,1055.7 L372.5,1052.9 L374.0,1050.3 L375.5,1047.6 L377.0,1045.1 L378.5,1045.8 L380.0,1046.0 L381.5,1044.2 L383.0,1043.6 L384.5,1044.7 L386.0,1044.8 L387.5,1044.1 L389.0,1043.3 L390.5,1041.8 L392.0,1042.9 L393.5,1042.5 L395.0,1041.5 L396.5,1042.1 L398.0,1040.4 L399.5,1038.6 L401.0,1037.8 L402.5,1036.7 L404.0,1035.8 L405.5,1035.0 L407.0,1034.1 L408.5,1033.4 L410.0,1032.9 L411.5,1031.6 L413.0,1029.8 L414.5,1027.6 L416.0,1026.3 L417.5,1025.8 L419.0,1023.7 L420.5,1021.1 L422.0,1020.5 L423.5,1017.5 L425.0,1014.6 L426.5,1014.3 L428.0,1013.5 L429.5,1014.3 L431.0,1013.6 L432.5,1012.0 L434.0,1011.8 L435.5,1011.2 L437.0,1010.7 L438.5,1010.7 L440.0,1010.8 L441.5,1010.0 L443.0,1009.3 L444.5,1010.3 L446.0,1010.2 L447.5,1009.7 L449.0,1007.9 L450.5,1006.4 L452.0,1006.3 L453.5,1004.6 L455.0,1001.4 L456.5,999.6 L458.0,998.6 L459.5,998.2 L461.0,996.8 L462.5,995.3 L464.0,994.9 L465.5,992.3 L467.0,990.1 L468.5,989.0 L470.0,987.9 L471.5,987.1 L473.0,985.3 L474.5,982.6 L476.0,980.6 L477.5,979.8 L479.0,978.4 L480.5,976.6 L482.0,975.3 L483.5,974.4 L485.0,973.0 L486.5,969.5 L488.0,966.4 L489.5,963.5 L491.0,960.6 L492.5,958.9 L494.0,956.6 L495.5,953.4 L497.0,951.5 L498.5,950.1 L500.0,949.2 L501.5,948.3 L503.0,948.6 L504.5,949.1 L506.0,948.7 L507.5,949.0 L509.0,948.2 L510.5,946.7 L512.0,942.5 L513.5,938.4 L515.0,934.8 L516.5,932.3 L518.0,930.5 L519.5,927.4 L521.0,925.7 L522.5,924.3 L524.0,921.9 L525.5,918.5 L527.0,916.9 L528.5,917.6 L530.0,916.6 L531.5,914.6 L533.0,913.8 L534.5,913.6 L536.0,913.1 L537.5,912.2 L539.0,913.2 L540.5,913.5 L542.0,914.1 L543.5,915.2 L545.0,914.8 L546.5,913.1 L548.0,910.2 L549.5,908.2 L551.0,908.5 L552.5,906.8 L554.0,904.1 L555.5,904.4 L557.0,902.5 L558.5,900.1 L560.0,900.2 L561.5,901.2 L563.0,901.3 L564.5,900.1 L566.0,898.0 L567.5,897.3 L569.0,897.0 L570.5,897.0 L572.0,896.9 L573.5,896.2 L575.0,895.8 L576.5,893.3 L578.0,891.5 L579.5,890.4 L581.0,888.6 L582.5,886.8 L584.0,885.6 L585.5,884.6 L587.0,884.0 L588.5,884.3 L590.0,884.2 L591.5,884.9 L593.0,885.9 L594.5,884.0 L596.0,883.5 L597.5,884.8 L599.0,883.8 L600.5,883.1 L602.0,882.9 L603.5,882.5 L605.0,879.3 L606.5,877.9 L608.0,876.9 L609.5,875.9 L611.0,876.4 L612.5,874.3 L614.0,872.8 L615.5,872.1 L617.0,872.3 L618.5,871.3 L620.0,869.4 L621.5,868.2 L623.0,867.7 L624.5,865.3 L626.0,862.6 L627.5,860.7 L629.0,859.4 L630.5,857.3 L632.0,855.1 L633.5,854.9 L635.0,853.5 L636.5,853.1 L638.0,853.6 L639.5,852.0 L641.0,850.1 L642.5,849.4 L644.0,849.0 L645.5,848.8 L647.0,848.1 L648.5,847.5 L650.0,847.0 L651.5,846.9 L653.0,847.4 L654.5,848.6 L656.0,849.1 L657.5,846.7 L659.0,845.9 L660.5,847.0 L662.0,845.0 L663.5,840.1 L665.0,836.4 L666.5,835.4 L668.0,832.9 L669.5,831.3 L671.0,831.4 L672.5,830.7 L674.0,830.9 L675.5,831.3 L677.0,830.4 L678.5,829.5 L680.0,829.6 L681.5,829.5 L683.0,827.9 L684.5,827.7 L686.0,827.0 L687.5,826.3 L689.0,828.3 L690.5,827.9 L692.0,825.6 L693.5,825.8 L695.0,826.2 L696.5,826.2 L698.0,825.8 L699.5,824.2 L701.0,823.3 L702.5,822.3 L704.0,822.5 L705.5,823.5 L707.0,823.0 L708.5,821.2 L710.0,818.8 L711.5,819.2 L713.0,819.2 L714.5,817.8 L716.0,817.3 L717.5,816.5 L719.0,815.3 L720.5,815.9 L722.0,816.6 L723.5,816.3 L725.0,815.7 L726.5,814.9 L728.0,814.7 L729.5,814.2 L731.0,813.7 L732.5,813.4 L734.0,811.7 L735.5,811.7 L737.0,813.9 L738.5,814.9 L740.0,814.4 L741.5,814.3 L743.0,815.2 L744.5,816.7 L746.0,818.3 L747.5,817.4 L749.0,816.5 L750.5,817.3 L752.0,818.1 L753.5,818.5 L755.0,816.0 L756.5,812.6 L758.0,811.2 L759.5,809.8 L761.0,809.4 L762.5,807.5 L764.0,805.9 L765.5,807.8 L767.0,811.1 L768.5,814.6 L770.0,818.1 L771.5,821.3 L773.0,825.0 L774.0,828.0" fill="none" stroke="#f23636" stroke-width="2.6" stroke-linejoin="round" stroke-linecap="butt"/>
<path d="M117.5,1197.5 L119.0,1198.1 L120.5,1195.9 L122.0,1194.7 L123.5,1194.5 L125.0,1192.9 L126.5,1191.0 L128.0,1190.3 L129.5,1189.2 L131.0,1187.9 L132.5,1187.8 L134.0,1186.8 L135.5,1185.0 L137.0,1185.0 L138.5,1184.8 L140.0,1185.7 L141.5,1186.4 L143.0,1188.1 L144.5,1189.0 L146.0,1187.1 L147.5,1186.6 L149.0,1187.2 L150.5,1188.7 L152.0,1189.2 L153.5,1189.9 L155.0,1191.2 L156.5,1191.8 L158.0,1192.3 L159.5,1192.6 L161.0,1191.9 L162.5,1190.8 L164.0,1189.9 L165.5,1189.9 L167.0,1190.7 L168.5,1190.5 L170.0,1189.2 L171.5,1189.2 L173.0,1188.9 L174.5,1187.6 L176.0,1187.5 L177.5,1187.5 L179.0,1187.8 L180.5,1187.3 L182.0,1186.4 L183.5,1187.1 L185.0,1187.9 L186.5,1187.6 L188.0,1187.5 L189.5,1187.0 L191.0,1187.2 L192.5,1186.8 L194.0,1185.6 L195.5,1186.0 L197.0,1186.0 L198.5,1185.0 L200.0,1184.7 L201.5,1184.1 L203.0,1184.3 L204.5,1184.7 L206.0,1184.4 L207.5,1185.1 L209.0,1185.2 L210.5,1184.4 L212.0,1183.7 L213.5,1183.1 L215.0,1183.3 L216.5,1181.8 L218.0,1180.2 L219.5,1180.3 L221.0,1180.3 L222.5,1180.1 L224.0,1178.5 L225.5,1178.1 L227.0,1176.6 L228.5,1174.6 L230.0,1172.7 L231.5,1172.7 L233.0,1173.1 L234.5,1175.0 L236.0,1175.7 L237.5,1175.4 L239.0,1178.0 L240.5,1179.0 L242.0,1178.1 L243.5,1178.1 L245.0,1177.8 L246.5,1178.4 L248.0,1179.8 L249.5,1179.5 L251.0,1179.0 L252.5,1180.6 L254.0,1180.1 L255.5,1179.0 L257.0,1179.8 L258.5,1178.3 L260.0,1176.5 L261.5,1175.9 L263.0,1174.2 L264.5,1174.7 L266.0,1175.8 L267.5,1174.8 L269.0,1174.4 L270.5,1174.0 L272.0,1172.8 L273.5,1172.5 L275.0,1172.6 L276.5,1172.2 L278.0,1172.9 L279.5,1172.7 L281.0,1171.6 L282.5,1172.4 L284.0,1173.4 L285.5,1174.4 L287.0,1174.6 L288.5,1173.2 L290.0,1172.8 L291.5,1173.4 L293.0,1172.9 L294.5,1172.1 L296.0,1172.8 L297.5,1171.2 L299.0,1168.8 L300.5,1169.0 L302.0,1169.5 L303.5,1169.9 L305.0,1168.8 L306.5,1168.4 L308.0,1168.8 L309.5,1167.4 L311.0,1167.1 L312.5,1168.0 L314.0,1168.8 L315.5,1168.6 L317.0,1169.5 L318.5,1170.7 L320.0,1172.4 L321.5,1174.6 L323.0,1175.7 L324.5,1174.3 L326.0,1172.3 L327.5,1171.5 L329.0,1172.4 L330.5,1172.5 L332.0,1170.0 L333.5,1169.2 L335.0,1170.0 L336.5,1170.5 L338.0,1170.0 L339.5,1168.6 L341.0,1168.0 L342.5,1167.4 L344.0,1166.4 L345.5,1167.4 L347.0,1168.4 L348.5,1167.3 L350.0,1165.1 L351.5,1163.9 L353.0,1163.9 L354.5,1164.5 L356.0,1163.6 L357.5,1161.2 L359.0,1160.1 L360.5,1159.6 L362.0,1158.9 L363.5,1158.2 L365.0,1158.5 L366.5,1157.3 L368.0,1154.1 L369.5,1153.9 L371.0,1153.6 L372.5,1151.7 L374.0,1151.5 L375.5,1151.7 L377.0,1151.8 L378.5,1151.6 L380.0,1151.0 L381.5,1150.5 L383.0,1149.8 L384.5,1148.9 L386.0,1149.8 L387.5,1151.1 L389.0,1151.5 L390.5,1152.1 L392.0,1154.6 L393.5,1156.2 L395.0,1156.4 L396.5,1156.4 L398.0,1156.1 L399.5,1156.4 L401.0,1156.2 L402.5,1155.1 L404.0,1154.6 L405.5,1154.0 L407.0,1151.5 L408.5,1148.4 L410.0,1145.1 L411.5,1142.3 L413.0,1139.2 L414.5,1137.5 L416.0,1135.3 L417.5,1130.2 L419.0,1130.8 L420.5,1131.7 L422.0,1131.5 L423.5,1132.3 L425.0,1133.3 L426.5,1133.6 L428.0,1133.6 L429.5,1134.0 L431.0,1135.6 L432.5,1136.2 L434.0,1135.1 L435.5,1135.0 L437.0,1136.1 L438.5,1137.2 L440.0,1137.9 L441.5,1138.9 L443.0,1137.9 L444.5,1135.4 L446.0,1133.3 L447.5,1130.6 L449.0,1128.2 L450.5,1127.1 L452.0,1128.0 L453.5,1128.5 L455.0,1129.4 L456.5,1129.9 L458.0,1131.5 L459.5,1133.3 L461.0,1132.8 L462.5,1133.0 L464.0,1133.0 L465.5,1133.2 L467.0,1133.1 L468.5,1133.4 L470.0,1134.5 L471.5,1134.7 L473.0,1134.7 L474.5,1133.0 L476.0,1131.1 L477.5,1130.4 L479.0,1129.1 L480.5,1128.4 L482.0,1131.0 L483.5,1133.3 L485.0,1134.8 L486.5,1132.6 L488.0,1130.9 L489.5,1129.6 L491.0,1129.3 L492.5,1128.4 L494.0,1125.5 L495.5,1124.4 L497.0,1124.0 L498.5,1123.4 L500.0,1124.0 L501.5,1126.6 L503.0,1127.5 L504.5,1127.4 L506.0,1128.3 L507.5,1126.5 L509.0,1122.5 L510.5,1120.4 L512.0,1119.5 L513.5,1118.8 L515.0,1116.6 L516.5,1113.5 L518.0,1113.6 L519.5,1115.6 L521.0,1116.1 L522.5,1116.8 L524.0,1118.7 L525.5,1120.1 L527.0,1119.9 L528.5,1118.9 L530.0,1118.0 L531.5,1116.5 L533.0,1115.1 L534.5,1115.2 L536.0,1114.6 L537.5,1113.2 L539.0,1111.9 L540.5,1110.3 L542.0,1108.9 L543.5,1106.9 L545.0,1106.1 L546.5,1106.4 L548.0,1105.1 L549.5,1103.6 L551.0,1101.7 L552.5,1100.2 L554.0,1098.7 L555.5,1097.5 L557.0,1097.0 L558.5,1095.7 L560.0,1095.3 L561.5,1093.7 L563.0,1091.7 L564.5,1090.8 L566.0,1089.0 L567.5,1087.7 L569.0,1086.5 L570.5,1084.0 L572.0,1081.5 L573.5,1078.6 L575.0,1075.3 L576.5,1071.8 L578.0,1068.0 L579.5,1065.6 L581.0,1064.3 L582.5,1060.6 L584.0,1061.2 L585.5,1064.0 L587.0,1066.9 L588.5,1069.8 L590.0,1073.1 L591.5,1069.2 L593.0,1065.2 L594.5,1061.6 L596.0,1059.3 L597.5,1058.4 L599.0,1058.4 L600.5,1057.7 L602.0,1056.3 L603.5,1054.5 L605.0,1051.9 L606.5,1049.3 L608.0,1047.1 L609.5,1046.0 L611.0,1044.7 L612.5,1043.6 L614.0,1041.3 L615.5,1038.9 L617.0,1037.4 L618.5,1034.2 L620.0,1031.8 L621.5,1031.2 L623.0,1029.9 L624.5,1027.6 L626.0,1027.5 L627.5,1027.3 L629.0,1026.4 L630.5,1026.5 L632.0,1025.7 L633.5,1025.2 L635.0,1024.5 L636.5,1023.1 L638.0,1023.2 L639.5,1022.3 L641.0,1019.8 L642.5,1016.4 L644.0,1013.6 L645.5,1011.2 L647.0,1008.6 L648.5,1006.9 L650.0,1004.8 L651.5,1003.9 L653.0,1001.8 L654.5,999.4 L656.0,998.1 L657.5,996.2 L659.0,996.3 L660.5,996.3 L662.0,994.1 L663.5,992.8 L665.0,992.5 L666.5,991.9 L668.0,989.5 L669.5,987.9 L671.0,989.5 L672.5,988.9 L674.0,984.4 L675.5,981.2 L677.0,975.6 L678.5,970.4 L680.0,965.6 L681.5,960.0 L683.0,955.7 L684.5,950.8 L686.0,944.4 L687.5,940.5 L689.0,937.5 L690.5,933.0 L692.0,930.0 L693.5,927.4 L695.0,923.1 L696.5,918.4 L698.0,914.1 L699.5,910.5 L701.0,909.9 L702.5,908.0 L704.0,905.1 L705.5,903.5 L707.0,903.2 L708.5,903.2 L710.0,903.8 L711.5,904.5 L713.0,903.3 L714.5,903.2 L716.0,903.8 L717.5,902.3 L719.0,899.4 L720.5,897.7 L722.0,896.1 L723.5,893.3 L725.0,891.1 L726.5,889.7 L728.0,889.1 L729.5,889.0 L731.0,887.0 L732.5,884.4 L734.0,884.8 L735.5,884.2 L737.0,883.6 L738.5,883.0 L740.0,879.7 L741.5,878.6 L743.0,878.6 L744.5,875.8 L746.0,873.8 L747.5,874.1 L749.0,872.1 L750.5,870.2 L752.0,869.8 L753.5,870.6 L755.0,871.6 L756.5,870.9 L758.0,869.9 L759.5,870.5 L761.0,871.8 L762.5,872.5 L764.0,869.1 L765.5,865.5 L767.0,863.4 L768.5,860.6 L770.0,856.4 L771.5,856.3 L773.0,856.4 L774.0,856.0" fill="none" stroke="#1f6fe6" stroke-width="2.6" stroke-linejoin="round"/>
<path d="M117.5,1202.5 L119.0,1202.2 L120.5,1200.7 L122.0,1199.6 L123.5,1198.8 L125.0,1197.7 L126.5,1197.0 L128.0,1196.4 L129.5,1195.5 L131.0,1194.7 L132.5,1194.7 L134.0,1194.6 L135.5,1193.1 L137.0,1192.7 L138.5,1192.9 L140.0,1192.6 L141.5,1194.1 L143.0,1195.7 L144.5,1196.5 L146.0,1197.5 L147.5,1198.7 L149.0,1199.4 L150.5,1200.2 L152.0,1201.7 L153.5,1203.0 L155.0,1202.9 L156.5,1202.8 L158.0,1202.9 L159.5,1202.8 L161.0,1202.7 L162.5,1202.6 L164.0,1202.4 L165.5,1202.4 L167.0,1203.3 L168.5,1203.4 L170.0,1202.7 L171.5,1201.8 L173.0,1201.8 L174.5,1201.4 L176.0,1200.7 L177.5,1200.8 L179.0,1199.5 L180.5,1198.5 L182.0,1198.6 L183.5,1198.3 L185.0,1197.9 L186.5,1198.3 L188.0,1198.4 L189.5,1198.1 L191.0,1197.5 L192.5,1197.3 L194.0,1198.0 L195.5,1198.0 L197.0,1198.5 L198.5,1198.3 L200.0,1197.2 L201.5,1198.3 L203.0,1199.1 L204.5,1198.5 L206.0,1199.1 L207.5,1199.6 L209.0,1199.3 L210.5,1199.1 L212.0,1198.9 L213.5,1198.2 L215.0,1197.6 L216.5,1198.2 L218.0,1198.0 L219.5,1197.1 L221.0,1197.2 L222.5,1196.9 L224.0,1196.4 L225.5,1196.1 L227.0,1195.2 L228.5,1195.1 L230.0,1195.3 L231.5,1194.7 L233.0,1195.3 L234.5,1195.9 L236.0,1195.9 L237.5,1195.5 L239.0,1194.7 L240.5,1194.5 L242.0,1194.6 L243.5,1195.2 L245.0,1195.9 L246.5,1195.6 L248.0,1194.8 L249.5,1195.3 L251.0,1195.5 L252.5,1195.0 L254.0,1194.7 L255.5,1194.7 L257.0,1195.2 L258.5,1195.2 L260.0,1194.8 L261.5,1195.5 L263.0,1195.5 L264.5,1195.6 L266.0,1195.5 L267.5,1195.1 L269.0,1196.2 L270.5,1196.7 L272.0,1196.1 L273.5,1195.7 L275.0,1195.6 L276.5,1196.3 L278.0,1196.9 L279.5,1197.0 L281.0,1197.2 L282.5,1198.1 L284.0,1198.7 L285.5,1197.4 L287.0,1197.1 L288.5,1197.2 L290.0,1197.2 L291.5,1197.5 L293.0,1197.5 L294.5,1197.5 L296.0,1196.8 L297.5,1197.1 L299.0,1197.1 L300.5,1196.6 L302.0,1197.0 L303.5,1197.3 L305.0,1197.2 L306.5,1197.1 L308.0,1197.5 L309.5,1198.2 L311.0,1197.8 L312.5,1197.1 L314.0,1197.4 L315.5,1197.1 L317.0,1196.8 L318.5,1197.0 L320.0,1196.6 L321.5,1195.3 L323.0,1195.2 L324.5,1196.1 L326.0,1196.2 L327.5,1196.1 L329.0,1196.2 L330.5,1195.9 L332.0,1195.2 L333.5,1194.6 L335.0,1194.3 L336.5,1194.9 L338.0,1195.0 L339.5,1194.4 L341.0,1195.0 L342.5,1194.8 L344.0,1194.5 L345.5,1194.6 L347.0,1194.0 L348.5,1194.1 L350.0,1194.4 L351.5,1194.4 L353.0,1194.5 L354.5,1194.3 L356.0,1194.6 L357.5,1194.6 L359.0,1193.3 L360.5,1192.6 L362.0,1191.4 L363.5,1190.3 L365.0,1188.7 L366.5,1187.4 L368.0,1186.1 L369.5,1184.0 L371.0,1184.4 L372.5,1184.3 L374.0,1185.0 L375.5,1185.8 L377.0,1184.9 L378.5,1186.0 L380.0,1186.9 L381.5,1186.2 L383.0,1186.9 L384.5,1188.3 L386.0,1189.0 L387.5,1189.1 L389.0,1188.6 L390.5,1188.5 L392.0,1189.1 L393.5,1189.4 L395.0,1189.1 L396.5,1189.4 L398.0,1189.1 L399.5,1189.1 L401.0,1189.2 L402.5,1188.5 L404.0,1188.8 L405.5,1189.2 L407.0,1189.7 L408.5,1188.9 L410.0,1188.2 L411.5,1188.3 L413.0,1188.4 L414.5,1188.2 L416.0,1187.7 L417.5,1188.2 L419.0,1188.7 L420.5,1188.0 L422.0,1187.9 L423.5,1187.6 L425.0,1186.6 L426.5,1185.9 L428.0,1186.4 L429.5,1186.8 L431.0,1186.4 L432.5,1186.0 L434.0,1185.8 L435.5,1186.1 L437.0,1186.5 L438.5,1186.7 L440.0,1186.0 L441.5,1186.2 L443.0,1186.6 L444.5,1186.4 L446.0,1186.0 L447.5,1185.8 L449.0,1185.3 L450.5,1185.3 L452.0,1185.5 L453.5,1185.2 L455.0,1185.1 L456.5,1184.9 L458.0,1185.1 L459.5,1184.6 L461.0,1184.4 L462.5,1184.8 L464.0,1184.4 L465.5,1184.1 L467.0,1184.5 L468.5,1183.8 L470.0,1183.1 L471.5,1182.8 L473.0,1181.6 L474.5,1181.4 L476.0,1181.1 L477.5,1180.4 L479.0,1181.2 L480.5,1180.6 L482.0,1179.2 L483.5,1178.9 L485.0,1179.1 L486.5,1179.4 L488.0,1178.9 L489.5,1178.4 L491.0,1178.7 L492.5,1178.8 L494.0,1178.8 L495.5,1178.5 L497.0,1178.5 L498.5,1178.8 L500.0,1178.2 L501.5,1177.5 L503.0,1177.3 L504.5,1177.7 L506.0,1178.1 L507.5,1178.1 L509.0,1177.3 L510.5,1176.6 L512.0,1176.6 L513.5,1176.1 L515.0,1175.8 L516.5,1175.7 L518.0,1174.4 L519.5,1173.5 L521.0,1173.6 L522.5,1173.2 L524.0,1172.3 L525.5,1171.1 L527.0,1170.5 L528.5,1170.3 L530.0,1168.9 L531.5,1169.1 L533.0,1169.7 L534.5,1169.3 L536.0,1170.2 L537.5,1170.2 L539.0,1168.9 L540.5,1169.3 L542.0,1169.6 L543.5,1169.5 L545.0,1169.3 L546.5,1169.6 L548.0,1169.4 L549.5,1168.2 L551.0,1167.7 L552.5,1167.6 L554.0,1167.4 L555.5,1167.5 L557.0,1166.8 L558.5,1165.4 L560.0,1164.7 L561.5,1164.0 L563.0,1163.8 L564.5,1163.1 L566.0,1162.7 L567.5,1162.2 L569.0,1160.9 L570.5,1161.0 L572.0,1161.2 L573.5,1161.7 L575.0,1162.7 L576.5,1163.6 L578.0,1164.4 L579.5,1163.6 L581.0,1164.0 L582.5,1165.0 L584.0,1165.0 L585.5,1165.3 L587.0,1166.1 L588.5,1166.1 L590.0,1165.2 L591.5,1165.4 L593.0,1165.8 L594.5,1165.2 L596.0,1164.5 L597.5,1164.5 L599.0,1164.3 L600.5,1163.9 L602.0,1163.1 L603.5,1162.7 L605.0,1162.4 L606.5,1161.9 L608.0,1161.7 L609.5,1161.6 L611.0,1161.2 L612.5,1160.8 L614.0,1161.0 L615.5,1161.0 L617.0,1160.0 L618.5,1158.6 L620.0,1159.0 L621.5,1158.8 L623.0,1157.8 L624.5,1157.1 L626.0,1156.3 L627.5,1155.7 L629.0,1154.4 L630.5,1153.3 L632.0,1152.5 L633.5,1151.6 L635.0,1151.0 L636.5,1150.6 L638.0,1149.9 L639.5,1149.2 L641.0,1147.7 L642.5,1146.7 L644.0,1146.2 L645.5,1145.6 L647.0,1145.2 L648.5,1143.8 L650.0,1141.7 L651.5,1142.0 L653.0,1142.9 L654.5,1142.8 L656.0,1143.2 L657.5,1143.7 L659.0,1144.0 L660.5,1143.7 L662.0,1143.2 L663.5,1143.2 L665.0,1142.7 L666.5,1142.7 L668.0,1142.2 L669.5,1141.4 L671.0,1141.5 L672.5,1140.7 L674.0,1141.2 L675.5,1141.9 L677.0,1141.4 L678.5,1142.6 L680.0,1144.4 L681.5,1144.4 L683.0,1144.0 L684.5,1143.9 L686.0,1143.7 L687.5,1143.6 L689.0,1141.8 L690.5,1140.1 L692.0,1139.9 L693.5,1138.9 L695.0,1137.2 L696.5,1136.4 L698.0,1135.2 L699.5,1134.4 L701.0,1135.0 L702.5,1134.2 L704.0,1133.4 L705.5,1133.5 L707.0,1134.4 L708.5,1134.3 L710.0,1133.1 L711.5,1132.8 L713.0,1133.4 L714.5,1134.1 L716.0,1132.5 L717.5,1131.1 L719.0,1131.1 L720.5,1130.9 L722.0,1130.3 L723.5,1129.5 L725.0,1128.3 L726.5,1128.1 L728.0,1127.9 L729.5,1128.2 L731.0,1128.2 L732.5,1127.0 L734.0,1126.7 L735.5,1126.1 L737.0,1125.6 L738.5,1125.1 L740.0,1124.6 L741.5,1125.3 L743.0,1125.4 L744.5,1124.4 L746.0,1124.7 L747.5,1125.5 L749.0,1125.8 L750.5,1126.2 L752.0,1126.0 L753.5,1125.5 L755.0,1124.2 L756.5,1123.0 L758.0,1122.1 L759.5,1121.2 L761.0,1120.5 L762.5,1119.0 L764.0,1118.7 L765.5,1118.8 L767.0,1119.7 L768.5,1119.8 L770.0,1119.3 L771.5,1119.6 L773.0,1119.4 L774.5,1119.8 L776.0,1120.1" fill="none" stroke="#2fa862" stroke-width="2.6" stroke-linejoin="round" stroke-linecap="butt"/>
<text transform="translate(106.3,1208.8) scale(1.000,1)" font-size="31.0" font-weight="bold" text-anchor="end">1.0</text>
<text transform="translate(106.3,1103.7) scale(1.000,1)" font-size="31.0" font-weight="bold" text-anchor="end">1.5</text>
<text transform="translate(106.3,998.6) scale(1.000,1)" font-size="31.0" font-weight="bold" text-anchor="end">2.0</text>
<text transform="translate(106.3,893.5) scale(1.000,1)" font-size="31.0" font-weight="bold" text-anchor="end">2.5</text>
<text transform="translate(106.3,788.4) scale(1.000,1)" font-size="31.0" font-weight="bold" text-anchor="end">3.0</text>
<text transform="translate(106.3,683.3) scale(1.000,1)" font-size="31.0" font-weight="bold" text-anchor="end">3.5</text>
<text transform="translate(116.5,1257.5) scale(1.000,1)" font-size="31.0" font-weight="bold" text-anchor="middle">0.0</text>
<text transform="translate(286.5,1257.5) scale(1.000,1)" font-size="31.0" font-weight="bold" text-anchor="middle">2.5</text>
<text transform="translate(456.5,1257.5) scale(1.000,1)" font-size="31.0" font-weight="bold" text-anchor="middle">5.0</text>
<text transform="translate(626.5,1257.5) scale(1.000,1)" font-size="31.0" font-weight="bold" text-anchor="middle">7.5</text>
<text transform="translate(796.5,1257.5) scale(1.000,1)" font-size="31.0" font-weight="bold" text-anchor="middle">10.0</text>
<text transform="translate(458.0,1297.0) scale(1.055,1)" font-size="31.6" font-weight="bold" text-anchor="middle">Time / min</text>
<text transform="translate(27.6,933.7) rotate(-90) scale(1,1.02)" font-size="33.4" font-weight="bold" text-anchor="middle">Enhancement factor</text>
<text transform="translate(11.5,693.7) scale(1.000,1)" font-size="33.0" font-weight="normal" text-anchor="start">(b)</text>
<rect x="135.5" y="696.3" width="219.5" height="156.2" fill="#fff" stroke="#5a5a5a" stroke-width="1.3"/>
<path d="M139.5,716.3H203.8" stroke="#4f4f4f" stroke-width="2.4"/>
<text transform="translate(212.5,726.0) scale(0.950,1)" font-size="29.5" font-weight="bold" text-anchor="start">375 mg/ml</text>
<path d="M139.5,754.6H203.8" stroke="#f23636" stroke-width="2.4"/>
<text transform="translate(212.5,764.3) scale(0.950,1)" font-size="29.5" font-weight="bold" text-anchor="start">300 mg/ml</text>
<path d="M139.5,792.9H203.8" stroke="#1f6fe6" stroke-width="2.4"/>
<text transform="translate(212.5,802.6) scale(0.950,1)" font-size="29.5" font-weight="bold" text-anchor="start">200 mg/ml</text>
<path d="M139.5,831.2H203.8" stroke="#2fa862" stroke-width="2.4"/>
<text transform="translate(212.5,840.9) scale(0.950,1)" font-size="29.5" font-weight="bold" text-anchor="start">100 mg/ml</text>
</g>
<g id="panelC">
<clipPath id="cc"><rect x="123.2" y="1339.3" width="680.1" height="545.9"/></clipPath>
<rect x="123.2" y="1339.3" width="680.1" height="545.9" fill="none" stroke="#000" stroke-width="3.9"/>
<path d="M349.0,1885.2V1874.7M349.0,1339.3V1349.8M576.6,1885.2V1874.7M576.6,1339.3V1349.8M123.2,1861.0H133.7M803.3,1861.0H792.8M123.2,1742.3H133.7M803.3,1742.3H792.8M123.2,1623.6H133.7M803.3,1623.6H792.8M123.2,1504.9H133.7M803.3,1504.9H792.8M123.2,1386.2H133.7M803.3,1386.2H792.8" stroke="#000" stroke-width="3.6" fill="none"/>
<path d="M135.2,1742.5H803.3" stroke="#0000ff" stroke-width="4.2" stroke-dasharray="4.2 4.4" fill="none"/>
<path d="M666.2,1335.8V1885.2" stroke="#0a0a0a" stroke-width="3.9" stroke-dasharray="19.7 21" fill="none" clip-path="url(#cc)"/>
<path d="M122.5,1857.5 L124.0,1857.8 L125.5,1857.3 L127.0,1856.6 L128.5,1855.7 L130.0,1855.5 L131.5,1856.3 L133.0,1857.8 L134.5,1858.8 L136.0,1859.9 L137.5,1860.6 L139.0,1859.8 L140.5,1858.9 L142.0,1858.8 L143.5,1858.0 L145.0,1857.8 L146.5,1857.8 L148.0,1858.8 L149.5,1859.9 L151.0,1860.4 L152.5,1861.0 L154.0,1860.5 L155.5,1860.0 L157.0,1859.3 L158.5,1858.6 L160.0,1858.4 L161.5,1858.6 L163.0,1858.7 L164.5,1859.3 L166.0,1859.6 L167.5,1860.3 L169.0,1858.2 L170.5,1856.0 L172.0,1853.4 L173.5,1850.3 L175.0,1847.5 L176.5,1844.3 L178.0,1842.2 L179.5,1840.4 L181.0,1838.1 L182.5,1835.2 L184.0,1833.7 L185.5,1833.1 L187.0,1832.3 L188.5,1832.8 L190.0,1834.1 L191.5,1835.9 L193.0,1837.4 L194.5,1838.3 L196.0,1838.9 L197.5,1840.2 L199.0,1837.5 L200.5,1836.0 L202.0,1834.1 L203.5,1833.2 L205.0,1831.2 L206.5,1829.6 L208.0,1828.7 L209.5,1830.0 L211.0,1830.6 L212.5,1831.9 L214.0,1832.9 L215.5,1832.9 L217.0,1831.3 L218.5,1829.3 L220.0,1827.9 L221.5,1829.2 L223.0,1830.4 L224.5,1831.2 L226.0,1832.2 L227.5,1833.6 L229.0,1833.5 L230.5,1833.1 L232.0,1832.4 L233.5,1832.2 L235.0,1831.8 L236.5,1832.1 L238.0,1832.5 L239.5,1832.4 L241.0,1832.1 L242.5,1831.7 L244.0,1830.4 L245.5,1828.9 L247.0,1827.2 L248.5,1825.4 L250.0,1823.5 L251.5,1821.7 L253.0,1820.4 L254.5,1820.9 L256.0,1821.1 L257.5,1821.1 L259.0,1821.5 L260.5,1821.7 L262.0,1821.1 L263.5,1819.3 L265.0,1817.1 L266.5,1817.9 L268.0,1819.6 L269.5,1820.9 L271.0,1820.6 L272.5,1819.0 L274.0,1817.9 L275.5,1818.0 L277.0,1819.0 L278.5,1820.9 L280.0,1821.4 L281.5,1822.0 L283.0,1822.2 L284.5,1822.8 L286.0,1823.9 L287.5,1824.9 L289.0,1825.8 L290.5,1824.8 L292.0,1817.3 L293.5,1810.3 L295.0,1803.0 L296.5,1804.5 L298.0,1805.5 L299.5,1806.1 L301.0,1806.8 L302.5,1807.6 L304.0,1808.4 L305.5,1809.3 L307.0,1809.8 L308.5,1809.1 L310.0,1807.2 L311.5,1806.1 L313.0,1804.4 L314.5,1803.4 L316.0,1800.6 L317.5,1797.2 L319.0,1793.0 L320.5,1790.9 L322.0,1791.1 L323.5,1792.5 L325.0,1793.5 L326.5,1795.1 L328.0,1795.4 L329.5,1794.0 L331.0,1793.1 L332.5,1791.9 L334.0,1793.9 L335.5,1795.6 L337.0,1797.7 L338.5,1795.6 L340.0,1792.1 L341.5,1788.7 L343.0,1786.9 L344.5,1787.6 L346.0,1788.2 L347.5,1789.0 L349.0,1789.6 L350.0,1790.2 L351.2,1787.6 L352.5,1784.9 L353.8,1782.0 L355.0,1779.5 L356.2,1777.2 L357.5,1775.1 L358.8,1765.8 L360.0,1756.8 L361.2,1747.4 L362.5,1737.9 L363.8,1738.1 L365.0,1738.4 L366.2,1738.9 L367.5,1739.9 L368.8,1740.1 L370.0,1740.3 L371.2,1740.5 L372.5,1741.2 L373.8,1741.7 L375.0,1742.3 L376.2,1743.8 L377.5,1745.2 L378.8,1745.9 L380.0,1747.2 L381.2,1748.9 L382.5,1750.7 L383.8,1752.3 L385.0,1754.2 L386.2,1756.3 L387.5,1758.5 L388.8,1760.4 L390.0,1762.1 L391.2,1763.9 L392.5,1765.6 L393.8,1760.3 L395.0,1755.5 L396.2,1750.6 L397.5,1745.7 L398.8,1745.9 L400.0,1746.4 L401.2,1746.4 L402.5,1747.4 L403.8,1748.1 L405.0,1748.9 L406.2,1749.4 L407.5,1749.7 L408.8,1751.0 L410.0,1752.2 L411.2,1753.3 L412.5,1753.8 L413.8,1753.9 L415.0,1754.8 L416.2,1754.7 L417.5,1754.9 L418.8,1754.1 L420.0,1754.4 L421.2,1754.0 L422.5,1754.4 L423.8,1752.9 L425.0,1751.7 L426.2,1749.7 L427.5,1747.4 L428.8,1745.9 L430.0,1744.8 L431.2,1746.2 L432.5,1747.4 L433.8,1748.7 L435.0,1750.3 L436.2,1749.0 L437.5,1748.1 L438.8,1747.1 L440.0,1746.6 L441.2,1746.2 L442.5,1744.9 L443.8,1741.7 L445.0,1738.2 L446.2,1735.8 L447.5,1732.9 L448.8,1730.3 L450.0,1727.6 L451.2,1726.3 L452.5,1725.0 L453.8,1723.0 L455.0,1720.8 L456.2,1720.2 L457.5,1720.0 L458.8,1720.1 L460.0,1719.8 L461.2,1718.3 L462.5,1716.7 L463.8,1714.6 L465.0,1711.9 L466.2,1709.1 L467.5,1706.6 L468.8,1703.7 L470.0,1700.5 L471.2,1697.4 L472.5,1695.1 L473.8,1692.5 L475.0,1690.2 L476.2,1691.4 L477.5,1692.3 L478.8,1693.3 L480.0,1695.5 L481.2,1697.4 L482.5,1698.8 L483.8,1700.2 L485.0,1702.3 L486.2,1684.2 L487.5,1665.2 L488.8,1662.8 L490.0,1659.4 L491.2,1656.6 L492.5,1652.1 L493.8,1652.8 L495.0,1653.8 L496.2,1654.9 L497.5,1656.0 L498.8,1654.8 L500.0,1654.4 L501.2,1653.9 L502.5,1657.1 L503.8,1659.3 L505.0,1654.8 L506.2,1648.1 L507.5,1642.4 L508.8,1636.0 L510.0,1629.5 L511.2,1621.3 L512.5,1613.2 L513.8,1605.2 L515.0,1597.0 L516.2,1588.5 L517.5,1580.4 L518.8,1578.9 L520.0,1577.2 L521.2,1575.7 L522.5,1573.9 L523.8,1576.4 L525.0,1578.2 L526.2,1580.8 L527.5,1582.9 L528.8,1581.4 L530.0,1579.8 L531.2,1579.0 L532.5,1582.1 L533.8,1584.9 L535.0,1587.6 L536.2,1581.0 L537.5,1573.9 L538.8,1572.6 L540.0,1571.8 L541.2,1571.4 L542.5,1570.3 L543.8,1566.7 L545.0,1563.2 L546.2,1559.3 L547.5,1555.7 L548.8,1553.4 L550.0,1551.7 L551.2,1550.3 L552.5,1548.4 L553.8,1546.1 L555.0,1548.7 L556.2,1553.9 L557.5,1558.7 L558.8,1563.1 L560.0,1567.5 L561.2,1566.4 L562.5,1565.6 L563.8,1564.0 L565.0,1562.4 L566.2,1560.3 L567.5,1553.5 L568.8,1547.2 L570.0,1540.6 L571.2,1532.1 L572.5,1522.6 L573.8,1513.2 L575.0,1503.8 L576.2,1495.4 L577.5,1486.6 L578.8,1477.8 L580.0,1471.8 L581.2,1465.5 L582.5,1459.7 L583.8,1453.7 L585.0,1447.5 L586.2,1441.7 L587.5,1435.7 L588.8,1431.4 L590.0,1427.0 L591.2,1422.5 L592.5,1418.1 L593.8,1413.8 L595.0,1410.2 L596.2,1406.9 L597.5,1403.1 L598.8,1399.4 L600.0,1396.2 L601.2,1392.5 L602.5,1389.6 L603.8,1385.8 L605.0,1382.7 L606.2,1378.6 L607.5,1375.5 L608.8,1372.0 L610.0,1371.6 L611.2,1370.5 L612.5,1370.4 L613.8,1370.1 L615.0,1369.4 L616.2,1368.0 L617.5,1366.5 L618.8,1365.3 L620.0,1363.6 L621.2,1362.1 L622.5,1360.1 L623.8,1359.3 L625.0,1357.9 L626.2,1359.9 L627.5,1361.8 L628.8,1363.4 L630.0,1362.4 L631.2,1361.8 L632.5,1361.9 L633.8,1361.7 L635.0,1360.9 L636.2,1359.8 L637.5,1358.8 L638.8,1358.6 L640.0,1357.7 L641.2,1359.4 L642.5,1360.1 L643.8,1361.1 L645.0,1362.2 L646.2,1361.7 L647.5,1362.0 L648.8,1361.7 L650.0,1362.4 L651.2,1361.9 L652.5,1360.9 L653.8,1361.9 L655.0,1363.7 L656.2,1365.7 L657.5,1366.9 L658.8,1368.4 L660.0,1370.1 L661.2,1368.1 L662.5,1366.2 L663.8,1363.9 L665.0,1361.9 L666.2,1360.1 L667.5,1362.2 L668.8,1364.8 L670.0,1367.9 L671.2,1367.8 L672.5,1366.9 L673.8,1365.9 L675.0,1364.7 L676.2,1365.6 L677.5,1366.6 L678.8,1368.2 L680.0,1369.9 L681.2,1371.2 L682.5,1372.2 L683.8,1372.7 L685.0,1373.6 L686.2,1373.4 L687.5,1373.5 L688.8,1373.5 L690.0,1372.7 L691.2,1372.9 L692.5,1372.5 L693.8,1373.9 L695.0,1374.8 L696.2,1375.0 L697.5,1376.3 L698.8,1378.1 L700.0,1380.3 L701.2,1381.8 L702.5,1381.8 L703.8,1382.6 L705.0,1383.0 L706.2,1385.0 L707.5,1385.9 L708.8,1387.6 L710.0,1388.0 L711.2,1389.4 L712.5,1389.6 L713.8,1390.3 L715.0,1390.8 L716.2,1391.3 L717.5,1391.5 L718.8,1392.6 L720.0,1393.8 L721.2,1395.1 L722.5,1395.2 L723.8,1394.6 L725.0,1393.8 L726.2,1393.2 L727.5,1392.1 L728.8,1390.6 L730.0,1389.7 L731.2,1390.3 L732.5,1390.6 L733.8,1390.0 L735.0,1389.8 L736.2,1390.1 L737.5,1390.2 L738.8,1389.8 L740.0,1389.4 L741.2,1389.0 L742.5,1388.9 L743.8,1390.2 L745.0,1391.9 L746.2,1393.2 L747.5,1393.7 L748.8,1393.6 L750.0,1393.9 L751.2,1395.0 L752.5,1394.7 L753.8,1394.5 L755.0,1394.1 L756.2,1394.8 L757.5,1394.5 L758.8,1395.2 L760.0,1395.8 L761.2,1396.3 L762.5,1396.1 L763.8,1395.4 L765.0,1394.9 L766.2,1394.9 L767.5,1395.0 L768.8,1395.0 L770.0,1394.2 L771.2,1393.5 L772.5,1393.6 L773.8,1393.7 L775.0,1393.7 L776.2,1393.1 L777.5,1392.1 L778.8,1391.5 L780.0,1390.8 L781.2,1391.1 L782.5,1390.9 L783.8,1392.0 L785.0,1392.5 L786.2,1393.4 L787.5,1393.7 L788.8,1395.3 L790.0,1396.1 L791.2,1396.8 L792.5,1396.4 L793.8,1396.1 L795.0,1396.4 L796.2,1396.3 L797.5,1396.5 L798.8,1396.4 L800.0,1396.1 L801.2,1396.3 L802.5,1396.5" fill="none" stroke="#4f4f4f" stroke-width="3.8" stroke-linejoin="round" clip-path="url(#cc)"/>
<path d="M122.5,1857.2 L124.0,1856.8 L125.5,1856.4 L127.0,1856.5 L128.5,1856.7 L130.0,1856.4 L131.5,1857.0 L133.0,1857.2 L134.5,1858.7 L136.0,1859.7 L137.5,1860.8 L139.0,1860.5 L140.5,1860.0 L142.0,1859.5 L143.5,1859.2 L145.0,1858.5 L146.5,1859.3 L148.0,1860.2 L149.5,1860.8 L151.0,1860.8 L152.5,1861.0 L154.0,1860.1 L155.5,1859.9 L157.0,1858.8 L158.5,1858.9 L160.0,1858.3 L161.5,1858.9 L163.0,1859.7 L164.5,1860.1 L166.0,1860.4 L167.5,1860.6 L169.0,1858.8 L170.5,1856.9 L172.0,1854.2 L173.5,1851.6 L175.0,1849.0 L176.5,1846.3 L178.0,1843.5 L179.5,1840.3 L181.0,1837.8 L182.5,1835.7 L184.0,1835.5 L185.5,1835.2 L187.0,1834.7 L188.5,1835.4 L190.0,1836.1 L191.5,1837.0 L193.0,1837.9 L194.5,1839.1 L196.0,1839.8 L197.5,1840.9 L199.0,1839.4 L200.5,1837.8 L202.0,1836.4 L203.5,1834.5 L205.0,1832.9 L206.5,1831.2 L208.0,1829.7 L209.5,1830.5 L211.0,1831.5 L212.5,1833.6 L214.0,1834.9 L215.5,1835.6 L217.0,1833.8 L218.5,1831.8 L220.0,1828.9 L221.5,1829.6 L223.0,1830.7 L224.5,1832.3 L226.0,1833.7 L227.5,1834.6 L229.0,1834.5 L230.5,1834.1 L232.0,1834.1 L233.5,1833.3 L235.0,1833.3 L236.5,1833.3 L238.0,1833.0 L239.5,1832.9 L241.0,1833.0 L242.5,1833.2 L244.0,1831.5 L245.5,1829.6 L247.0,1828.3 L248.5,1825.9 L250.0,1823.9 L251.5,1822.0 L253.0,1821.5 L254.5,1821.9 L256.0,1821.5 L257.5,1821.9 L259.0,1822.5 L260.5,1823.6 L262.0,1821.7 L263.5,1820.4 L265.0,1818.0 L266.5,1819.6 L268.0,1820.5 L269.5,1822.2 L271.0,1821.9 L272.5,1821.1 L274.0,1820.6 L275.5,1820.7 L277.0,1821.7 L278.5,1822.0 L280.0,1822.4 L281.5,1823.7 L283.0,1824.9 L284.5,1825.7 L286.0,1826.0 L287.5,1827.2 L289.0,1828.2 L290.5,1826.4 L292.0,1819.7 L293.5,1813.0 L295.0,1806.0 L296.5,1805.9 L298.0,1806.6 L299.5,1807.4 L301.0,1808.6 L302.5,1810.0 L304.0,1811.7 L305.5,1813.3 L307.0,1813.9 L308.5,1812.7 L310.0,1810.3 L311.5,1808.2 L313.0,1806.6 L314.5,1805.5 L316.0,1803.2 L317.5,1800.0 L319.0,1796.6 L320.5,1794.4 L322.0,1795.2 L323.5,1796.4 L325.0,1796.9 L326.5,1798.3 L328.0,1798.5 L329.5,1797.8 L331.0,1796.7 L332.5,1796.4 L334.0,1798.0 L335.5,1799.6 L337.0,1800.5 L338.5,1799.5 L340.0,1796.4 L341.5,1793.2 L343.0,1791.1 L344.5,1791.8 L346.0,1792.7 L347.5,1793.0 L349.0,1793.1 L350.0,1793.5 L351.2,1790.7 L352.5,1788.3 L353.8,1785.9 L355.0,1784.2 L356.2,1782.2 L357.5,1779.2 L358.8,1771.2 L360.0,1762.4 L361.2,1755.0 L362.5,1746.9 L363.8,1747.0 L365.0,1747.5 L366.2,1748.3 L367.5,1748.4 L368.8,1748.8 L370.0,1749.3 L371.2,1749.8 L372.5,1750.2 L373.8,1750.5 L375.0,1750.7 L376.2,1751.9 L377.5,1752.7 L378.8,1754.8 L380.0,1756.4 L381.2,1758.0 L382.5,1759.4 L383.8,1760.5 L385.0,1761.7 L386.2,1762.6 L387.5,1764.2 L388.8,1765.7 L390.0,1767.1 L391.2,1768.2 L392.5,1769.4 L393.8,1765.9 L395.0,1761.6 L396.2,1758.0 L397.5,1753.8 L398.8,1753.9 L400.0,1754.4 L401.2,1754.8 L402.5,1756.0 L403.8,1756.1 L405.0,1756.3 L406.2,1756.5 L407.5,1756.7 L408.8,1757.9 L410.0,1758.5 L411.2,1758.5 L412.5,1758.9 L413.8,1759.5 L415.0,1760.8 L416.2,1760.5 L417.5,1760.2 L418.8,1759.7 L420.0,1759.7 L421.2,1759.6 L422.5,1759.8 L423.8,1758.3 L425.0,1757.0 L426.2,1756.2 L427.5,1755.2 L428.8,1753.7 L430.0,1752.0 L431.2,1752.2 L432.5,1753.1 L433.8,1753.8 L435.0,1754.3 L436.2,1754.3 L437.5,1754.4 L438.8,1754.2 L440.0,1753.8 L441.2,1752.8 L442.5,1752.3 L443.8,1750.1 L445.0,1747.5 L446.2,1744.9 L447.5,1742.0 L448.8,1739.9 L450.0,1737.7 L451.2,1735.9 L452.5,1734.3 L453.8,1733.0 L455.0,1732.0 L456.2,1731.4 L457.5,1731.0 L458.8,1730.2 L460.0,1729.4 L461.2,1727.8 L462.5,1725.8 L463.8,1724.6 L465.0,1723.0 L466.2,1720.7 L467.5,1718.5 L468.8,1715.4 L470.0,1713.0 L471.2,1709.7 L472.5,1707.7 L473.8,1705.2 L475.0,1703.7 L476.2,1704.3 L477.5,1705.5 L478.8,1706.7 L480.0,1708.6 L481.2,1710.1 L482.5,1711.0 L483.8,1712.2 L485.0,1713.2 L486.2,1697.0 L487.5,1679.9 L488.8,1677.7 L490.0,1674.8 L491.2,1672.3 L492.5,1669.1 L493.8,1667.4 L495.0,1664.8 L496.2,1664.0 L497.5,1663.3 L498.8,1662.7 L500.0,1662.3 L501.2,1663.5 L502.5,1665.0 L503.8,1666.2 L505.0,1662.0 L506.2,1656.5 L507.5,1651.0 L508.8,1645.5 L510.0,1639.7 L511.2,1634.6 L512.5,1629.4 L513.8,1624.6 L515.0,1619.1 L516.2,1614.2 L517.5,1609.2 L518.8,1608.7 L520.0,1607.8 L521.2,1605.8 L522.5,1603.8 L523.8,1602.8 L525.0,1602.2 L526.2,1601.7 L527.5,1601.3 L528.8,1601.2 L530.0,1600.4 L531.2,1600.1 L532.5,1599.4 L533.8,1597.4 L535.0,1594.2 L536.2,1591.9 L537.5,1589.7 L538.8,1588.4 L540.0,1586.6 L541.2,1584.4 L542.5,1581.8 L543.8,1579.0 L545.0,1577.2 L546.2,1575.4 L547.5,1573.9 L548.8,1572.0 L550.0,1570.8 L551.2,1569.8 L552.5,1567.8 L553.8,1569.3 L555.0,1571.0 L556.2,1572.2 L557.5,1573.1 L558.8,1573.4 L560.0,1574.7 L561.2,1572.8 L562.5,1571.3 L563.8,1569.7 L565.0,1568.0 L566.2,1565.3 L567.5,1558.1 L568.8,1551.6 L570.0,1544.7 L571.2,1542.8 L572.5,1540.3 L573.8,1533.4 L575.0,1526.5 L576.2,1519.5 L577.5,1513.5 L578.8,1507.3 L580.0,1501.8 L581.2,1495.5 L582.5,1488.9 L583.8,1481.9 L585.0,1475.2 L586.2,1469.5 L587.5,1464.6 L588.8,1459.8 L590.0,1455.3 L591.2,1450.2 L592.5,1445.2 L593.8,1440.3 L595.0,1435.5 L596.2,1430.3 L597.5,1425.6 L598.8,1422.7 L600.0,1420.1 L601.2,1417.0 L602.5,1414.3 L603.8,1411.2 L605.0,1408.7 L606.2,1406.3 L607.5,1404.8 L608.8,1402.4 L610.0,1399.9 L611.2,1398.3 L612.5,1397.3 L613.8,1395.6 L615.0,1394.3 L616.2,1393.6 L617.5,1393.3 L618.8,1392.0 L620.0,1390.1 L621.2,1388.9 L622.5,1387.8 L623.8,1387.7 L625.0,1387.2 L626.2,1386.7 L627.5,1386.3 L628.8,1385.7 L630.0,1385.7 L631.2,1385.5 L632.5,1385.4 L633.8,1385.3 L635.0,1385.1 L636.2,1384.9 L637.5,1384.4 L638.8,1383.8 L640.0,1383.5 L641.2,1383.4 L642.5,1383.7 L643.8,1382.8 L645.0,1382.6 L646.2,1381.9 L647.5,1382.0 L648.8,1381.3 L650.0,1381.7 L651.2,1381.8 L652.5,1381.9 L653.8,1382.0 L655.0,1382.0 L656.2,1382.6 L657.5,1383.2 L658.8,1384.4 L660.0,1384.7 L661.2,1384.5 L662.5,1385.0 L663.8,1385.7 L665.0,1385.9 L666.2,1385.6 L667.5,1386.1 L668.8,1386.1 L670.0,1385.8 L671.2,1383.7 L672.5,1382.7 L673.8,1382.1 L675.0,1381.1 L676.2,1380.1 L677.5,1379.3 L678.8,1380.5 L680.0,1380.7 L681.2,1381.1 L682.5,1381.6 L683.8,1383.4 L685.0,1384.4 L686.2,1385.2 L687.5,1385.8 L688.8,1386.1 L690.0,1387.0 L691.2,1387.6 L692.5,1388.4 L693.8,1388.9 L695.0,1388.9 L696.2,1389.5 L697.5,1390.7 L698.8,1391.9 L700.0,1393.1 L701.2,1393.0 L702.5,1393.9 L703.8,1393.4 L705.0,1393.6 L706.2,1392.5 L707.5,1393.5 L708.8,1394.2 L710.0,1395.8 L711.2,1396.0 L712.5,1396.3 L713.8,1395.2 L715.0,1395.1 L716.2,1395.7 L717.5,1397.0 L718.8,1398.4 L720.0,1398.5 L721.2,1399.4 L722.5,1399.7 L723.8,1399.8 L725.0,1400.1 L726.2,1400.7 L727.5,1401.5 L728.8,1401.8 L730.0,1401.9 L731.2,1402.0 L732.5,1402.2 L733.8,1402.8 L735.0,1402.9 L736.2,1402.9 L737.5,1402.4 L738.8,1402.8 L740.0,1402.7 L741.2,1402.8 L742.5,1403.0 L743.8,1403.1 L745.0,1403.4 L746.2,1402.9 L747.5,1403.4 L748.8,1403.3 L750.0,1403.8 L751.2,1404.0 L752.5,1404.5 L753.8,1405.1 L755.0,1405.0 L756.2,1405.0 L757.5,1404.7 L758.8,1404.8 L760.0,1405.0 L761.2,1405.5 L762.5,1405.4 L763.8,1405.3 L765.0,1405.0 L766.2,1405.6 L767.5,1405.5 L768.8,1406.0 L770.0,1405.6 L771.2,1405.5 L772.5,1405.4 L773.8,1405.1 L775.0,1405.4 L776.2,1405.4 L777.5,1405.6 L778.8,1405.6 L780.0,1405.6 L781.2,1405.9 L782.5,1405.6 L783.8,1406.5 L785.0,1407.1 L786.2,1408.0 L787.5,1408.7 L788.8,1409.7 L790.0,1411.0 L791.2,1410.8 L792.5,1410.4 L793.8,1410.5 L795.0,1410.4 L796.2,1409.6 L797.5,1408.2 L798.8,1407.2 L800.0,1407.8 L801.2,1407.6 L802.5,1407.6" fill="none" stroke="#f23636" stroke-width="3.8" stroke-linejoin="round" clip-path="url(#cc)"/>
<path d="M122.5,1857.8 L124.0,1857.1 L125.5,1857.3 L127.0,1857.1 L128.5,1857.0 L130.0,1856.3 L131.5,1857.1 L133.0,1858.2 L134.5,1859.8 L136.0,1860.8 L137.5,1861.7 L139.0,1860.4 L140.5,1860.5 L142.0,1859.6 L143.5,1859.7 L145.0,1858.9 L146.5,1859.4 L148.0,1859.4 L149.5,1859.6 L151.0,1860.5 L152.5,1860.8 L154.0,1860.5 L155.5,1859.1 L157.0,1859.1 L158.5,1858.6 L160.0,1858.9 L161.5,1859.3 L163.0,1859.7 L164.5,1860.4 L166.0,1861.0 L167.5,1861.9 L169.0,1859.4 L170.5,1856.8 L172.0,1854.4 L173.5,1852.6 L175.0,1850.4 L176.5,1847.6 L178.0,1844.7 L179.5,1842.6 L181.0,1840.0 L182.5,1836.9 L184.0,1836.1 L185.5,1835.7 L187.0,1835.7 L188.5,1836.3 L190.0,1837.2 L191.5,1837.8 L193.0,1838.8 L194.5,1839.8 L196.0,1841.0 L197.5,1842.3 L199.0,1840.7 L200.5,1838.5 L202.0,1836.6 L203.5,1834.9 L205.0,1833.9 L206.5,1831.9 L208.0,1831.2 L209.5,1832.5 L211.0,1833.9 L212.5,1835.1 L214.0,1835.7 L215.5,1836.0 L217.0,1834.7 L218.5,1833.1 L220.0,1831.0 L221.5,1831.5 L223.0,1833.1 L224.5,1833.8 L226.0,1835.1 L227.5,1835.8 L229.0,1836.0 L230.5,1835.6 L232.0,1835.7 L233.5,1835.5 L235.0,1835.3 L236.5,1835.4 L238.0,1835.6 L239.5,1835.8 L241.0,1835.4 L242.5,1834.7 L244.0,1832.4 L245.5,1830.6 L247.0,1829.3 L248.5,1827.0 L250.0,1824.7 L251.5,1822.7 L253.0,1822.1 L254.5,1822.9 L256.0,1823.9 L257.5,1824.6 L259.0,1825.2 L260.5,1824.6 L262.0,1822.5 L263.5,1821.1 L265.0,1819.5 L266.5,1821.3 L268.0,1823.0 L269.5,1824.2 L271.0,1824.5 L272.5,1822.9 L274.0,1821.8 L275.5,1820.7 L277.0,1821.9 L278.5,1822.4 L280.0,1823.8 L281.5,1824.9 L283.0,1826.7 L284.5,1827.5 L286.0,1828.4 L287.5,1829.2 L289.0,1829.9 L290.5,1828.0 L292.0,1820.9 L293.5,1814.1 L295.0,1807.7 L296.5,1808.3 L298.0,1809.4 L299.5,1810.0 L301.0,1810.8 L302.5,1810.9 L304.0,1811.5 L305.5,1813.1 L307.0,1814.5 L308.5,1814.2 L310.0,1812.5 L311.5,1810.7 L313.0,1809.2 L314.5,1808.0 L316.0,1805.5 L317.5,1801.8 L319.0,1797.7 L320.5,1796.1 L322.0,1797.6 L323.5,1799.1 L325.0,1799.4 L326.5,1799.5 L328.0,1799.9 L329.5,1799.4 L331.0,1799.0 L332.5,1798.1 L334.0,1800.0 L335.5,1801.3 L337.0,1803.4 L338.5,1802.4 L340.0,1800.2 L341.5,1796.4 L343.0,1794.6 L344.5,1794.9 L346.0,1796.3 L347.5,1796.8 L349.0,1797.6 L350.0,1797.5 L351.2,1795.0 L352.5,1792.2 L353.8,1789.4 L355.0,1787.2 L356.2,1784.7 L357.5,1782.2 L358.8,1775.3 L360.0,1768.6 L361.2,1761.9 L362.5,1754.8 L363.8,1752.4 L365.0,1752.7 L366.2,1753.1 L367.5,1754.2 L368.8,1755.2 L370.0,1755.5 L371.2,1755.8 L372.5,1756.3 L373.8,1757.4 L375.0,1757.8 L376.2,1758.6 L377.5,1759.0 L378.8,1760.2 L380.0,1761.6 L381.2,1763.4 L382.5,1764.4 L383.8,1765.8 L385.0,1766.7 L386.2,1768.0 L387.5,1768.6 L388.8,1770.2 L390.0,1771.3 L391.2,1773.2 L392.5,1774.1 L393.8,1771.6 L395.0,1767.4 L396.2,1763.7 L397.5,1760.0 L398.8,1759.2 L400.0,1759.2 L401.2,1759.5 L402.5,1759.9 L403.8,1761.0 L405.0,1761.6 L406.2,1762.6 L407.5,1762.7 L408.8,1763.2 L410.0,1763.3 L411.2,1763.4 L412.5,1764.1 L413.8,1764.8 L415.0,1765.7 L416.2,1765.3 L417.5,1765.3 L418.8,1764.9 L420.0,1764.3 L421.2,1763.8 L422.5,1763.2 L423.8,1762.5 L425.0,1761.9 L426.2,1761.1 L427.5,1760.2 L428.8,1759.1 L430.0,1758.0 L431.2,1757.8 L432.5,1757.4 L433.8,1757.9 L435.0,1757.8 L436.2,1757.9 L437.5,1757.7 L438.8,1757.7 L440.0,1758.3 L441.2,1757.8 L442.5,1757.5 L443.8,1755.4 L445.0,1753.5 L446.2,1750.9 L447.5,1749.1 L448.8,1747.4 L450.0,1745.9 L451.2,1744.4 L452.5,1742.9 L453.8,1741.9 L455.0,1740.6 L456.2,1738.9 L457.5,1738.0 L458.8,1737.8 L460.0,1737.4 L461.2,1736.3 L462.5,1733.8 L463.8,1732.8 L465.0,1730.7 L466.2,1729.0 L467.5,1726.3 L468.8,1724.0 L470.0,1721.2 L471.2,1719.5 L472.5,1717.4 L473.8,1716.0 L475.0,1713.8 L476.2,1714.1 L477.5,1714.2 L478.8,1716.0 L480.0,1717.3 L481.2,1718.7 L482.5,1719.2 L483.8,1720.2 L485.0,1721.9 L486.2,1707.0 L487.5,1692.7 L488.8,1689.7 L490.0,1687.7 L491.2,1685.4 L492.5,1683.6 L493.8,1684.0 L495.0,1683.9 L496.2,1683.8 L497.5,1683.3 L498.8,1682.8 L500.0,1681.2 L501.2,1679.2 L502.5,1676.4 L503.8,1673.2 L505.0,1668.7 L506.2,1664.5 L507.5,1660.7 L508.8,1655.3 L510.0,1650.8 L511.2,1645.5 L512.5,1640.7 L513.8,1635.2 L515.0,1629.9 L516.2,1627.6 L517.5,1625.1 L518.8,1623.1 L520.0,1619.8 L521.2,1618.1 L522.5,1616.9 L523.8,1616.5 L525.0,1615.6 L526.2,1614.1 L527.5,1612.4 L528.8,1611.5 L530.0,1610.4 L531.2,1609.2 L532.5,1608.9 L533.8,1608.3 L535.0,1608.0 L536.2,1604.6 L537.5,1602.5 L538.8,1600.1 L540.0,1598.0 L541.2,1595.6 L542.5,1592.8 L543.8,1591.8 L545.0,1589.5 L546.2,1587.5 L547.5,1584.6 L548.8,1582.8 L550.0,1581.2 L551.2,1579.4 L552.5,1577.9 L553.8,1578.4 L555.0,1579.5 L556.2,1580.4 L557.5,1581.2 L558.8,1582.0 L560.0,1582.4 L561.2,1580.7 L562.5,1579.3 L563.8,1577.2 L565.0,1575.5 L566.2,1572.7 L567.5,1566.3 L568.8,1559.4 L570.0,1552.0 L571.2,1548.2 L572.5,1544.5 L573.8,1540.9 L575.0,1534.3 L576.2,1528.4 L577.5,1522.2 L578.8,1515.6 L580.0,1509.2 L581.2,1503.3 L582.5,1497.1 L583.8,1490.8 L585.0,1484.4 L586.2,1479.9 L587.5,1474.9 L588.8,1469.9 L590.0,1465.0 L591.2,1460.8 L592.5,1455.5 L593.8,1450.3 L595.0,1444.5 L596.2,1440.0 L597.5,1435.2 L598.8,1433.2 L600.0,1430.5 L601.2,1428.4 L602.5,1425.6 L603.8,1423.0 L605.0,1420.2 L606.2,1417.4 L607.5,1414.4 L608.8,1412.0 L610.0,1409.8 L611.2,1409.4 L612.5,1408.0 L613.8,1406.8 L615.0,1405.4 L616.2,1404.3 L617.5,1403.2 L618.8,1402.0 L620.0,1401.2 L621.2,1400.5 L622.5,1399.5 L623.8,1399.2 L625.0,1398.4 L626.2,1398.3 L627.5,1397.7 L628.8,1397.4 L630.0,1397.3 L631.2,1396.3 L632.5,1395.9 L633.8,1394.9 L635.0,1395.3 L636.2,1395.1 L637.5,1394.8 L638.8,1394.0 L640.0,1393.4 L641.2,1393.7 L642.5,1393.2 L643.8,1392.9 L645.0,1392.4 L646.2,1392.2 L647.5,1392.2 L648.8,1391.9 L650.0,1391.6 L651.2,1390.8 L652.5,1389.8 L653.8,1390.5 L655.0,1391.3 L656.2,1392.5 L657.5,1393.0 L658.8,1393.5 L660.0,1393.7 L661.2,1393.9 L662.5,1393.0 L663.8,1392.6 L665.0,1392.5 L666.2,1393.3 L667.5,1393.6 L668.8,1393.3 L670.0,1393.6 L671.2,1393.1 L672.5,1392.5 L673.8,1390.9 L675.0,1390.2 L676.2,1389.2 L677.5,1389.0 L678.8,1389.6 L680.0,1390.0 L681.2,1390.2 L682.5,1390.3 L683.8,1391.2 L685.0,1392.5 L686.2,1394.1 L687.5,1395.1 L688.8,1395.6 L690.0,1395.8 L691.2,1396.7 L692.5,1397.2 L693.8,1397.7 L695.0,1397.7 L696.2,1398.4 L697.5,1399.0 L698.8,1399.4 L700.0,1399.3 L701.2,1400.1 L702.5,1400.5 L703.8,1401.1 L705.0,1401.0 L706.2,1401.3 L707.5,1400.9 L708.8,1401.0 L710.0,1400.6 L711.2,1401.2 L712.5,1401.9 L713.8,1403.3 L715.0,1403.4 L716.2,1403.5 L717.5,1403.2 L718.8,1403.9 L720.0,1404.3 L721.2,1404.3 L722.5,1405.0 L723.8,1404.8 L725.0,1405.8 L726.2,1406.0 L727.5,1407.2 L728.8,1407.4 L730.0,1407.7 L731.2,1406.8 L732.5,1406.0 L733.8,1406.2 L735.0,1406.8 L736.2,1408.0 L737.5,1407.9 L738.8,1408.3 L740.0,1408.1 L741.2,1408.7 L742.5,1409.0 L743.8,1409.0 L745.0,1409.2 L746.2,1409.6 L747.5,1410.4 L748.8,1410.8 L750.0,1410.2 L751.2,1409.6 L752.5,1409.0 L753.8,1408.9 L755.0,1409.9 L756.2,1410.2 L757.5,1410.8 L758.8,1410.8 L760.0,1410.8 L761.2,1410.2 L762.5,1409.3 L763.8,1409.7 L765.0,1410.8 L766.2,1411.4 L767.5,1411.6 L768.8,1411.7 L770.0,1412.3 L771.2,1412.1 L772.5,1412.5 L773.8,1412.2 L775.0,1412.7 L776.2,1411.9 L777.5,1411.9 L778.8,1412.0 L780.0,1412.2 L781.2,1412.0 L782.5,1411.7 L783.8,1412.7 L785.0,1413.5 L786.2,1414.4 L787.5,1415.4 L788.8,1416.5 L790.0,1417.6 L791.2,1417.8 L792.5,1417.7 L793.8,1416.8 L795.0,1416.2 L796.2,1415.0 L797.5,1414.2 L798.8,1413.6 L800.0,1413.7 L801.2,1413.3 L802.5,1413.4" fill="none" stroke="#1f6fe6" stroke-width="3.8" stroke-linejoin="round" clip-path="url(#cc)"/>
<path d="M122.5,1857.5 L124.0,1857.0 L125.5,1856.8 L127.0,1857.1 L128.5,1857.1 L130.0,1856.2 L131.5,1856.6 L133.0,1857.9 L134.5,1859.7 L136.0,1860.8 L137.5,1861.5 L139.0,1860.3 L140.5,1860.4 L142.0,1860.1 L143.5,1860.1 L145.0,1859.2 L146.5,1860.0 L148.0,1860.4 L149.5,1861.3 L151.0,1861.2 L152.5,1861.3 L154.0,1860.8 L155.5,1860.7 L157.0,1861.0 L158.5,1860.9 L160.0,1860.2 L161.5,1859.6 L163.0,1859.9 L164.5,1860.4 L166.0,1861.2 L167.5,1861.3 L169.0,1859.3 L170.5,1857.3 L172.0,1855.1 L173.5,1852.8 L175.0,1850.7 L176.5,1848.0 L178.0,1845.7 L179.5,1843.2 L181.0,1841.3 L182.5,1838.9 L184.0,1838.3 L185.5,1837.4 L187.0,1836.6 L188.5,1837.4 L190.0,1838.4 L191.5,1839.0 L193.0,1840.3 L194.5,1841.5 L196.0,1842.9 L197.5,1844.5 L199.0,1842.1 L200.5,1840.8 L202.0,1838.2 L203.5,1836.9 L205.0,1835.1 L206.5,1833.8 L208.0,1833.2 L209.5,1833.6 L211.0,1834.6 L212.5,1835.2 L214.0,1836.5 L215.5,1836.3 L217.0,1834.3 L218.5,1832.9 L220.0,1831.0 L221.5,1832.3 L223.0,1833.0 L224.5,1833.9 L226.0,1835.1 L227.5,1836.6 L229.0,1836.9 L230.5,1837.4 L232.0,1837.8 L233.5,1837.7 L235.0,1836.4 L236.5,1836.0 L238.0,1835.8 L239.5,1836.7 L241.0,1836.8 L242.5,1836.8 L244.0,1835.0 L245.5,1833.1 L247.0,1831.8 L248.5,1829.4 L250.0,1827.1 L251.5,1824.5 L253.0,1824.4 L254.5,1824.6 L256.0,1825.1 L257.5,1824.5 L259.0,1825.6 L260.5,1825.6 L262.0,1824.1 L263.5,1823.0 L265.0,1822.0 L266.5,1823.4 L268.0,1824.5 L269.5,1824.8 L271.0,1824.4 L272.5,1823.5 L274.0,1823.1 L275.5,1822.8 L277.0,1823.8 L278.5,1825.0 L280.0,1826.2 L281.5,1826.5 L283.0,1827.1 L284.5,1828.4 L286.0,1829.7 L287.5,1830.6 L289.0,1830.9 L290.5,1829.3 L292.0,1822.3 L293.5,1815.9 L295.0,1809.3 L296.5,1810.2 L298.0,1810.9 L299.5,1811.0 L301.0,1811.4 L302.5,1812.3 L304.0,1813.8 L305.5,1815.3 L307.0,1816.5 L308.5,1815.8 L310.0,1814.3 L311.5,1812.7 L313.0,1811.3 L314.5,1810.2 L316.0,1807.5 L317.5,1803.7 L319.0,1799.8 L320.5,1797.7 L322.0,1799.3 L323.5,1800.9 L325.0,1801.3 L326.5,1802.1 L328.0,1802.1 L329.5,1803.1 L331.0,1802.5 L332.5,1802.3 L334.0,1803.7 L335.5,1805.3 L337.0,1806.6 L338.5,1804.7 L340.0,1802.0 L341.5,1798.8 L343.0,1797.2 L344.5,1797.7 L346.0,1798.5 L347.5,1799.6 L349.0,1800.1 L350.0,1800.9 L351.2,1797.9 L352.5,1795.8 L353.8,1792.9 L355.0,1790.5 L356.2,1788.2 L357.5,1785.5 L358.8,1780.1 L360.0,1773.7 L361.2,1768.2 L362.5,1762.1 L363.8,1760.0 L365.0,1760.9 L366.2,1761.6 L367.5,1762.3 L368.8,1762.6 L370.0,1763.8 L371.2,1763.7 L372.5,1763.8 L373.8,1763.8 L375.0,1764.3 L376.2,1765.8 L377.5,1766.9 L378.8,1768.2 L380.0,1768.9 L381.2,1769.8 L382.5,1771.2 L383.8,1772.2 L385.0,1773.1 L386.2,1773.7 L387.5,1774.6 L388.8,1775.6 L390.0,1777.0 L391.2,1777.5 L392.5,1777.7 L393.8,1776.0 L395.0,1773.4 L396.2,1770.7 L397.5,1767.6 L398.8,1765.8 L400.0,1766.0 L401.2,1766.0 L402.5,1766.9 L403.8,1767.1 L405.0,1767.8 L406.2,1768.1 L407.5,1768.4 L408.8,1768.9 L410.0,1769.7 L411.2,1770.1 L412.5,1770.8 L413.8,1770.6 L415.0,1771.0 L416.2,1770.9 L417.5,1770.5 L418.8,1770.5 L420.0,1770.2 L421.2,1770.2 L422.5,1770.0 L423.8,1768.5 L425.0,1767.5 L426.2,1766.3 L427.5,1766.0 L428.8,1764.9 L430.0,1763.5 L431.2,1762.7 L432.5,1761.6 L433.8,1761.4 L435.0,1759.9 L436.2,1761.2 L437.5,1762.2 L438.8,1763.8 L440.0,1765.0 L441.2,1764.2 L442.5,1763.5 L443.8,1762.2 L445.0,1760.6 L446.2,1759.2 L447.5,1757.9 L448.8,1756.5 L450.0,1755.1 L451.2,1753.4 L452.5,1751.9 L453.8,1750.5 L455.0,1749.7 L456.2,1748.4 L457.5,1747.6 L458.8,1746.1 L460.0,1745.2 L461.2,1743.3 L462.5,1742.3 L463.8,1740.8 L465.0,1739.5 L466.2,1737.8 L467.5,1736.6 L468.8,1734.6 L470.0,1732.8 L471.2,1730.8 L472.5,1729.6 L473.8,1727.9 L475.0,1726.5 L476.2,1726.9 L477.5,1727.1 L478.8,1728.0 L480.0,1727.9 L481.2,1728.8 L482.5,1729.5 L483.8,1730.6 L485.0,1731.5 L486.2,1718.8 L487.5,1706.0 L488.8,1704.3 L490.0,1702.9 L491.2,1702.0 L492.5,1700.2 L493.8,1699.8 L495.0,1699.3 L496.2,1699.0 L497.5,1699.2 L498.8,1698.6 L500.0,1697.7 L501.2,1697.6 L502.5,1698.5 L503.8,1699.6 L505.0,1698.2 L506.2,1694.1 L507.5,1690.3 L508.8,1686.2 L510.0,1680.8 L511.2,1674.2 L512.5,1667.9 L513.8,1662.1 L515.0,1656.1 L516.2,1652.1 L517.5,1647.3 L518.8,1643.1 L520.0,1639.4 L521.2,1638.2 L522.5,1637.2 L523.8,1635.7 L525.0,1634.1 L526.2,1633.0 L527.5,1631.7 L528.8,1630.1 L530.0,1628.2 L531.2,1626.3 L532.5,1625.5 L533.8,1623.8 L535.0,1622.6 L536.2,1619.7 L537.5,1616.4 L538.8,1613.5 L540.0,1610.6 L541.2,1608.4 L542.5,1605.1 L543.8,1603.3 L545.0,1602.0 L546.2,1600.3 L547.5,1598.4 L548.8,1596.4 L550.0,1595.0 L551.2,1594.8 L552.5,1594.8 L553.8,1594.3 L555.0,1594.3 L556.2,1593.1 L557.5,1592.1 L558.8,1591.5 L560.0,1591.8 L561.2,1591.0 L562.5,1589.9 L563.8,1588.2 L565.0,1586.9 L566.2,1584.0 L567.5,1577.4 L568.8,1571.4 L570.0,1565.5 L571.2,1561.2 L572.5,1556.2 L573.8,1551.2 L575.0,1546.0 L576.2,1541.0 L577.5,1535.0 L578.8,1528.8 L580.0,1522.9 L581.2,1517.4 L582.5,1511.6 L583.8,1505.8 L585.0,1500.1 L586.2,1495.0 L587.5,1490.5 L588.8,1485.1 L590.0,1480.4 L591.2,1474.6 L592.5,1469.5 L593.8,1463.9 L595.0,1458.2 L596.2,1452.2 L597.5,1446.5 L598.8,1443.9 L600.0,1441.3 L601.2,1439.1 L602.5,1436.6 L603.8,1434.4 L605.0,1431.8 L606.2,1429.8 L607.5,1427.3 L608.8,1424.8 L610.0,1422.6 L611.2,1421.6 L612.5,1421.3 L613.8,1419.7 L615.0,1418.7 L616.2,1417.4 L617.5,1416.1 L618.8,1415.6 L620.0,1415.1 L621.2,1414.3 L622.5,1413.2 L623.8,1412.3 L625.0,1411.8 L626.2,1411.4 L627.5,1410.5 L628.8,1410.2 L630.0,1409.5 L631.2,1409.2 L632.5,1408.9 L633.8,1407.7 L635.0,1407.2 L636.2,1406.8 L637.5,1406.6 L638.8,1406.1 L640.0,1405.6 L641.2,1405.6 L642.5,1405.7 L643.8,1405.5 L645.0,1404.8 L646.2,1404.5 L647.5,1404.7 L648.8,1405.0 L650.0,1404.6 L651.2,1403.9 L652.5,1403.8 L653.8,1403.8 L655.0,1404.6 L656.2,1404.6 L657.5,1405.9 L658.8,1405.5 L660.0,1405.6 L661.2,1405.0 L662.5,1405.4 L663.8,1405.8 L665.0,1405.8 L666.2,1405.5 L667.5,1405.3 L668.8,1405.6 L670.0,1405.4 L671.2,1404.7 L672.5,1403.4 L673.8,1402.5 L675.0,1401.2 L676.2,1400.5 L677.5,1399.6 L678.8,1399.9 L680.0,1400.9 L681.2,1401.8 L682.5,1403.0 L683.8,1404.0 L685.0,1403.9 L686.2,1404.4 L687.5,1404.4 L688.8,1405.9 L690.0,1406.2 L691.2,1406.5 L692.5,1406.4 L693.8,1407.3 L695.0,1408.5 L696.2,1409.1 L697.5,1409.4 L698.8,1409.4 L700.0,1409.9 L701.2,1409.8 L702.5,1410.5 L703.8,1410.4 L705.0,1411.6 L706.2,1411.2 L707.5,1412.2 L708.8,1412.5 L710.0,1413.0 L711.2,1412.7 L712.5,1412.5 L713.8,1412.9 L715.0,1413.1 L716.2,1413.3 L717.5,1413.8 L718.8,1414.6 L720.0,1415.3 L721.2,1414.8 L722.5,1414.6 L723.8,1414.3 L725.0,1414.7 L726.2,1415.2 L727.5,1414.8 L728.8,1415.3 L730.0,1415.4 L731.2,1416.0 L732.5,1415.4 L733.8,1414.6 L735.0,1414.0 L736.2,1414.6 L737.5,1415.3 L738.8,1416.5 L740.0,1416.6 L741.2,1416.5 L742.5,1416.5 L743.8,1416.6 L745.0,1417.3 L746.2,1417.4 L747.5,1417.3 L748.8,1416.9 L750.0,1417.1 L751.2,1417.1 L752.5,1417.1 L753.8,1416.3 L755.0,1416.4 L756.2,1416.6 L757.5,1416.8 L758.8,1416.9 L760.0,1416.8 L761.2,1417.2 L762.5,1417.0 L763.8,1417.2 L765.0,1417.1 L766.2,1417.4 L767.5,1418.0 L768.8,1418.2 L770.0,1418.8 L771.2,1418.7 L772.5,1418.9 L773.8,1419.0 L775.0,1418.9 L776.2,1418.5 L777.5,1418.9 L778.8,1419.1 L780.0,1419.3 L781.2,1419.5 L782.5,1420.0 L783.8,1420.1 L785.0,1420.5 L786.2,1420.7 L787.5,1421.6 L788.8,1421.2 L790.0,1421.6 L791.2,1421.3 L792.5,1421.5 L793.8,1420.7 L795.0,1420.3 L796.2,1420.2 L797.5,1420.7 L798.8,1420.5 L800.0,1420.2 L801.2,1419.5 L802.5,1419.5" fill="none" stroke="#2fa862" stroke-width="3.8" stroke-linejoin="round" clip-path="url(#cc)"/>
<path d="M122.5,1858.9 L124.0,1858.3 L125.5,1857.8 L127.0,1857.1 L128.5,1856.9 L130.0,1856.2 L131.5,1857.6 L133.0,1858.0 L134.5,1859.3 L136.0,1860.2 L137.5,1861.8 L139.0,1861.3 L140.5,1861.4 L142.0,1860.9 L143.5,1860.0 L145.0,1859.5 L146.5,1860.2 L148.0,1861.0 L149.5,1861.4 L151.0,1861.9 L152.5,1862.1 L154.0,1861.2 L155.5,1860.2 L157.0,1860.8 L158.5,1860.2 L160.0,1860.0 L161.5,1860.0 L163.0,1861.2 L164.5,1862.1 L166.0,1862.4 L167.5,1862.6 L169.0,1860.4 L170.5,1858.3 L172.0,1856.0 L173.5,1853.8 L175.0,1851.8 L176.5,1849.7 L178.0,1847.4 L179.5,1844.7 L181.0,1842.1 L182.5,1839.7 L184.0,1838.9 L185.5,1837.9 L187.0,1837.1 L188.5,1838.2 L190.0,1839.5 L191.5,1840.4 L193.0,1841.4 L194.5,1842.5 L196.0,1843.5 L197.5,1844.1 L199.0,1842.4 L200.5,1841.4 L202.0,1840.0 L203.5,1838.2 L205.0,1836.1 L206.5,1834.8 L208.0,1834.9 L209.5,1835.6 L211.0,1836.5 L212.5,1836.6 L214.0,1837.5 L215.5,1837.2 L217.0,1835.7 L218.5,1834.3 L220.0,1832.8 L221.5,1833.8 L223.0,1834.9 L224.5,1835.7 L226.0,1837.0 L227.5,1837.8 L229.0,1837.9 L230.5,1838.0 L232.0,1838.8 L233.5,1838.5 L235.0,1838.3 L236.5,1837.8 L238.0,1837.9 L239.5,1837.6 L241.0,1837.2 L242.5,1837.3 L244.0,1835.5 L245.5,1833.9 L247.0,1832.3 L248.5,1830.2 L250.0,1828.7 L251.5,1826.4 L253.0,1826.0 L254.5,1826.2 L256.0,1826.8 L257.5,1827.3 L259.0,1828.1 L260.5,1828.0 L262.0,1826.7 L263.5,1825.4 L265.0,1823.9 L266.5,1824.6 L268.0,1825.1 L269.5,1826.4 L271.0,1826.8 L272.5,1825.4 L274.0,1824.4 L275.5,1823.7 L277.0,1825.7 L278.5,1826.5 L280.0,1827.9 L281.5,1828.4 L283.0,1829.9 L284.5,1831.1 L286.0,1831.8 L287.5,1831.9 L289.0,1832.6 L290.5,1830.8 L292.0,1824.6 L293.5,1817.8 L295.0,1810.9 L296.5,1811.5 L298.0,1812.3 L299.5,1813.4 L301.0,1815.1 L302.5,1815.8 L304.0,1817.3 L305.5,1817.7 L307.0,1819.2 L308.5,1818.2 L310.0,1817.1 L311.5,1816.0 L313.0,1815.0 L314.5,1813.4 L316.0,1809.7 L317.5,1806.3 L319.0,1802.4 L320.5,1801.5 L322.0,1802.2 L323.5,1803.4 L325.0,1803.7 L326.5,1805.1 L328.0,1806.0 L329.5,1806.0 L331.0,1805.1 L332.5,1805.1 L334.0,1807.1 L335.5,1809.1 L337.0,1810.2 L338.5,1808.0 L340.0,1804.8 L341.5,1802.5 L343.0,1801.1 L344.5,1801.7 L346.0,1802.9 L347.5,1804.4 L349.0,1806.1 L350.0,1805.7 L351.2,1802.9 L352.5,1799.7 L353.8,1797.3 L355.0,1794.7 L356.2,1792.2 L357.5,1789.8 L358.8,1785.2 L360.0,1781.8 L361.2,1777.7 L362.5,1774.1 L363.8,1769.9 L365.0,1770.4 L366.2,1770.7 L367.5,1770.9 L368.8,1771.0 L370.0,1771.8 L371.2,1772.8 L372.5,1774.5 L373.8,1775.0 L375.0,1775.5 L376.2,1775.7 L377.5,1776.5 L378.8,1776.5 L380.0,1777.4 L381.2,1778.5 L382.5,1779.4 L383.8,1780.0 L385.0,1781.0 L386.2,1782.1 L387.5,1782.6 L388.8,1782.7 L390.0,1783.1 L391.2,1783.3 L392.5,1784.3 L393.8,1784.8 L395.0,1783.0 L396.2,1780.3 L397.5,1777.5 L398.8,1775.0 L400.0,1775.1 L401.2,1775.4 L402.5,1775.6 L403.8,1775.3 L405.0,1775.4 L406.2,1775.9 L407.5,1776.1 L408.8,1776.9 L410.0,1777.0 L411.2,1776.9 L412.5,1776.5 L413.8,1776.3 L415.0,1777.5 L416.2,1777.4 L417.5,1777.6 L418.8,1777.3 L420.0,1777.2 L421.2,1776.5 L422.5,1775.9 L423.8,1775.2 L425.0,1774.6 L426.2,1774.0 L427.5,1772.7 L428.8,1771.5 L430.0,1770.2 L431.2,1769.0 L432.5,1767.5 L433.8,1766.2 L435.0,1764.4 L436.2,1766.3 L437.5,1768.2 L438.8,1770.7 L440.0,1772.6 L441.2,1772.4 L442.5,1771.2 L443.8,1770.6 L445.0,1769.1 L446.2,1767.7 L447.5,1767.2 L448.8,1766.3 L450.0,1765.3 L451.2,1763.4 L452.5,1761.7 L453.8,1761.1 L455.0,1760.5 L456.2,1759.5 L457.5,1758.1 L458.8,1756.9 L460.0,1755.9 L461.2,1754.8 L462.5,1753.1 L463.8,1751.3 L465.0,1749.8 L466.2,1749.1 L467.5,1748.2 L468.8,1747.2 L470.0,1744.9 L471.2,1744.2 L472.5,1742.8 L473.8,1742.8 L475.0,1742.1 L476.2,1741.9 L477.5,1741.5 L478.8,1741.5 L480.0,1742.0 L481.2,1742.0 L482.5,1742.1 L483.8,1741.9 L485.0,1742.4 L486.2,1732.4 L487.5,1722.7 L488.8,1721.7 L490.0,1720.9 L491.2,1719.0 L492.5,1718.1 L493.8,1717.8 L495.0,1717.5 L496.2,1716.9 L497.5,1715.5 L498.8,1715.1 L500.0,1714.5 L501.2,1715.4 L502.5,1715.7 L503.8,1715.3 L505.0,1716.2 L506.2,1712.4 L507.5,1709.6 L508.8,1706.5 L510.0,1703.4 L511.2,1699.6 L512.5,1695.3 L513.8,1691.3 L515.0,1687.3 L516.2,1683.7 L517.5,1680.0 L518.8,1677.5 L520.0,1674.3 L521.2,1672.0 L522.5,1669.3 L523.8,1667.2 L525.0,1664.5 L526.2,1663.3 L527.5,1661.5 L528.8,1660.0 L530.0,1658.8 L531.2,1657.7 L532.5,1656.4 L533.8,1654.7 L535.0,1652.3 L536.2,1647.7 L537.5,1643.3 L538.8,1639.5 L540.0,1635.3 L541.2,1632.7 L542.5,1630.5 L543.8,1628.0 L545.0,1626.3 L546.2,1624.5 L547.5,1622.6 L548.8,1620.3 L550.0,1617.4 L551.2,1616.3 L552.5,1614.4 L553.8,1613.2 L555.0,1610.9 L556.2,1610.2 L557.5,1609.0 L558.8,1610.8 L560.0,1611.8 L561.2,1613.8 L562.5,1615.5 L563.8,1612.7 L565.0,1608.5 L566.2,1605.1 L567.5,1601.5 L568.8,1598.3 L570.0,1591.9 L571.2,1585.7 L572.5,1578.8 L573.8,1572.3 L575.0,1564.9 L576.2,1559.2 L577.5,1552.9 L578.8,1547.2 L580.0,1540.0 L581.2,1534.5 L582.5,1529.2 L583.8,1523.8 L585.0,1517.6 L586.2,1511.2 L587.5,1505.6 L588.8,1500.5 L590.0,1494.9 L591.2,1491.1 L592.5,1486.8 L593.8,1482.6 L595.0,1478.4 L596.2,1474.4 L597.5,1470.6 L598.8,1466.6 L600.0,1462.5 L601.2,1460.1 L602.5,1457.0 L603.8,1454.4 L605.0,1452.2 L606.2,1450.3 L607.5,1447.8 L608.8,1444.7 L610.0,1441.9 L611.2,1440.5 L612.5,1438.7 L613.8,1437.2 L615.0,1435.7 L616.2,1434.1 L617.5,1432.2 L618.8,1430.7 L620.0,1429.8 L621.2,1429.3 L622.5,1428.5 L623.8,1427.2 L625.0,1425.9 L626.2,1425.2 L627.5,1425.7 L628.8,1425.8 L630.0,1425.3 L631.2,1424.7 L632.5,1424.1 L633.8,1423.2 L635.0,1422.4 L636.2,1421.9 L637.5,1422.1 L638.8,1422.6 L640.0,1422.3 L641.2,1422.1 L642.5,1422.1 L643.8,1422.4 L645.0,1421.3 L646.2,1420.4 L647.5,1419.7 L648.8,1419.8 L650.0,1419.3 L651.2,1419.1 L652.5,1419.5 L653.8,1419.8 L655.0,1420.6 L656.2,1420.0 L657.5,1420.4 L658.8,1419.7 L660.0,1419.6 L661.2,1419.4 L662.5,1419.4 L663.8,1419.6 L665.0,1419.7 L666.2,1419.7 L667.5,1419.1 L668.8,1419.0 L670.0,1418.4 L671.2,1417.4 L672.5,1416.3 L673.8,1416.1 L675.0,1415.5 L676.2,1414.3 L677.5,1412.9 L678.8,1412.4 L680.0,1413.2 L681.2,1414.5 L682.5,1414.8 L683.8,1416.1 L685.0,1417.0 L686.2,1419.1 L687.5,1420.3 L688.8,1421.0 L690.0,1420.8 L691.2,1421.0 L692.5,1421.3 L693.8,1422.3 L695.0,1422.8 L696.2,1424.0 L697.5,1424.6 L698.8,1425.0 L700.0,1425.0 L701.2,1424.9 L702.5,1425.0 L703.8,1425.7 L705.0,1425.7 L706.2,1425.8 L707.5,1425.8 L708.8,1425.7 L710.0,1425.7 L711.2,1425.7 L712.5,1426.0 L713.8,1426.1 L715.0,1426.4 L716.2,1426.4 L717.5,1426.9 L718.8,1426.8 L720.0,1426.8 L721.2,1425.9 L722.5,1425.8 L723.8,1426.4 L725.0,1427.2 L726.2,1427.3 L727.5,1427.2 L728.8,1427.4 L730.0,1427.5 L731.2,1427.2 L732.5,1427.5 L733.8,1427.5 L735.0,1428.0 L736.2,1427.5 L737.5,1427.7 L738.8,1428.0 L740.0,1428.0 L741.2,1428.0 L742.5,1427.8 L743.8,1427.8 L745.0,1428.5 L746.2,1428.4 L747.5,1429.0 L748.8,1428.1 L750.0,1428.3 L751.2,1427.9 L752.5,1427.8 L753.8,1427.7 L755.0,1427.0 L756.2,1426.8 L757.5,1426.8 L758.8,1427.8 L760.0,1428.0 L761.2,1427.8 L762.5,1427.7 L763.8,1427.9 L765.0,1428.0 L766.2,1427.6 L767.5,1427.2 L768.8,1428.0 L770.0,1428.0 L771.2,1428.1 L772.5,1428.0 L773.8,1428.8 L775.0,1429.2 L776.2,1429.6 L777.5,1429.2 L778.8,1429.8 L780.0,1429.8 L781.2,1430.5 L782.5,1429.8 L783.8,1430.3 L785.0,1430.5 L786.2,1431.2 L787.5,1430.6 L788.8,1431.0 L790.0,1430.8 L791.2,1431.3 L792.5,1430.8 L793.8,1430.8 L795.0,1430.9 L796.2,1431.1 L797.5,1431.6 L798.8,1431.2 L800.0,1431.3 L801.2,1430.7 L802.5,1430.9" fill="none" stroke="#b377ee" stroke-width="3.8" stroke-linejoin="round" clip-path="url(#cc)"/>
<circle cx="433.3" cy="1739.5" r="10.3" fill="#0000ff"/>
<text transform="translate(110.0,1870.3) scale(1.000,1)" font-size="31.0" font-weight="bold" text-anchor="end">1.0</text>
<text transform="translate(110.0,1751.6) scale(1.000,1)" font-size="31.0" font-weight="bold" text-anchor="end">1.5</text>
<text transform="translate(110.0,1632.9) scale(1.000,1)" font-size="31.0" font-weight="bold" text-anchor="end">2.0</text>
<text transform="translate(110.0,1514.2) scale(1.000,1)" font-size="31.0" font-weight="bold" text-anchor="end">2.5</text>
<text transform="translate(110.0,1395.5) scale(1.000,1)" font-size="31.0" font-weight="bold" text-anchor="end">3.0</text>
<text transform="translate(122.5,1920.7) scale(1.000,1)" font-size="31.0" font-weight="bold" text-anchor="middle">0</text>
<text transform="translate(348.0,1920.7) scale(1.000,1)" font-size="31.0" font-weight="bold" text-anchor="middle">5</text>
<text transform="translate(576.0,1920.7) scale(1.000,1)" font-size="31.0" font-weight="bold" text-anchor="middle">10</text>
<text transform="translate(803.0,1920.7) scale(1.000,1)" font-size="31.0" font-weight="bold" text-anchor="middle">15</text>
<text transform="translate(462.0,1953.0) scale(1.055,1)" font-size="31.6" font-weight="bold" text-anchor="middle">Time / min</text>
<text transform="translate(49.5,1601.8) rotate(-90) scale(1,1.02)" font-size="33.4" font-weight="bold" text-anchor="middle">Enhancement factor</text>
<text transform="translate(23.0,1358.0) scale(1.000,1)" font-size="33.0" font-weight="normal" text-anchor="start">(c)</text>
<rect x="819.8" y="1336.2" width="175.6" height="210.8" fill="#fff" stroke="#5a5a5a" stroke-width="1.3"/>
<path d="M823,1358.8H901" stroke="#4f4f4f" stroke-width="3.6"/>
<text transform="translate(907.3,1368.6) scale(1.000,1)" font-size="29.0" font-weight="bold" text-anchor="start">Focus</text>
<path d="M823,1400.4H901" stroke="#f23636" stroke-width="3.6"/>
<text transform="translate(907.3,1410.2) scale(1.000,1)" font-size="29.0" font-weight="bold" text-anchor="start">5 µm</text>
<path d="M823,1442.0H901" stroke="#1f6fe6" stroke-width="3.6"/>
<text transform="translate(907.3,1451.8) scale(1.000,1)" font-size="29.0" font-weight="bold" text-anchor="start">10 µm</text>
<path d="M823,1483.6H901" stroke="#2fa862" stroke-width="3.6"/>
<text transform="translate(907.3,1493.4) scale(1.000,1)" font-size="29.0" font-weight="bold" text-anchor="start">15 µm</text>
<path d="M823,1525.2H901" stroke="#b377ee" stroke-width="3.6"/>
<text transform="translate(907.3,1535.0) scale(1.000,1)" font-size="29.0" font-weight="bold" text-anchor="start">20 µm</text>
</g>
</svg>
</body></html>
